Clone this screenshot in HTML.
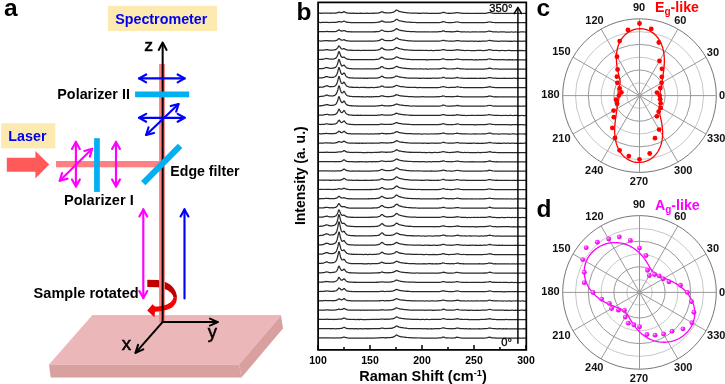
<!DOCTYPE html>
<html><head><meta charset="utf-8"><title>Polarized Raman</title>
<style>html,body{margin:0;padding:0;background:#fff;} svg{display:block;}</style></head>
<body><svg width="725" height="384" viewBox="0 0 725 384" font-family="'Liberation Sans', Arial, sans-serif">
<rect width="725" height="384" fill="#fff"/>
<text x="4" y="16.2" font-size="24.5" font-weight="bold" fill="#000" text-anchor="start" >a</text>
<rect x="107.8" y="5.8" width="109.3" height="25.2" fill="#FDEAB0"/>
<text x="115.2" y="24.1" font-size="14.3" font-weight="bold" fill="#0000F0" text-anchor="start" >Spectrometer</text>
<rect x="1.2" y="123.3" width="54.1" height="25.1" fill="#FDEAB0"/>
<text x="8.3" y="141.2" font-size="14.3" font-weight="bold" fill="#0000F0" text-anchor="start" >Laser</text>
<polygon points="92,315.5 281,315.5 239,364.5 49,364.5" fill="#ECB7B8"/>
<polygon points="49,364.5 239,364.5 241.5,377.6 50.6,377.6" fill="#D9A0A0"/>
<polygon points="281,315.5 283,328.4 241.5,377.6 239,364.5" fill="#D9A0A0"/>
<line x1="92" y1="315.8" x2="281" y2="315.8" stroke="#E3A6A8" stroke-width="0.8"/>
<polygon points="6.8,157.8 35.4,157.8 35.4,151 49.2,164.6 35.4,178.5 35.4,171.8 6.8,171.8" fill="#FF5A5A"/>
<rect x="56" y="161" width="105" height="6.3" fill="#FF8080"/>
<path d="M147.3,279.8 L157.9,280.1 C161,280.5 164,281.5 166.3,282.6 C169,283.9 171.2,285.4 172.7,287.1 C174.6,289.2 175.9,291.8 176.5,294.2 C176.8,295.3 176.9,296.2 176.9,297.3 L173.4,297.2 C173.0,295.5 172.2,294 170.6,292.6 C169,291.1 167.2,290 165.2,289.3 C162.8,288.3 160.2,287.6 157.9,287.3 L147.3,287.0 Z" fill="#C00000"/>
<rect x="159.1" y="64" width="5.8" height="258.2" fill="#FF8080"/>
<path d="M176.9,297 C176.9,299 176.7,300.8 176.0,302.6 C175.0,304.6 173.8,306 172.3,307.2 C170.2,308.6 167.8,309.6 165.2,310.2 C162.6,310.9 160.2,311.2 157.9,311.4 L155.0,311.8 L154.4,317.2 L147.2,310.6 L152.6,304.2 L154.9,306.6 L157.9,306.4 C160.5,306.2 163,305.7 165.2,305 C167.6,304.2 169.6,303 171.3,301.4 C172.5,300.1 173.2,298.8 173.4,297.2 Z" fill="#F50000"/>
<line x1="162.65" y1="322.20" x2="162.65" y2="43.00" stroke="#000" stroke-width="2.0" stroke-linecap="butt" />
<polyline points="166.59,49.92 162.65,42.50 158.71,49.92" fill="none" stroke="#000" stroke-width="2.0" stroke-linecap="round" stroke-linejoin="round"/>
<text x="144.6" y="50.9" font-size="13.4" font-weight="bold" fill="#000" text-anchor="start" stroke="#000" stroke-width="0.35">Z</text>
<rect x="135.1" y="91.5" width="54.1" height="5.8" fill="#00B0F0"/>
<text transform="translate(57.3,98.6) scale(1.0261,1)" font-size="14" font-weight="bold" fill="#000" text-anchor="start" >Polarizer II</text>
<line x1="139.10" y1="78.40" x2="184.70" y2="78.40" stroke="#0000FF" stroke-width="2.15" stroke-linecap="round" />
<polyline points="177.62,82.33 184.70,78.40 177.62,74.47" fill="none" stroke="#0000FF" stroke-width="2.15" stroke-linecap="round" stroke-linejoin="round"/>
<polyline points="146.18,74.47 139.10,78.40 146.18,82.33" fill="none" stroke="#0000FF" stroke-width="2.15" stroke-linecap="round" stroke-linejoin="round"/>
<line x1="139.10" y1="117.80" x2="184.70" y2="117.80" stroke="#0000FF" stroke-width="2.15" stroke-linecap="round" />
<polyline points="177.62,121.73 184.70,117.80 177.62,113.87" fill="none" stroke="#0000FF" stroke-width="2.15" stroke-linecap="round" stroke-linejoin="round"/>
<polyline points="146.18,113.87 139.10,117.80 146.18,121.73" fill="none" stroke="#0000FF" stroke-width="2.15" stroke-linecap="round" stroke-linejoin="round"/>
<line x1="146.15" y1="134.98" x2="178.55" y2="104.02" stroke="#0000FF" stroke-width="2.15" stroke-linecap="round" />
<polyline points="176.14,111.76 178.55,104.02 170.71,106.08" fill="none" stroke="#0000FF" stroke-width="2.15" stroke-linecap="round" stroke-linejoin="round"/>
<polyline points="148.56,127.24 146.15,134.98 153.99,132.92" fill="none" stroke="#0000FF" stroke-width="2.15" stroke-linecap="round" stroke-linejoin="round"/>
<rect x="94.1" y="138.2" width="5.7" height="53.7" fill="#00B0F0"/>
<text transform="translate(63.9,205.1) scale(1.0437,1)" font-size="14" font-weight="bold" fill="#000" text-anchor="start" >Polarizer I</text>
<line x1="75.90" y1="141.90" x2="75.90" y2="186.50" stroke="#FF00FF" stroke-width="2.15" stroke-linecap="round" />
<polyline points="71.97,179.42 75.90,186.50 79.83,179.42" fill="none" stroke="#FF00FF" stroke-width="2.15" stroke-linecap="round" stroke-linejoin="round"/>
<polyline points="79.83,148.98 75.90,141.90 71.97,148.98" fill="none" stroke="#FF00FF" stroke-width="2.15" stroke-linecap="round" stroke-linejoin="round"/>
<line x1="116.00" y1="141.90" x2="116.00" y2="186.50" stroke="#FF00FF" stroke-width="2.15" stroke-linecap="round" />
<polyline points="112.07,179.42 116.00,186.50 119.93,179.42" fill="none" stroke="#FF00FF" stroke-width="2.15" stroke-linecap="round" stroke-linejoin="round"/>
<polyline points="119.93,148.98 116.00,141.90 112.07,148.98" fill="none" stroke="#FF00FF" stroke-width="2.15" stroke-linecap="round" stroke-linejoin="round"/>
<line x1="59.74" y1="180.77" x2="92.16" y2="148.83" stroke="#FF00FF" stroke-width="2.15" stroke-linecap="round" />
<polyline points="89.87,156.60 92.16,148.83 84.36,151.01" fill="none" stroke="#FF00FF" stroke-width="2.15" stroke-linecap="round" stroke-linejoin="round"/>
<polyline points="62.03,173.00 59.74,180.77 67.54,178.59" fill="none" stroke="#FF00FF" stroke-width="2.15" stroke-linecap="round" stroke-linejoin="round"/>
<line x1="143.25" y1="183.15" x2="180.10" y2="145.85" stroke="#00B0F0" stroke-width="6.2" stroke-linecap="butt" />
<text transform="translate(170.3,176.3) scale(1.0119,1)" font-size="14" font-weight="bold" fill="#000" text-anchor="start" >Edge filter</text>
<line x1="143.30" y1="298.10" x2="143.30" y2="209.40" stroke="#FF00FF" stroke-width="2.15" stroke-linecap="round" />
<polyline points="147.23,216.48 143.30,209.40 139.37,216.48" fill="none" stroke="#FF00FF" stroke-width="2.15" stroke-linecap="round" stroke-linejoin="round"/>
<polyline points="139.37,291.02 143.30,298.10 147.23,291.02" fill="none" stroke="#FF00FF" stroke-width="2.15" stroke-linecap="round" stroke-linejoin="round"/>
<line x1="184.50" y1="298.40" x2="184.50" y2="209.40" stroke="#0000FF" stroke-width="2.15" stroke-linecap="round" />
<polyline points="188.43,216.48 184.50,209.40 180.57,216.48" fill="none" stroke="#0000FF" stroke-width="2.15" stroke-linecap="round" stroke-linejoin="round"/>
<text transform="translate(33.6,297.6) scale(1.0404,1)" font-size="14" font-weight="bold" fill="#000" text-anchor="start" >Sample rotated</text>
<line x1="162.50" y1="322.10" x2="217.60" y2="322.10" stroke="#000" stroke-width="2.0" stroke-linecap="round" />
<polyline points="209.94,325.60 217.80,322.10 209.94,318.60" fill="none" stroke="#000" stroke-width="2.0" stroke-linecap="round" stroke-linejoin="round"/>
<line x1="162.50" y1="322.10" x2="135.50" y2="352.90" stroke="#000" stroke-width="2.0" stroke-linecap="round" />
<polyline points="138.05,344.69 135.50,352.90 143.31,349.30" fill="none" stroke="#000" stroke-width="2.0" stroke-linecap="round" stroke-linejoin="round"/>
<text x="121.7" y="350.3" font-size="18.8" font-weight="normal" fill="#000" text-anchor="start" stroke="#000" stroke-width="0.5">x</text>
<text x="207.8" y="337.5" font-size="18.5" font-weight="normal" fill="#000" text-anchor="start" stroke="#000" stroke-width="0.5">y</text>
<text x="296.5" y="19.6" font-size="24.5" font-weight="bold" fill="#000" text-anchor="start" >b</text>
<g fill="none" stroke="#2a2a2a" stroke-width="1.25" stroke-linejoin="round"><polyline points="318.0,13.2 318.5,13.2 319.0,13.2 319.6,13.2 320.1,13.2 320.6,13.3 321.1,13.3 321.6,13.1 322.2,13.2 322.7,13.2 323.2,13.1 323.7,13.1 324.2,13.1 324.8,13.1 325.3,13.0 325.8,13.1 326.3,13.0 326.8,13.0 327.4,13.0 327.9,13.0 328.4,13.1 328.9,13.2 329.4,13.1 330.0,13.2 330.5,13.2 331.0,13.3 331.5,13.1 332.0,13.2 332.6,13.2 333.1,13.1 333.6,13.1 334.1,13.1 334.6,13.2 335.2,13.1 335.7,13.1 336.2,12.9 336.7,12.9 337.2,12.9 337.8,12.7 338.3,12.4 338.8,12.1 339.3,12.2 339.8,12.3 340.4,12.6 340.9,12.6 341.4,12.7 341.9,12.6 342.4,12.4 343.0,12.2 343.5,11.9 344.0,11.7 344.5,11.8 345.0,12.1 345.6,12.4 346.1,12.7 346.6,12.9 347.1,12.9 347.6,13.0 348.2,13.0 348.7,13.1 349.2,13.2 349.7,13.3 350.2,13.2 350.8,13.2 351.3,13.3 351.8,13.3 352.3,13.2 352.8,13.2 353.4,13.4 353.9,13.2 354.4,13.3 354.9,13.4 355.4,13.3 356.0,13.3 356.5,13.2 357.0,13.4 357.5,13.3 358.0,13.4 358.6,13.3 359.1,13.3 359.6,13.3 360.1,13.2 360.6,13.3 361.2,13.2 361.7,13.4 362.2,13.4 362.7,13.3 363.2,13.4 363.8,13.4 364.3,13.3 364.8,13.3 365.3,13.4 365.8,13.4 366.4,13.2 366.9,13.3 367.4,13.2 367.9,13.2 368.4,13.3 369.0,13.3 369.5,13.3 370.0,13.3 370.5,13.3 371.0,13.3 371.6,13.2 372.1,13.2 372.6,13.3 373.1,13.3 373.6,13.2 374.2,13.3 374.7,13.2 375.2,13.1 375.7,13.2 376.2,13.1 376.8,13.2 377.3,13.1 377.8,13.0 378.3,13.0 378.8,12.9 379.4,12.7 379.9,12.7 380.4,12.3 380.9,12.1 381.4,11.8 382.0,11.8 382.5,11.8 383.0,12.0 383.5,12.4 384.0,12.6 384.6,12.6 385.1,12.7 385.6,12.9 386.1,12.9 386.6,12.9 387.2,12.9 387.7,12.9 388.2,12.9 388.7,12.9 389.2,12.8 389.8,12.8 390.3,12.8 390.8,12.7 391.3,12.7 391.8,12.5 392.4,12.4 392.9,12.3 393.4,12.2 393.9,11.8 394.4,11.6 395.0,11.2 395.5,10.7 396.0,10.2 396.5,10.1 397.0,10.2 397.6,10.5 398.1,10.7 398.6,11.1 399.1,11.3 399.6,11.6 400.2,11.7 400.7,11.7 401.2,11.8 401.7,12.0 402.2,12.1 402.8,12.2 403.3,12.3 403.8,12.4 404.3,12.4 404.8,12.5 405.4,12.6 405.9,12.7 406.4,12.7 407.4,12.8 408.5,12.8 409.5,13.0 410.6,13.1 411.6,13.1 412.6,13.1 413.7,13.2 414.7,13.2 415.8,13.2 416.8,13.2 417.8,13.3 418.9,13.2 419.9,13.3 421.0,13.4 422.0,13.2 423.0,13.2 424.1,13.2 425.1,13.3 426.2,13.2 427.2,13.2 428.2,13.4 429.3,13.3 430.3,13.3 431.4,13.3 432.4,13.3 433.4,13.4 434.5,13.3 435.5,13.4 436.6,13.4 437.6,13.3 438.6,13.3 439.7,13.1 440.7,13.1 441.8,12.8 442.8,12.4 443.8,12.4 444.9,12.7 445.9,13.0 447.0,13.2 448.0,13.3 449.0,13.2 450.1,13.3 451.1,13.3 452.2,13.2 453.2,13.2 454.2,13.2 455.3,12.9 456.3,12.7 457.4,12.6 458.4,12.8 459.4,12.9 460.5,13.2 461.5,13.2 462.6,13.3 463.6,13.4 464.6,13.3 465.7,13.3 466.7,13.4 467.8,13.3 468.8,13.3 469.8,13.3 470.9,13.3 471.9,13.5 473.0,13.3 474.0,13.3 475.0,13.4 476.1,13.4 477.1,13.4 478.2,13.4 479.2,13.4 480.2,13.4 481.3,13.3 482.3,13.4 483.4,13.4 484.4,13.4 485.4,13.3 486.5,13.2 487.5,12.9 488.6,12.6 489.6,12.6 490.6,12.7 491.7,13.0 492.7,13.2 493.8,13.3 494.8,13.3 495.8,13.3 496.9,13.4 497.9,13.4 499.0,13.4 500.0,13.4 501.0,13.4 502.1,13.3 503.1,13.4 504.2,13.5 505.2,13.4 506.2,13.4 507.3,13.4 508.3,13.3 509.4,13.4 510.4,13.3 511.4,13.4 512.5,13.4 513.5,13.4 514.6,13.4 515.6,13.4 516.6,13.4 517.7,13.4 518.7,13.4 519.8,13.4 520.8,13.4 521.8,13.4 522.9,13.5 523.9,13.4 525.0,13.4 526.0,13.3"/><polyline points="318.0,22.4 318.5,22.5 319.0,22.4 319.6,22.4 320.1,22.5 320.6,22.5 321.1,22.5 321.6,22.4 322.2,22.4 322.7,22.4 323.2,22.4 323.7,22.4 324.2,22.4 324.8,22.4 325.3,22.4 325.8,22.3 326.3,22.4 326.8,22.4 327.4,22.3 327.9,22.4 328.4,22.5 328.9,22.5 329.4,22.4 330.0,22.5 330.5,22.5 331.0,22.4 331.5,22.5 332.0,22.4 332.6,22.4 333.1,22.4 333.6,22.4 334.1,22.4 334.6,22.4 335.2,22.5 335.7,22.3 336.2,22.3 336.7,22.2 337.2,22.2 337.8,21.9 338.3,21.6 338.8,21.6 339.3,21.5 339.8,21.6 340.4,21.8 340.9,22.0 341.4,22.0 341.9,21.9 342.4,21.7 343.0,21.5 343.5,21.2 344.0,21.1 344.5,21.2 345.0,21.5 345.6,21.8 346.1,22.1 346.6,22.2 347.1,22.2 347.6,22.4 348.2,22.4 348.7,22.5 349.2,22.4 349.7,22.4 350.2,22.5 350.8,22.5 351.3,22.5 351.8,22.5 352.3,22.5 352.8,22.6 353.4,22.6 353.9,22.5 354.4,22.5 354.9,22.6 355.4,22.6 356.0,22.5 356.5,22.6 357.0,22.6 357.5,22.6 358.0,22.6 358.6,22.6 359.1,22.6 359.6,22.6 360.1,22.5 360.6,22.6 361.2,22.6 361.7,22.6 362.2,22.5 362.7,22.6 363.2,22.6 363.8,22.6 364.3,22.7 364.8,22.6 365.3,22.6 365.8,22.6 366.4,22.6 366.9,22.6 367.4,22.5 367.9,22.6 368.4,22.5 369.0,22.6 369.5,22.5 370.0,22.6 370.5,22.5 371.0,22.5 371.6,22.5 372.1,22.5 372.6,22.5 373.1,22.5 373.6,22.5 374.2,22.5 374.7,22.4 375.2,22.5 375.7,22.5 376.2,22.5 376.8,22.4 377.3,22.3 377.8,22.2 378.3,22.2 378.8,22.2 379.4,22.1 379.9,21.9 380.4,21.7 380.9,21.3 381.4,21.1 382.0,20.9 382.5,21.1 383.0,21.3 383.5,21.6 384.0,21.8 384.6,21.9 385.1,22.1 385.6,22.2 386.1,22.1 386.6,22.2 387.2,22.2 387.7,22.2 388.2,22.1 388.7,22.2 389.2,22.2 389.8,22.1 390.3,22.0 390.8,22.0 391.3,21.9 391.8,21.7 392.4,21.7 392.9,21.6 393.4,21.5 393.9,21.2 394.4,20.8 395.0,20.5 395.5,19.9 396.0,19.5 396.5,19.4 397.0,19.3 397.6,19.8 398.1,20.0 398.6,20.3 399.1,20.7 399.6,20.8 400.2,20.9 400.7,21.0 401.2,21.2 401.7,21.2 402.2,21.3 402.8,21.4 403.3,21.5 403.8,21.7 404.3,21.7 404.8,21.8 405.4,21.8 405.9,21.9 406.4,22.0 407.4,22.2 408.5,22.2 409.5,22.2 410.6,22.4 411.6,22.3 412.6,22.4 413.7,22.5 414.7,22.4 415.8,22.5 416.8,22.5 417.8,22.5 418.9,22.5 419.9,22.5 421.0,22.5 422.0,22.6 423.0,22.6 424.1,22.6 425.1,22.7 426.2,22.5 427.2,22.5 428.2,22.6 429.3,22.6 430.3,22.6 431.4,22.6 432.4,22.6 433.4,22.5 434.5,22.7 435.5,22.6 436.6,22.6 437.6,22.5 438.6,22.5 439.7,22.5 440.7,22.4 441.8,22.1 442.8,21.7 443.8,21.7 444.9,22.0 445.9,22.4 447.0,22.5 448.0,22.6 449.0,22.6 450.1,22.5 451.1,22.5 452.2,22.6 453.2,22.5 454.2,22.4 455.3,22.2 456.3,22.0 457.4,21.8 458.4,22.0 459.4,22.4 460.5,22.5 461.5,22.6 462.6,22.6 463.6,22.6 464.6,22.7 465.7,22.7 466.7,22.6 467.8,22.7 468.8,22.6 469.8,22.6 470.9,22.6 471.9,22.7 473.0,22.6 474.0,22.6 475.0,22.6 476.1,22.6 477.1,22.6 478.2,22.7 479.2,22.6 480.2,22.6 481.3,22.6 482.3,22.6 483.4,22.7 484.4,22.5 485.4,22.5 486.5,22.4 487.5,22.3 488.6,22.0 489.6,21.8 490.6,22.0 491.7,22.3 492.7,22.4 493.8,22.5 494.8,22.6 495.8,22.6 496.9,22.5 497.9,22.6 499.0,22.7 500.0,22.6 501.0,22.6 502.1,22.7 503.1,22.7 504.2,22.7 505.2,22.7 506.2,22.7 507.3,22.6 508.3,22.7 509.4,22.6 510.4,22.6 511.4,22.7 512.5,22.6 513.5,22.6 514.6,22.6 515.6,22.6 516.6,22.6 517.7,22.7 518.7,22.6 519.8,22.6 520.8,22.6 521.8,22.7 522.9,22.6 523.9,22.7 525.0,22.7 526.0,22.8"/><polyline points="318.0,31.8 318.5,31.8 319.0,31.8 319.6,31.7 320.1,31.7 320.6,31.7 321.1,31.7 321.6,31.7 322.2,31.7 322.7,31.7 323.2,31.6 323.7,31.7 324.2,31.7 324.8,31.5 325.3,31.5 325.8,31.5 326.3,31.5 326.8,31.4 327.4,31.4 327.9,31.6 328.4,31.6 328.9,31.7 329.4,31.6 330.0,31.7 330.5,31.7 331.0,31.7 331.5,31.7 332.0,31.7 332.6,31.7 333.1,31.7 333.6,31.7 334.1,31.7 334.6,31.6 335.2,31.5 335.7,31.5 336.2,31.4 336.7,31.2 337.2,30.9 337.8,30.5 338.3,30.2 338.8,29.8 339.3,29.9 339.8,30.3 340.4,30.5 340.9,30.9 341.4,31.1 341.9,31.0 342.4,31.0 343.0,30.8 343.5,30.7 344.0,30.6 344.5,30.7 345.0,30.8 345.6,31.2 346.1,31.3 346.6,31.5 347.1,31.5 347.6,31.7 348.2,31.7 348.7,31.8 349.2,31.7 349.7,31.7 350.2,31.8 350.8,31.9 351.3,31.8 351.8,31.7 352.3,31.8 352.8,31.9 353.4,31.9 353.9,31.9 354.4,31.9 354.9,31.9 355.4,31.9 356.0,31.8 356.5,31.8 357.0,31.9 357.5,31.8 358.0,31.9 358.6,31.8 359.1,31.8 359.6,31.8 360.1,32.0 360.6,31.9 361.2,31.9 361.7,31.8 362.2,31.9 362.7,31.9 363.2,31.8 363.8,31.9 364.3,31.9 364.8,31.9 365.3,31.8 365.8,31.8 366.4,31.9 366.9,31.8 367.4,31.8 367.9,31.8 368.4,31.8 369.0,31.8 369.5,31.9 370.0,31.9 370.5,31.9 371.0,31.8 371.6,31.8 372.1,31.9 372.6,31.9 373.1,31.8 373.6,31.8 374.2,31.7 374.7,31.8 375.2,31.7 375.7,31.8 376.2,31.7 376.8,31.7 377.3,31.6 377.8,31.5 378.3,31.5 378.8,31.5 379.4,31.3 379.9,31.0 380.4,30.8 380.9,30.5 381.4,30.2 382.0,30.2 382.5,30.2 383.0,30.5 383.5,30.8 384.0,31.0 384.6,31.3 385.1,31.3 385.6,31.3 386.1,31.5 386.6,31.4 387.2,31.5 387.7,31.5 388.2,31.4 388.7,31.5 389.2,31.5 389.8,31.4 390.3,31.3 390.8,31.3 391.3,31.3 391.8,31.2 392.4,30.9 392.9,30.9 393.4,30.7 393.9,30.5 394.4,30.1 395.0,29.8 395.5,29.3 396.0,28.9 396.5,28.7 397.0,28.8 397.6,29.2 398.1,29.4 398.6,29.8 399.1,30.0 399.6,30.0 400.2,30.3 400.7,30.3 401.2,30.6 401.7,30.6 402.2,30.7 402.8,30.7 403.3,30.8 403.8,30.9 404.3,31.0 404.8,31.0 405.4,31.2 405.9,31.2 406.4,31.3 407.4,31.5 408.5,31.4 409.5,31.5 410.6,31.5 411.6,31.7 412.6,31.7 413.7,31.7 414.7,31.7 415.8,31.8 416.8,31.8 417.8,31.8 418.9,31.9 419.9,31.8 421.0,31.8 422.0,31.9 423.0,31.8 424.1,31.8 425.1,31.9 426.2,31.9 427.2,31.8 428.2,31.9 429.3,31.9 430.3,32.0 431.4,31.9 432.4,31.9 433.4,31.8 434.5,31.8 435.5,31.8 436.6,31.8 437.6,31.8 438.6,31.7 439.7,31.7 440.7,31.6 441.8,31.3 442.8,30.9 443.8,30.9 444.9,31.4 445.9,31.6 447.0,31.7 448.0,31.7 449.0,31.7 450.1,31.9 451.1,31.7 452.2,31.9 453.2,31.8 454.2,31.7 455.3,31.6 456.3,31.3 457.4,31.1 458.4,31.4 459.4,31.5 460.5,31.8 461.5,31.8 462.6,31.9 463.6,31.8 464.6,31.8 465.7,31.9 466.7,32.0 467.8,31.9 468.8,31.9 469.8,32.0 470.9,32.0 471.9,31.9 473.0,31.9 474.0,31.8 475.0,31.8 476.1,31.8 477.1,31.9 478.2,32.0 479.2,31.9 480.2,31.9 481.3,31.9 482.3,31.9 483.4,31.9 484.4,31.8 485.4,31.8 486.5,31.7 487.5,31.5 488.6,31.2 489.6,31.1 490.6,31.3 491.7,31.5 492.7,31.8 493.8,31.9 494.8,31.8 495.8,31.9 496.9,31.9 497.9,32.0 499.0,32.0 500.0,31.9 501.0,31.9 502.1,31.8 503.1,31.9 504.2,31.8 505.2,32.0 506.2,32.0 507.3,32.0 508.3,32.0 509.4,32.0 510.4,32.0 511.4,31.9 512.5,32.0 513.5,32.0 514.6,32.0 515.6,31.9 516.6,32.0 517.7,32.0 518.7,32.0 519.8,32.0 520.8,31.9 521.8,31.9 522.9,31.9 523.9,31.9 525.0,32.0 526.0,32.0"/><polyline points="318.0,40.9 318.5,40.9 319.0,41.0 319.6,40.9 320.1,41.0 320.6,41.0 321.1,41.0 321.6,41.0 322.2,40.9 322.7,40.9 323.2,40.8 323.7,40.9 324.2,40.8 324.8,40.7 325.3,40.7 325.8,40.7 326.3,40.7 326.8,40.6 327.4,40.7 327.9,40.8 328.4,40.8 328.9,40.7 329.4,40.9 330.0,40.9 330.5,40.9 331.0,40.9 331.5,40.9 332.0,40.9 332.6,40.8 333.1,41.0 333.6,40.9 334.1,40.8 334.6,40.8 335.2,40.7 335.7,40.6 336.2,40.4 336.7,40.3 337.2,40.1 337.8,39.5 338.3,39.0 338.8,38.6 339.3,38.7 339.8,39.0 340.4,39.5 340.9,40.0 341.4,40.1 341.9,40.2 342.4,40.2 343.0,40.0 343.5,39.8 344.0,39.7 344.5,39.9 345.0,40.1 345.6,40.4 346.1,40.6 346.6,40.7 347.1,40.9 347.6,40.9 348.2,40.9 348.7,40.9 349.2,41.0 349.7,41.1 350.2,41.1 350.8,41.1 351.3,41.1 351.8,41.0 352.3,41.2 352.8,41.2 353.4,41.2 353.9,41.2 354.4,41.1 354.9,41.1 355.4,41.1 356.0,41.1 356.5,41.1 357.0,41.2 357.5,41.2 358.0,41.1 358.6,41.2 359.1,41.2 359.6,41.1 360.1,41.2 360.6,41.1 361.2,41.2 361.7,41.2 362.2,41.1 362.7,41.2 363.2,41.1 363.8,41.2 364.3,41.1 364.8,41.1 365.3,41.1 365.8,41.2 366.4,41.2 366.9,41.1 367.4,41.2 367.9,41.2 368.4,41.1 369.0,41.0 369.5,41.2 370.0,41.0 370.5,41.1 371.0,41.1 371.6,41.2 372.1,41.1 372.6,41.0 373.1,41.1 373.6,41.1 374.2,41.1 374.7,41.1 375.2,41.0 375.7,40.9 376.2,41.0 376.8,40.9 377.3,40.8 377.8,40.7 378.3,40.6 378.8,40.6 379.4,40.4 379.9,40.1 380.4,39.9 380.9,39.5 381.4,39.2 382.0,39.2 382.5,39.2 383.0,39.5 383.5,39.8 384.0,40.1 384.6,40.3 385.1,40.5 385.6,40.6 386.1,40.6 386.6,40.6 387.2,40.7 387.7,40.7 388.2,40.6 388.7,40.6 389.2,40.7 389.8,40.6 390.3,40.5 390.8,40.6 391.3,40.5 391.8,40.5 392.4,40.4 392.9,40.1 393.4,40.0 393.9,39.7 394.4,39.6 395.0,39.2 395.5,38.6 396.0,38.2 396.5,38.0 397.0,38.1 397.6,38.4 398.1,38.7 398.6,39.1 399.1,39.3 399.6,39.5 400.2,39.7 400.7,39.7 401.2,39.8 401.7,39.9 402.2,40.0 402.8,40.1 403.3,40.2 403.8,40.2 404.3,40.2 404.8,40.3 405.4,40.4 405.9,40.5 406.4,40.6 407.4,40.6 408.5,40.8 409.5,40.9 410.6,40.9 411.6,40.9 412.6,41.0 413.7,41.0 414.7,41.1 415.8,41.0 416.8,41.1 417.8,41.1 418.9,41.1 419.9,41.0 421.0,41.0 422.0,41.1 423.0,41.1 424.1,41.1 425.1,41.2 426.2,41.2 427.2,41.1 428.2,41.1 429.3,41.2 430.3,41.1 431.4,41.2 432.4,41.1 433.4,41.2 434.5,41.2 435.5,41.1 436.6,41.1 437.6,41.1 438.6,41.0 439.7,41.0 440.7,40.9 441.8,40.7 442.8,40.3 443.8,40.3 444.9,40.7 445.9,40.9 447.0,40.9 448.0,41.0 449.0,41.2 450.1,41.2 451.1,41.1 452.2,41.1 453.2,41.1 454.2,41.1 455.3,40.9 456.3,40.6 457.4,40.5 458.4,40.6 459.4,40.8 460.5,41.0 461.5,41.0 462.6,41.1 463.6,41.1 464.6,41.1 465.7,41.2 466.7,41.1 467.8,41.3 468.8,41.1 469.8,41.2 470.9,41.2 471.9,41.1 473.0,41.2 474.0,41.3 475.0,41.1 476.1,41.2 477.1,41.3 478.2,41.3 479.2,41.2 480.2,41.3 481.3,41.1 482.3,41.2 483.4,41.2 484.4,41.1 485.4,41.1 486.5,41.0 487.5,40.8 488.6,40.5 489.6,40.3 490.6,40.6 491.7,40.7 492.7,40.9 493.8,41.1 494.8,41.1 495.8,41.1 496.9,41.1 497.9,41.3 499.0,41.3 500.0,41.2 501.0,41.2 502.1,41.1 503.1,41.1 504.2,41.2 505.2,41.2 506.2,41.2 507.3,41.1 508.3,41.3 509.4,41.2 510.4,41.3 511.4,41.2 512.5,41.3 513.5,41.1 514.6,41.2 515.6,41.2 516.6,41.3 517.7,41.3 518.7,41.2 519.8,41.2 520.8,41.2 521.8,41.3 522.9,41.1 523.9,41.2 525.0,41.2 526.0,41.3"/><polyline points="318.0,50.3 318.5,50.2 319.0,50.3 319.6,50.2 320.1,50.2 320.6,50.2 321.1,50.1 321.6,50.1 322.2,50.1 322.7,50.1 323.2,50.1 323.7,50.1 324.2,50.0 324.8,49.9 325.3,49.9 325.8,49.6 326.3,49.7 326.8,49.6 327.4,49.6 327.9,49.8 328.4,49.8 328.9,50.0 329.4,50.0 330.0,50.1 330.5,50.1 331.0,50.1 331.5,50.1 332.0,50.0 332.6,50.0 333.1,50.1 333.6,50.0 334.1,49.9 334.6,49.9 335.2,49.7 335.7,49.6 336.2,49.2 336.7,48.9 337.2,48.4 337.8,47.6 338.3,46.6 338.8,45.9 339.3,46.0 339.8,46.7 340.4,47.7 340.9,48.3 341.4,48.7 341.9,49.0 342.4,49.0 343.0,48.9 343.5,48.7 344.0,48.6 344.5,48.8 345.0,49.1 345.6,49.5 346.1,49.6 346.6,49.8 347.1,50.0 347.6,50.1 348.2,50.2 348.7,50.1 349.2,50.2 349.7,50.3 350.2,50.2 350.8,50.2 351.3,50.3 351.8,50.2 352.3,50.3 352.8,50.4 353.4,50.3 353.9,50.4 354.4,50.3 354.9,50.4 355.4,50.5 356.0,50.4 356.5,50.3 357.0,50.4 357.5,50.4 358.0,50.3 358.6,50.4 359.1,50.4 359.6,50.4 360.1,50.3 360.6,50.5 361.2,50.5 361.7,50.4 362.2,50.4 362.7,50.4 363.2,50.3 363.8,50.3 364.3,50.4 364.8,50.3 365.3,50.3 365.8,50.4 366.4,50.4 366.9,50.5 367.4,50.4 367.9,50.3 368.4,50.4 369.0,50.4 369.5,50.4 370.0,50.4 370.5,50.3 371.0,50.3 371.6,50.4 372.1,50.4 372.6,50.3 373.1,50.3 373.6,50.3 374.2,50.3 374.7,50.3 375.2,50.3 375.7,50.2 376.2,50.2 376.8,50.2 377.3,50.1 377.8,50.0 378.3,49.9 378.8,49.7 379.4,49.6 379.9,49.4 380.4,48.9 380.9,48.4 381.4,48.1 382.0,47.9 382.5,48.1 383.0,48.6 383.5,48.9 384.0,49.3 384.6,49.4 385.1,49.7 385.6,49.7 386.1,49.8 386.6,49.9 387.2,50.0 387.7,49.9 388.2,50.0 388.7,49.9 389.2,49.9 389.8,50.0 390.3,49.9 390.8,49.7 391.3,49.7 391.8,49.7 392.4,49.5 392.9,49.5 393.4,49.3 393.9,49.0 394.4,48.9 395.0,48.5 395.5,47.9 396.0,47.7 396.5,47.4 397.0,47.6 397.6,47.8 398.1,48.2 398.6,48.4 399.1,48.6 399.6,48.7 400.2,48.9 400.7,49.0 401.2,49.1 401.7,49.2 402.2,49.2 402.8,49.4 403.3,49.5 403.8,49.5 404.3,49.6 404.8,49.8 405.4,49.8 405.9,49.8 406.4,49.9 407.4,49.9 408.5,50.0 409.5,50.0 410.6,50.1 411.6,50.2 412.6,50.3 413.7,50.4 414.7,50.3 415.8,50.3 416.8,50.3 417.8,50.4 418.9,50.4 419.9,50.3 421.0,50.3 422.0,50.4 423.0,50.4 424.1,50.5 425.1,50.4 426.2,50.4 427.2,50.4 428.2,50.5 429.3,50.5 430.3,50.4 431.4,50.4 432.4,50.5 433.4,50.5 434.5,50.5 435.5,50.4 436.6,50.4 437.6,50.4 438.6,50.3 439.7,50.3 440.7,50.2 441.8,49.9 442.8,49.6 443.8,49.6 444.9,49.9 445.9,50.2 447.0,50.4 448.0,50.3 449.0,50.4 450.1,50.3 451.1,50.4 452.2,50.3 453.2,50.3 454.2,50.2 455.3,50.1 456.3,49.8 457.4,49.7 458.4,49.9 459.4,50.1 460.5,50.2 461.5,50.4 462.6,50.4 463.6,50.4 464.6,50.5 465.7,50.5 466.7,50.4 467.8,50.5 468.8,50.4 469.8,50.5 470.9,50.6 471.9,50.6 473.0,50.5 474.0,50.5 475.0,50.5 476.1,50.5 477.1,50.4 478.2,50.4 479.2,50.4 480.2,50.4 481.3,50.4 482.3,50.5 483.4,50.5 484.4,50.5 485.4,50.3 486.5,50.3 487.5,50.2 488.6,49.7 489.6,49.6 490.6,49.8 491.7,50.1 492.7,50.3 493.8,50.3 494.8,50.5 495.8,50.4 496.9,50.4 497.9,50.5 499.0,50.5 500.0,50.5 501.0,50.5 502.1,50.4 503.1,50.5 504.2,50.6 505.2,50.5 506.2,50.6 507.3,50.5 508.3,50.4 509.4,50.4 510.4,50.6 511.4,50.5 512.5,50.5 513.5,50.5 514.6,50.5 515.6,50.5 516.6,50.6 517.7,50.5 518.7,50.6 519.8,50.4 520.8,50.6 521.8,50.4 522.9,50.6 523.9,50.6 525.0,50.5 526.0,50.5"/><polyline points="318.0,59.4 318.5,59.4 319.0,59.4 319.6,59.5 320.1,59.4 320.6,59.4 321.1,59.3 321.6,59.4 322.2,59.4 322.7,59.2 323.2,59.1 323.7,59.1 324.2,59.0 324.8,58.8 325.3,58.7 325.8,58.5 326.3,58.4 326.8,58.5 327.4,58.5 327.9,58.6 328.4,58.8 328.9,58.9 329.4,59.0 330.0,59.1 330.5,59.1 331.0,59.1 331.5,59.0 332.0,59.1 332.6,59.1 333.1,59.0 333.6,59.0 334.1,58.9 334.6,58.6 335.2,58.4 335.7,58.2 336.2,57.7 336.7,57.1 337.2,56.1 337.8,54.7 338.3,53.0 338.8,51.6 339.3,51.8 339.8,53.2 340.4,54.8 340.9,56.1 341.4,56.8 341.9,57.2 342.4,57.4 343.0,57.3 343.5,57.2 344.0,57.1 344.5,57.3 345.0,57.8 345.6,58.2 346.1,58.5 346.6,58.8 347.1,59.1 347.6,59.1 348.2,59.2 348.7,59.3 349.2,59.4 349.7,59.4 350.2,59.5 350.8,59.5 351.3,59.5 351.8,59.5 352.3,59.5 352.8,59.6 353.4,59.5 353.9,59.5 354.4,59.6 354.9,59.5 355.4,59.7 356.0,59.6 356.5,59.6 357.0,59.7 357.5,59.6 358.0,59.6 358.6,59.7 359.1,59.6 359.6,59.6 360.1,59.7 360.6,59.7 361.2,59.7 361.7,59.6 362.2,59.7 362.7,59.7 363.2,59.7 363.8,59.6 364.3,59.7 364.8,59.7 365.3,59.6 365.8,59.7 366.4,59.7 366.9,59.6 367.4,59.7 367.9,59.7 368.4,59.6 369.0,59.7 369.5,59.7 370.0,59.6 370.5,59.7 371.0,59.5 371.6,59.6 372.1,59.6 372.6,59.6 373.1,59.6 373.6,59.6 374.2,59.6 374.7,59.5 375.2,59.5 375.7,59.4 376.2,59.4 376.8,59.3 377.3,59.3 377.8,59.3 378.3,59.2 378.8,59.0 379.4,58.9 379.9,58.4 380.4,58.1 380.9,57.6 381.4,57.3 382.0,57.2 382.5,57.3 383.0,57.8 383.5,58.0 384.0,58.5 384.6,58.8 385.1,58.8 385.6,59.1 386.1,59.0 386.6,59.2 387.2,59.2 387.7,59.3 388.2,59.2 388.7,59.2 389.2,59.2 389.8,59.2 390.3,59.1 390.8,59.2 391.3,59.1 391.8,59.0 392.4,59.0 392.9,58.7 393.4,58.6 393.9,58.5 394.4,58.2 395.0,57.9 395.5,57.4 396.0,57.0 396.5,56.8 397.0,56.9 397.6,57.2 398.1,57.5 398.6,57.7 399.1,58.0 399.6,58.1 400.2,58.2 400.7,58.4 401.2,58.5 401.7,58.5 402.2,58.6 402.8,58.7 403.3,58.8 403.8,58.8 404.3,58.9 404.8,59.0 405.4,59.1 405.9,59.2 406.4,59.2 407.4,59.3 408.5,59.3 409.5,59.4 410.6,59.5 411.6,59.5 412.6,59.6 413.7,59.5 414.7,59.7 415.8,59.5 416.8,59.7 417.8,59.6 418.9,59.7 419.9,59.7 421.0,59.7 422.0,59.6 423.0,59.6 424.1,59.6 425.1,59.6 426.2,59.8 427.2,59.7 428.2,59.8 429.3,59.7 430.3,59.7 431.4,59.7 432.4,59.7 433.4,59.6 434.5,59.7 435.5,59.6 436.6,59.7 437.6,59.7 438.6,59.6 439.7,59.6 440.7,59.5 441.8,59.1 442.8,58.9 443.8,58.8 444.9,59.3 445.9,59.5 447.0,59.5 448.0,59.7 449.0,59.6 450.1,59.6 451.1,59.7 452.2,59.6 453.2,59.6 454.2,59.5 455.3,59.3 456.3,59.1 457.4,59.0 458.4,59.2 459.4,59.4 460.5,59.5 461.5,59.7 462.6,59.7 463.6,59.8 464.6,59.6 465.7,59.7 466.7,59.7 467.8,59.7 468.8,59.8 469.8,59.7 470.9,59.7 471.9,59.7 473.0,59.8 474.0,59.8 475.0,59.8 476.1,59.7 477.1,59.8 478.2,59.8 479.2,59.7 480.2,59.7 481.3,59.8 482.3,59.7 483.4,59.6 484.4,59.6 485.4,59.7 486.5,59.6 487.5,59.3 488.6,59.0 489.6,58.9 490.6,59.1 491.7,59.3 492.7,59.5 493.8,59.7 494.8,59.7 495.8,59.7 496.9,59.7 497.9,59.8 499.0,59.7 500.0,59.7 501.0,59.8 502.1,59.7 503.1,59.7 504.2,59.7 505.2,59.8 506.2,59.8 507.3,59.8 508.3,59.7 509.4,59.8 510.4,59.7 511.4,59.8 512.5,59.7 513.5,59.8 514.6,59.8 515.6,59.8 516.6,59.7 517.7,59.8 518.7,59.8 519.8,59.8 520.8,59.8 521.8,59.8 522.9,59.9 523.9,59.8 525.0,59.8 526.0,59.7"/><polyline points="318.0,68.7 318.5,68.7 319.0,68.7 319.6,68.6 320.1,68.6 320.6,68.6 321.1,68.7 321.6,68.6 322.2,68.5 322.7,68.6 323.2,68.3 323.7,68.3 324.2,68.2 324.8,68.0 325.3,67.8 325.8,67.6 326.3,67.4 326.8,67.5 327.4,67.6 327.9,67.8 328.4,67.9 328.9,68.1 329.4,68.2 330.0,68.3 330.5,68.4 331.0,68.4 331.5,68.4 332.0,68.3 332.6,68.2 333.1,68.2 333.6,68.1 334.1,67.9 334.6,67.7 335.2,67.6 335.7,67.1 336.2,66.7 336.7,65.8 337.2,64.8 337.8,63.1 338.3,61.1 338.8,59.5 339.3,59.7 339.8,61.3 340.4,63.3 340.9,64.6 341.4,65.4 341.9,66.0 342.4,65.9 343.0,65.7 343.5,65.3 344.0,65.1 344.5,65.5 345.0,66.1 345.6,66.9 346.1,67.4 346.6,67.8 347.1,68.1 347.6,68.2 348.2,68.4 348.7,68.4 349.2,68.5 349.7,68.5 350.2,68.6 350.8,68.6 351.3,68.7 351.8,68.8 352.3,68.8 352.8,68.8 353.4,68.8 353.9,68.8 354.4,68.8 354.9,68.8 355.4,68.8 356.0,68.8 356.5,68.9 357.0,68.9 357.5,68.8 358.0,68.8 358.6,68.9 359.1,68.9 359.6,68.9 360.1,69.0 360.6,68.9 361.2,69.0 361.7,68.9 362.2,68.9 362.7,69.0 363.2,68.9 363.8,68.9 364.3,68.8 364.8,68.9 365.3,68.9 365.8,68.9 366.4,68.9 366.9,69.0 367.4,68.9 367.9,68.9 368.4,68.8 369.0,68.9 369.5,68.9 370.0,69.0 370.5,68.9 371.0,69.0 371.6,68.8 372.1,68.9 372.6,68.8 373.1,68.9 373.6,68.9 374.2,68.8 374.7,68.8 375.2,68.8 375.7,68.7 376.2,68.7 376.8,68.6 377.3,68.6 377.8,68.6 378.3,68.4 378.8,68.2 379.4,68.1 379.9,67.9 380.4,67.6 380.9,67.0 381.4,66.6 382.0,66.5 382.5,66.7 383.0,67.0 383.5,67.5 384.0,67.8 384.6,68.0 385.1,68.2 385.6,68.3 386.1,68.4 386.6,68.4 387.2,68.6 387.7,68.5 388.2,68.5 388.7,68.5 389.2,68.5 389.8,68.5 390.3,68.6 390.8,68.4 391.3,68.4 391.8,68.3 392.4,68.3 392.9,68.1 393.4,68.1 393.9,67.8 394.4,67.6 395.0,67.2 395.5,66.8 396.0,66.6 396.5,66.3 397.0,66.5 397.6,66.7 398.1,67.1 398.6,67.2 399.1,67.4 399.6,67.5 400.2,67.7 400.7,67.7 401.2,67.9 401.7,67.9 402.2,68.0 402.8,68.2 403.3,68.2 403.8,68.1 404.3,68.3 404.8,68.4 405.4,68.3 405.9,68.5 406.4,68.4 407.4,68.6 408.5,68.7 409.5,68.6 410.6,68.8 411.6,68.8 412.6,68.8 413.7,68.9 414.7,68.9 415.8,68.8 416.8,68.9 417.8,69.0 418.9,68.9 419.9,68.9 421.0,68.9 422.0,68.9 423.0,69.0 424.1,69.0 425.1,68.9 426.2,68.9 427.2,69.1 428.2,69.0 429.3,69.0 430.3,68.9 431.4,69.0 432.4,69.0 433.4,68.9 434.5,69.0 435.5,68.9 436.6,69.0 437.6,68.9 438.6,68.8 439.7,68.9 440.7,68.7 441.8,68.5 442.8,68.2 443.8,68.2 444.9,68.4 445.9,68.7 447.0,68.9 448.0,68.8 449.0,69.0 450.1,68.9 451.1,69.0 452.2,68.9 453.2,68.8 454.2,68.8 455.3,68.7 456.3,68.5 457.4,68.2 458.4,68.5 459.4,68.6 460.5,68.9 461.5,68.8 462.6,68.9 463.6,68.9 464.6,69.0 465.7,69.1 466.7,69.1 467.8,69.0 468.8,69.1 469.8,69.1 470.9,69.0 471.9,69.0 473.0,69.0 474.0,69.0 475.0,69.0 476.1,69.0 477.1,69.0 478.2,69.0 479.2,69.0 480.2,69.1 481.3,69.1 482.3,69.0 483.4,69.0 484.4,69.0 485.4,68.8 486.5,68.8 487.5,68.6 488.6,68.3 489.6,68.2 490.6,68.3 491.7,68.6 492.7,68.9 493.8,69.0 494.8,68.9 495.8,68.9 496.9,68.9 497.9,69.0 499.0,69.0 500.0,69.1 501.0,69.1 502.1,69.0 503.1,69.0 504.2,69.1 505.2,69.0 506.2,69.1 507.3,69.0 508.3,69.1 509.4,69.0 510.4,69.0 511.4,69.0 512.5,69.1 513.5,69.0 514.6,69.1 515.6,69.0 516.6,69.1 517.7,69.0 518.7,69.0 519.8,69.1 520.8,69.0 521.8,69.1 522.9,69.1 523.9,69.1 525.0,69.1 526.0,69.1"/><polyline points="318.0,77.9 318.5,77.9 319.0,77.9 319.6,77.9 320.1,77.8 320.6,77.8 321.1,77.9 321.6,77.9 322.2,77.8 322.7,77.7 323.2,77.7 323.7,77.5 324.2,77.4 324.8,77.2 325.3,76.9 325.8,76.7 326.3,76.6 326.8,76.6 327.4,76.6 327.9,76.9 328.4,77.0 328.9,77.1 329.4,77.3 330.0,77.3 330.5,77.4 331.0,77.4 331.5,77.5 332.0,77.4 332.6,77.4 333.1,77.4 333.6,77.2 334.1,77.0 334.6,76.8 335.2,76.5 335.7,76.1 336.2,75.5 336.7,74.6 337.2,73.5 337.8,71.5 338.3,69.3 338.8,67.5 339.3,67.8 339.8,69.6 340.4,71.5 340.9,73.1 341.4,74.0 341.9,74.4 342.4,74.4 343.0,74.0 343.5,73.3 344.0,72.9 344.5,73.4 345.0,74.3 345.6,75.4 346.1,76.1 346.6,76.6 347.1,76.9 347.6,77.2 348.2,77.5 348.7,77.5 349.2,77.6 349.7,77.8 350.2,77.8 350.8,77.9 351.3,78.0 351.8,77.9 352.3,77.9 352.8,77.9 353.4,78.1 353.9,78.1 354.4,78.1 354.9,78.1 355.4,78.1 356.0,78.2 356.5,78.1 357.0,78.1 357.5,78.2 358.0,78.1 358.6,78.2 359.1,78.2 359.6,78.2 360.1,78.3 360.6,78.2 361.2,78.2 361.7,78.2 362.2,78.2 362.7,78.1 363.2,78.1 363.8,78.3 364.3,78.3 364.8,78.1 365.3,78.2 365.8,78.3 366.4,78.3 366.9,78.2 367.4,78.3 367.9,78.2 368.4,78.2 369.0,78.2 369.5,78.2 370.0,78.1 370.5,78.1 371.0,78.2 371.6,78.2 372.1,78.2 372.6,78.1 373.1,78.1 373.6,78.1 374.2,78.1 374.7,78.1 375.2,78.1 375.7,78.0 376.2,78.0 376.8,78.1 377.3,78.0 377.8,77.8 378.3,77.9 378.8,77.6 379.4,77.5 379.9,77.4 380.4,77.0 380.9,76.8 381.4,76.3 382.0,76.2 382.5,76.3 383.0,76.6 383.5,77.1 384.0,77.3 384.6,77.5 385.1,77.6 385.6,77.8 386.1,77.9 386.6,77.9 387.2,77.8 387.7,77.9 388.2,77.9 388.7,77.9 389.2,77.9 389.8,77.9 390.3,77.8 390.8,77.8 391.3,77.8 391.8,77.6 392.4,77.7 392.9,77.6 393.4,77.3 393.9,77.3 394.4,77.0 395.0,76.7 395.5,76.4 396.0,76.1 396.5,76.0 397.0,76.0 397.6,76.3 398.1,76.5 398.6,76.8 399.1,76.9 399.6,76.9 400.2,77.2 400.7,77.2 401.2,77.2 401.7,77.3 402.2,77.4 402.8,77.5 403.3,77.6 403.8,77.5 404.3,77.6 404.8,77.7 405.4,77.8 405.9,77.7 406.4,77.9 407.4,78.0 408.5,78.0 409.5,78.0 410.6,78.1 411.6,78.2 412.6,78.0 413.7,78.2 414.7,78.2 415.8,78.1 416.8,78.2 417.8,78.2 418.9,78.3 419.9,78.2 421.0,78.3 422.0,78.3 423.0,78.2 424.1,78.2 425.1,78.3 426.2,78.3 427.2,78.2 428.2,78.3 429.3,78.3 430.3,78.2 431.4,78.3 432.4,78.2 433.4,78.2 434.5,78.2 435.5,78.2 436.6,78.3 437.6,78.2 438.6,78.2 439.7,78.1 440.7,78.0 441.8,77.8 442.8,77.4 443.8,77.3 444.9,77.8 445.9,78.1 447.0,78.0 448.0,78.2 449.0,78.2 450.1,78.2 451.1,78.3 452.2,78.2 453.2,78.1 454.2,78.1 455.3,77.9 456.3,77.7 457.4,77.4 458.4,77.8 459.4,78.0 460.5,78.2 461.5,78.2 462.6,78.2 463.6,78.3 464.6,78.3 465.7,78.3 466.7,78.3 467.8,78.3 468.8,78.2 469.8,78.4 470.9,78.3 471.9,78.2 473.0,78.3 474.0,78.3 475.0,78.2 476.1,78.4 477.1,78.4 478.2,78.4 479.2,78.3 480.2,78.2 481.3,78.3 482.3,78.3 483.4,78.2 484.4,78.3 485.4,78.3 486.5,78.1 487.5,78.0 488.6,77.6 489.6,77.5 490.6,77.6 491.7,77.9 492.7,78.1 493.8,78.2 494.8,78.2 495.8,78.2 496.9,78.4 497.9,78.3 499.0,78.3 500.0,78.3 501.0,78.3 502.1,78.3 503.1,78.4 504.2,78.2 505.2,78.3 506.2,78.4 507.3,78.4 508.3,78.4 509.4,78.4 510.4,78.3 511.4,78.3 512.5,78.3 513.5,78.2 514.6,78.2 515.6,78.3 516.6,78.4 517.7,78.4 518.7,78.3 519.8,78.4 520.8,78.4 521.8,78.4 522.9,78.4 523.9,78.3 525.0,78.3 526.0,78.3"/><polyline points="318.0,87.2 318.5,87.2 319.0,87.2 319.6,87.3 320.1,87.1 320.6,87.2 321.1,87.1 321.6,87.0 322.2,87.0 322.7,87.0 323.2,87.0 323.7,86.8 324.2,86.6 324.8,86.4 325.3,86.3 325.8,86.0 326.3,85.9 326.8,85.7 327.4,85.9 327.9,86.1 328.4,86.2 328.9,86.5 329.4,86.7 330.0,86.7 330.5,86.8 331.0,86.7 331.5,86.7 332.0,86.6 332.6,86.6 333.1,86.6 333.6,86.5 334.1,86.4 334.6,86.1 335.2,85.8 335.7,85.4 336.2,84.7 336.7,83.9 337.2,82.5 337.8,80.6 338.3,78.3 338.8,76.5 339.3,76.7 339.8,78.6 340.4,80.7 340.9,82.3 341.4,83.2 341.9,83.6 342.4,83.6 343.0,83.2 343.5,82.4 344.0,82.1 344.5,82.6 345.0,83.6 345.6,84.6 346.1,85.3 346.6,85.9 347.1,86.2 347.6,86.5 348.2,86.7 348.7,86.8 349.2,87.0 349.7,87.0 350.2,87.1 350.8,87.0 351.3,87.1 351.8,87.3 352.3,87.2 352.8,87.3 353.4,87.4 353.9,87.3 354.4,87.3 354.9,87.3 355.4,87.4 356.0,87.3 356.5,87.4 357.0,87.4 357.5,87.4 358.0,87.4 358.6,87.4 359.1,87.5 359.6,87.5 360.1,87.5 360.6,87.4 361.2,87.5 361.7,87.4 362.2,87.4 362.7,87.4 363.2,87.5 363.8,87.4 364.3,87.5 364.8,87.4 365.3,87.6 365.8,87.4 366.4,87.5 366.9,87.5 367.4,87.5 367.9,87.5 368.4,87.5 369.0,87.5 369.5,87.6 370.0,87.4 370.5,87.5 371.0,87.5 371.6,87.4 372.1,87.4 372.6,87.5 373.1,87.5 373.6,87.5 374.2,87.5 374.7,87.5 375.2,87.4 375.7,87.5 376.2,87.4 376.8,87.3 377.3,87.3 377.8,87.2 378.3,87.2 378.8,87.1 379.4,87.0 379.9,86.8 380.4,86.7 380.9,86.3 381.4,86.1 382.0,86.0 382.5,86.1 383.0,86.3 383.5,86.6 384.0,86.8 384.6,87.0 385.1,87.0 385.6,87.1 386.1,87.2 386.6,87.1 387.2,87.1 387.7,87.3 388.2,87.3 388.7,87.1 389.2,87.1 389.8,87.2 390.3,87.1 390.8,87.0 391.3,87.1 391.8,87.0 392.4,87.0 392.9,86.8 393.4,86.7 393.9,86.6 394.4,86.4 395.0,86.1 395.5,85.7 396.0,85.5 396.5,85.4 397.0,85.5 397.6,85.7 398.1,85.8 398.6,86.0 399.1,86.2 399.6,86.3 400.2,86.5 400.7,86.5 401.2,86.5 401.7,86.6 402.2,86.6 402.8,86.7 403.3,86.8 403.8,86.9 404.3,86.9 404.8,87.0 405.4,87.1 405.9,87.1 406.4,87.2 407.4,87.3 408.5,87.3 409.5,87.4 410.6,87.4 411.6,87.5 412.6,87.4 413.7,87.4 414.7,87.4 415.8,87.4 416.8,87.6 417.8,87.5 418.9,87.6 419.9,87.4 421.0,87.5 422.0,87.5 423.0,87.5 424.1,87.6 425.1,87.5 426.2,87.6 427.2,87.5 428.2,87.6 429.3,87.5 430.3,87.6 431.4,87.6 432.4,87.6 433.4,87.5 434.5,87.5 435.5,87.6 436.6,87.5 437.6,87.5 438.6,87.5 439.7,87.4 440.7,87.2 441.8,87.0 442.8,86.6 443.8,86.7 444.9,87.0 445.9,87.2 447.0,87.4 448.0,87.5 449.0,87.6 450.1,87.4 451.1,87.4 452.2,87.4 453.2,87.4 454.2,87.4 455.3,87.3 456.3,87.0 457.4,86.7 458.4,87.0 459.4,87.2 460.5,87.3 461.5,87.4 462.6,87.5 463.6,87.6 464.6,87.5 465.7,87.5 466.7,87.5 467.8,87.6 468.8,87.5 469.8,87.5 470.9,87.6 471.9,87.5 473.0,87.6 474.0,87.6 475.0,87.7 476.1,87.5 477.1,87.5 478.2,87.7 479.2,87.7 480.2,87.6 481.3,87.6 482.3,87.5 483.4,87.6 484.4,87.5 485.4,87.4 486.5,87.4 487.5,87.1 488.6,86.9 489.6,86.7 490.6,86.9 491.7,87.2 492.7,87.4 493.8,87.4 494.8,87.5 495.8,87.5 496.9,87.6 497.9,87.5 499.0,87.6 500.0,87.7 501.0,87.6 502.1,87.5 503.1,87.7 504.2,87.5 505.2,87.6 506.2,87.5 507.3,87.6 508.3,87.6 509.4,87.7 510.4,87.5 511.4,87.5 512.5,87.5 513.5,87.6 514.6,87.6 515.6,87.6 516.6,87.5 517.7,87.5 518.7,87.6 519.8,87.5 520.8,87.5 521.8,87.6 522.9,87.7 523.9,87.7 525.0,87.6 526.0,87.6"/><polyline points="318.0,96.4 318.5,96.5 319.0,96.5 319.6,96.5 320.1,96.5 320.6,96.4 321.1,96.3 321.6,96.3 322.2,96.3 322.7,96.2 323.2,96.1 323.7,96.1 324.2,96.0 324.8,95.8 325.3,95.4 325.8,95.3 326.3,95.1 326.8,95.0 327.4,95.1 327.9,95.5 328.4,95.5 328.9,95.7 329.4,95.8 330.0,95.9 330.5,95.9 331.0,96.0 331.5,95.9 332.0,96.0 332.6,96.0 333.1,95.9 333.6,95.7 334.1,95.6 334.6,95.4 335.2,95.0 335.7,94.6 336.2,94.0 336.7,93.1 337.2,91.8 337.8,90.0 338.3,87.7 338.8,85.9 339.3,86.0 339.8,87.8 340.4,90.0 340.9,91.5 341.4,92.5 341.9,92.9 342.4,92.9 343.0,92.4 343.5,91.8 344.0,91.3 344.5,91.8 345.0,92.8 345.6,93.8 346.1,94.6 346.6,95.1 347.1,95.5 347.6,95.8 348.2,95.9 348.7,96.0 349.2,96.2 349.7,96.4 350.2,96.4 350.8,96.3 351.3,96.4 351.8,96.5 352.3,96.6 352.8,96.6 353.4,96.5 353.9,96.7 354.4,96.6 354.9,96.7 355.4,96.6 356.0,96.6 356.5,96.7 357.0,96.7 357.5,96.7 358.0,96.8 358.6,96.7 359.1,96.7 359.6,96.7 360.1,96.8 360.6,96.8 361.2,96.7 361.7,96.7 362.2,96.8 362.7,96.7 363.2,96.8 363.8,96.8 364.3,96.8 364.8,96.8 365.3,96.8 365.8,96.8 366.4,96.8 366.9,96.7 367.4,96.7 367.9,96.7 368.4,96.8 369.0,96.8 369.5,96.7 370.0,96.8 370.5,96.8 371.0,96.8 371.6,96.7 372.1,96.8 372.6,96.8 373.1,96.8 373.6,96.7 374.2,96.7 374.7,96.7 375.2,96.6 375.7,96.7 376.2,96.7 376.8,96.7 377.3,96.7 377.8,96.7 378.3,96.6 378.8,96.6 379.4,96.5 379.9,96.3 380.4,96.1 380.9,95.9 381.4,95.9 382.0,95.8 382.5,95.8 383.0,95.9 383.5,96.2 384.0,96.3 384.6,96.4 385.1,96.4 385.6,96.5 386.1,96.6 386.6,96.5 387.2,96.5 387.7,96.6 388.2,96.5 388.7,96.6 389.2,96.5 389.8,96.5 390.3,96.5 390.8,96.4 391.3,96.4 391.8,96.3 392.4,96.2 392.9,96.1 393.4,96.1 393.9,95.8 394.4,95.6 395.0,95.4 395.5,95.1 396.0,94.8 396.5,94.6 397.0,94.7 397.6,95.0 398.1,95.1 398.6,95.3 399.1,95.5 399.6,95.6 400.2,95.8 400.7,95.8 401.2,95.9 401.7,95.9 402.2,96.1 402.8,96.0 403.3,96.2 403.8,96.2 404.3,96.2 404.8,96.3 405.4,96.3 405.9,96.3 406.4,96.5 407.4,96.4 408.5,96.6 409.5,96.6 410.6,96.7 411.6,96.6 412.6,96.7 413.7,96.8 414.7,96.8 415.8,96.8 416.8,96.8 417.8,96.8 418.9,96.8 419.9,96.8 421.0,96.8 422.0,96.7 423.0,96.7 424.1,96.8 425.1,96.8 426.2,96.8 427.2,96.8 428.2,96.8 429.3,96.9 430.3,96.8 431.4,96.8 432.4,96.9 433.4,96.8 434.5,96.9 435.5,96.8 436.6,96.7 437.6,96.7 438.6,96.8 439.7,96.6 440.7,96.5 441.8,96.4 442.8,95.9 443.8,96.0 444.9,96.4 445.9,96.6 447.0,96.7 448.0,96.7 449.0,96.7 450.1,96.7 451.1,96.7 452.2,96.8 453.2,96.6 454.2,96.6 455.3,96.5 456.3,96.3 457.4,96.1 458.4,96.3 459.4,96.5 460.5,96.7 461.5,96.7 462.6,96.8 463.6,96.8 464.6,96.9 465.7,96.8 466.7,96.8 467.8,96.8 468.8,96.8 469.8,96.8 470.9,96.8 471.9,96.9 473.0,96.8 474.0,96.8 475.0,96.9 476.1,96.9 477.1,96.9 478.2,96.8 479.2,96.8 480.2,96.9 481.3,96.8 482.3,96.9 483.4,96.8 484.4,96.8 485.4,96.7 486.5,96.6 487.5,96.6 488.6,96.1 489.6,96.0 490.6,96.1 491.7,96.4 492.7,96.7 493.8,96.8 494.8,96.8 495.8,96.7 496.9,96.8 497.9,96.8 499.0,96.8 500.0,96.9 501.0,96.8 502.1,96.9 503.1,96.9 504.2,96.9 505.2,96.8 506.2,96.9 507.3,96.9 508.3,96.9 509.4,96.8 510.4,96.9 511.4,96.9 512.5,96.9 513.5,96.9 514.6,96.8 515.6,97.0 516.6,96.9 517.7,97.0 518.7,96.9 519.8,96.8 520.8,96.9 521.8,96.9 522.9,96.8 523.9,96.8 525.0,96.9 526.0,96.9"/><polyline points="318.0,105.8 318.5,105.9 319.0,105.8 319.6,105.9 320.1,105.8 320.6,105.7 321.1,105.8 321.6,105.7 322.2,105.6 322.7,105.6 323.2,105.4 323.7,105.4 324.2,105.2 324.8,105.1 325.3,104.9 325.8,104.8 326.3,104.7 326.8,104.5 327.4,104.7 327.9,104.9 328.4,104.9 328.9,105.1 329.4,105.2 330.0,105.3 330.5,105.3 331.0,105.4 331.5,105.4 332.0,105.3 332.6,105.3 333.1,105.3 333.6,105.2 334.1,105.0 334.6,104.9 335.2,104.5 335.7,104.2 336.2,103.8 336.7,102.9 337.2,101.8 337.8,100.3 338.3,98.2 338.8,96.6 339.3,96.8 339.8,98.4 340.4,100.2 340.9,101.4 341.4,102.2 341.9,102.6 342.4,102.6 343.0,102.1 343.5,101.5 344.0,101.0 344.5,101.5 345.0,102.4 345.6,103.3 346.1,104.1 346.6,104.6 347.1,104.9 347.6,105.2 348.2,105.3 348.7,105.3 349.2,105.5 349.7,105.5 350.2,105.7 350.8,105.7 351.3,105.8 351.8,105.7 352.3,105.8 352.8,105.8 353.4,105.8 353.9,106.0 354.4,106.0 354.9,105.9 355.4,105.9 356.0,106.0 356.5,106.1 357.0,106.1 357.5,105.9 358.0,106.0 358.6,106.0 359.1,106.0 359.6,106.0 360.1,106.1 360.6,106.0 361.2,106.0 361.7,106.0 362.2,106.0 362.7,106.1 363.2,106.0 363.8,106.1 364.3,106.0 364.8,106.0 365.3,106.1 365.8,106.1 366.4,106.1 366.9,106.1 367.4,106.0 367.9,106.1 368.4,106.0 369.0,106.1 369.5,106.1 370.0,106.1 370.5,106.1 371.0,106.0 371.6,106.1 372.1,106.1 372.6,106.0 373.1,106.1 373.6,106.0 374.2,106.0 374.7,106.0 375.2,106.0 375.7,106.0 376.2,106.0 376.8,105.9 377.3,105.9 377.8,105.9 378.3,105.9 378.8,105.9 379.4,105.7 379.9,105.7 380.4,105.6 380.9,105.5 381.4,105.3 382.0,105.2 382.5,105.3 383.0,105.5 383.5,105.5 384.0,105.6 384.6,105.8 385.1,105.9 385.6,105.8 386.1,105.8 386.6,105.9 387.2,105.9 387.7,105.9 388.2,105.9 388.7,105.8 389.2,105.8 389.8,105.7 390.3,105.8 390.8,105.8 391.3,105.7 391.8,105.6 392.4,105.5 392.9,105.4 393.4,105.3 393.9,105.1 394.4,105.0 395.0,104.6 395.5,104.4 396.0,104.1 396.5,104.0 397.0,104.0 397.6,104.2 398.1,104.5 398.6,104.7 399.1,104.9 399.6,104.9 400.2,105.0 400.7,105.1 401.2,105.2 401.7,105.2 402.2,105.2 402.8,105.4 403.3,105.3 403.8,105.4 404.3,105.5 404.8,105.6 405.4,105.5 405.9,105.7 406.4,105.7 407.4,105.7 408.5,105.8 409.5,105.9 410.6,106.0 411.6,106.0 412.6,106.0 413.7,105.9 414.7,106.0 415.8,106.0 416.8,106.1 417.8,106.1 418.9,106.1 419.9,106.0 421.0,106.1 422.0,106.0 423.0,106.0 424.1,106.0 425.1,106.1 426.2,106.2 427.2,106.1 428.2,106.0 429.3,106.1 430.3,106.1 431.4,106.2 432.4,106.0 433.4,106.1 434.5,106.1 435.5,106.0 436.6,106.1 437.6,106.1 438.6,106.0 439.7,106.0 440.7,105.9 441.8,105.6 442.8,105.2 443.8,105.2 444.9,105.5 445.9,105.8 447.0,106.0 448.0,106.0 449.0,106.0 450.1,106.1 451.1,106.0 452.2,106.1 453.2,105.9 454.2,105.9 455.3,105.8 456.3,105.6 457.4,105.3 458.4,105.6 459.4,105.9 460.5,105.9 461.5,106.1 462.6,106.1 463.6,106.0 464.6,106.1 465.7,106.1 466.7,106.2 467.8,106.1 468.8,106.2 469.8,106.2 470.9,106.1 471.9,106.1 473.0,106.2 474.0,106.1 475.0,106.1 476.1,106.1 477.1,106.2 478.2,106.2 479.2,106.2 480.2,106.0 481.3,106.1 482.3,106.2 483.4,106.1 484.4,106.1 485.4,106.0 486.5,105.9 487.5,105.7 488.6,105.5 489.6,105.3 490.6,105.5 491.7,105.7 492.7,106.0 493.8,106.1 494.8,106.1 495.8,106.0 496.9,106.0 497.9,106.1 499.0,106.1 500.0,106.1 501.0,106.2 502.1,106.2 503.1,106.1 504.2,106.2 505.2,106.1 506.2,106.1 507.3,106.2 508.3,106.2 509.4,106.2 510.4,106.1 511.4,106.1 512.5,106.2 513.5,106.2 514.6,106.2 515.6,106.2 516.6,106.1 517.7,106.1 518.7,106.2 519.8,106.2 520.8,106.2 521.8,106.2 522.9,106.2 523.9,106.2 525.0,106.1 526.0,106.2"/><polyline points="318.0,115.2 318.5,115.1 319.0,115.2 319.6,115.2 320.1,115.1 320.6,115.0 321.1,115.1 321.6,115.1 322.2,115.0 322.7,115.1 323.2,115.0 323.7,114.9 324.2,114.7 324.8,114.7 325.3,114.6 325.8,114.5 326.3,114.4 326.8,114.4 327.4,114.3 327.9,114.5 328.4,114.6 328.9,114.8 329.4,114.8 330.0,114.8 330.5,114.9 331.0,114.8 331.5,114.9 332.0,114.8 332.6,114.8 333.1,114.8 333.6,114.7 334.1,114.7 334.6,114.5 335.2,114.3 335.7,114.1 336.2,113.9 336.7,113.4 337.2,112.6 337.8,111.6 338.3,110.4 338.8,109.2 339.3,109.4 339.8,110.3 340.4,111.4 340.9,112.2 341.4,112.6 341.9,112.5 342.4,112.3 343.0,111.7 343.5,111.0 344.0,110.5 344.5,110.9 345.0,111.8 345.6,112.8 346.1,113.5 346.6,113.8 347.1,114.2 347.6,114.5 348.2,114.6 348.7,114.9 349.2,114.8 349.7,114.9 350.2,115.0 350.8,115.1 351.3,115.1 351.8,115.1 352.3,115.2 352.8,115.3 353.4,115.3 353.9,115.2 354.4,115.3 354.9,115.3 355.4,115.3 356.0,115.3 356.5,115.3 357.0,115.2 357.5,115.4 358.0,115.3 358.6,115.2 359.1,115.3 359.6,115.3 360.1,115.4 360.6,115.2 361.2,115.3 361.7,115.4 362.2,115.3 362.7,115.4 363.2,115.3 363.8,115.4 364.3,115.4 364.8,115.4 365.3,115.3 365.8,115.3 366.4,115.3 366.9,115.4 367.4,115.3 367.9,115.4 368.4,115.3 369.0,115.3 369.5,115.3 370.0,115.4 370.5,115.3 371.0,115.4 371.6,115.4 372.1,115.4 372.6,115.3 373.1,115.4 373.6,115.3 374.2,115.3 374.7,115.4 375.2,115.4 375.7,115.3 376.2,115.3 376.8,115.3 377.3,115.3 377.8,115.2 378.3,115.2 378.8,115.1 379.4,115.2 379.9,115.1 380.4,114.9 380.9,114.8 381.4,114.8 382.0,114.7 382.5,114.7 383.0,114.8 383.5,115.0 384.0,115.0 384.6,115.1 385.1,115.1 385.6,115.2 386.1,115.1 386.6,115.1 387.2,115.2 387.7,115.2 388.2,115.2 388.7,115.1 389.2,115.1 389.8,115.2 390.3,115.0 390.8,115.0 391.3,115.0 391.8,114.8 392.4,114.8 392.9,114.7 393.4,114.5 393.9,114.4 394.4,114.2 395.0,114.0 395.5,113.6 396.0,113.3 396.5,113.2 397.0,113.3 397.6,113.5 398.1,113.8 398.6,113.9 399.1,114.1 399.6,114.2 400.2,114.2 400.7,114.3 401.2,114.4 401.7,114.5 402.2,114.6 402.8,114.5 403.3,114.7 403.8,114.7 404.3,114.8 404.8,114.9 405.4,114.9 405.9,114.9 406.4,114.9 407.4,115.0 408.5,115.2 409.5,115.2 410.6,115.3 411.6,115.2 412.6,115.3 413.7,115.3 414.7,115.3 415.8,115.3 416.8,115.3 417.8,115.3 418.9,115.4 419.9,115.4 421.0,115.3 422.0,115.4 423.0,115.3 424.1,115.4 425.1,115.4 426.2,115.4 427.2,115.3 428.2,115.4 429.3,115.3 430.3,115.4 431.4,115.4 432.4,115.4 433.4,115.3 434.5,115.4 435.5,115.4 436.6,115.4 437.6,115.3 438.6,115.3 439.7,115.3 440.7,115.1 441.8,114.8 442.8,114.6 443.8,114.6 444.9,114.8 445.9,115.2 447.0,115.3 448.0,115.3 449.0,115.3 450.1,115.3 451.1,115.3 452.2,115.3 453.2,115.2 454.2,115.3 455.3,115.1 456.3,114.8 457.4,114.6 458.4,114.9 459.4,115.1 460.5,115.2 461.5,115.4 462.6,115.4 463.6,115.4 464.6,115.3 465.7,115.5 466.7,115.5 467.8,115.4 468.8,115.5 469.8,115.4 470.9,115.4 471.9,115.3 473.0,115.4 474.0,115.4 475.0,115.5 476.1,115.4 477.1,115.4 478.2,115.4 479.2,115.4 480.2,115.4 481.3,115.3 482.3,115.4 483.4,115.4 484.4,115.2 485.4,115.2 486.5,115.2 487.5,115.0 488.6,114.7 489.6,114.6 490.6,114.8 491.7,115.0 492.7,115.2 493.8,115.3 494.8,115.3 495.8,115.4 496.9,115.4 497.9,115.3 499.0,115.5 500.0,115.4 501.0,115.5 502.1,115.5 503.1,115.4 504.2,115.5 505.2,115.3 506.2,115.3 507.3,115.5 508.3,115.5 509.4,115.4 510.4,115.4 511.4,115.4 512.5,115.5 513.5,115.5 514.6,115.4 515.6,115.4 516.6,115.4 517.7,115.5 518.7,115.5 519.8,115.5 520.8,115.5 521.8,115.4 522.9,115.5 523.9,115.5 525.0,115.5 526.0,115.4"/><polyline points="318.0,124.4 318.5,124.5 319.0,124.4 319.6,124.4 320.1,124.5 320.6,124.5 321.1,124.4 321.6,124.5 322.2,124.4 322.7,124.4 323.2,124.3 323.7,124.3 324.2,124.3 324.8,124.2 325.3,124.0 325.8,123.9 326.3,123.9 326.8,123.8 327.4,123.9 327.9,124.0 328.4,124.1 328.9,124.2 329.4,124.3 330.0,124.2 330.5,124.3 331.0,124.3 331.5,124.2 332.0,124.3 332.6,124.3 333.1,124.2 333.6,124.2 334.1,124.2 334.6,124.0 335.2,123.9 335.7,123.8 336.2,123.4 336.7,123.1 337.2,122.6 337.8,121.9 338.3,120.9 338.8,120.3 339.3,120.2 339.8,120.9 340.4,121.8 340.9,122.2 341.4,122.5 341.9,122.6 342.4,122.2 343.0,121.8 343.5,121.3 344.0,120.9 344.5,121.1 345.0,121.9 345.6,122.6 346.1,123.2 346.6,123.5 347.1,123.8 347.6,123.9 348.2,124.0 348.7,124.1 349.2,124.3 349.7,124.3 350.2,124.4 350.8,124.4 351.3,124.4 351.8,124.5 352.3,124.5 352.8,124.4 353.4,124.6 353.9,124.6 354.4,124.6 354.9,124.6 355.4,124.6 356.0,124.5 356.5,124.7 357.0,124.6 357.5,124.6 358.0,124.6 358.6,124.6 359.1,124.6 359.6,124.6 360.1,124.5 360.6,124.6 361.2,124.6 361.7,124.7 362.2,124.6 362.7,124.7 363.2,124.7 363.8,124.6 364.3,124.7 364.8,124.7 365.3,124.7 365.8,124.6 366.4,124.7 366.9,124.6 367.4,124.7 367.9,124.6 368.4,124.6 369.0,124.6 369.5,124.6 370.0,124.6 370.5,124.7 371.0,124.6 371.6,124.7 372.1,124.5 372.6,124.7 373.1,124.7 373.6,124.6 374.2,124.7 374.7,124.7 375.2,124.6 375.7,124.6 376.2,124.6 376.8,124.6 377.3,124.6 377.8,124.6 378.3,124.6 378.8,124.5 379.4,124.5 379.9,124.4 380.4,124.2 380.9,124.2 381.4,124.2 382.0,124.1 382.5,124.2 383.0,124.3 383.5,124.3 384.0,124.3 384.6,124.5 385.1,124.4 385.6,124.4 386.1,124.5 386.6,124.4 387.2,124.5 387.7,124.4 388.2,124.4 388.7,124.3 389.2,124.3 389.8,124.4 390.3,124.3 390.8,124.3 391.3,124.3 391.8,124.2 392.4,124.1 392.9,124.0 393.4,123.9 393.9,123.6 394.4,123.5 395.0,123.2 395.5,123.0 396.0,122.6 396.5,122.5 397.0,122.6 397.6,122.8 398.1,123.1 398.6,123.3 399.1,123.4 399.6,123.5 400.2,123.5 400.7,123.6 401.2,123.7 401.7,123.7 402.2,123.9 402.8,124.0 403.3,124.0 403.8,124.0 404.3,124.1 404.8,124.0 405.4,124.2 405.9,124.2 406.4,124.2 407.4,124.3 408.5,124.4 409.5,124.4 410.6,124.5 411.6,124.6 412.6,124.5 413.7,124.5 414.7,124.6 415.8,124.7 416.8,124.5 417.8,124.6 418.9,124.6 419.9,124.6 421.0,124.7 422.0,124.6 423.0,124.7 424.1,124.6 425.1,124.7 426.2,124.7 427.2,124.7 428.2,124.7 429.3,124.6 430.3,124.7 431.4,124.7 432.4,124.7 433.4,124.7 434.5,124.6 435.5,124.7 436.6,124.6 437.6,124.6 438.6,124.6 439.7,124.4 440.7,124.3 441.8,124.2 442.8,123.7 443.8,123.7 444.9,124.2 445.9,124.3 447.0,124.6 448.0,124.5 449.0,124.5 450.1,124.6 451.1,124.6 452.2,124.6 453.2,124.6 454.2,124.5 455.3,124.4 456.3,124.1 457.4,123.8 458.4,124.0 459.4,124.3 460.5,124.5 461.5,124.5 462.6,124.5 463.6,124.7 464.6,124.6 465.7,124.7 466.7,124.7 467.8,124.7 468.8,124.6 469.8,124.7 470.9,124.7 471.9,124.7 473.0,124.7 474.0,124.8 475.0,124.7 476.1,124.8 477.1,124.7 478.2,124.6 479.2,124.7 480.2,124.6 481.3,124.6 482.3,124.6 483.4,124.6 484.4,124.7 485.4,124.6 486.5,124.4 487.5,124.3 488.6,124.0 489.6,123.9 490.6,124.0 491.7,124.3 492.7,124.4 493.8,124.5 494.8,124.6 495.8,124.6 496.9,124.7 497.9,124.6 499.0,124.6 500.0,124.7 501.0,124.7 502.1,124.7 503.1,124.7 504.2,124.7 505.2,124.7 506.2,124.6 507.3,124.6 508.3,124.7 509.4,124.8 510.4,124.7 511.4,124.8 512.5,124.7 513.5,124.6 514.6,124.7 515.6,124.7 516.6,124.7 517.7,124.8 518.7,124.8 519.8,124.6 520.8,124.6 521.8,124.7 522.9,124.7 523.9,124.8 525.0,124.8 526.0,124.8"/><polyline points="318.0,133.8 318.5,133.8 319.0,133.7 319.6,133.7 320.1,133.8 320.6,133.8 321.1,133.8 321.6,133.8 322.2,133.8 322.7,133.7 323.2,133.7 323.7,133.7 324.2,133.6 324.8,133.6 325.3,133.6 325.8,133.4 326.3,133.4 326.8,133.4 327.4,133.5 327.9,133.5 328.4,133.6 328.9,133.6 329.4,133.6 330.0,133.7 330.5,133.7 331.0,133.7 331.5,133.8 332.0,133.7 332.6,133.7 333.1,133.7 333.6,133.6 334.1,133.6 334.6,133.6 335.2,133.4 335.7,133.3 336.2,133.2 336.7,133.0 337.2,132.6 337.8,132.2 338.3,131.7 338.8,131.2 339.3,131.3 339.8,131.6 340.4,132.1 340.9,132.4 341.4,132.6 341.9,132.6 342.4,132.3 343.0,132.0 343.5,131.5 344.0,131.2 344.5,131.4 345.0,132.0 345.6,132.4 346.1,132.8 346.6,133.2 347.1,133.4 347.6,133.5 348.2,133.6 348.7,133.7 349.2,133.7 349.7,133.7 350.2,133.7 350.8,133.8 351.3,133.8 351.8,133.9 352.3,133.8 352.8,133.8 353.4,133.8 353.9,133.9 354.4,133.8 354.9,133.9 355.4,133.8 356.0,133.9 356.5,133.8 357.0,133.8 357.5,133.9 358.0,133.9 358.6,133.9 359.1,133.9 359.6,133.8 360.1,133.8 360.6,133.9 361.2,133.9 361.7,134.0 362.2,133.9 362.7,133.9 363.2,134.0 363.8,134.0 364.3,133.9 364.8,133.9 365.3,133.9 365.8,133.9 366.4,134.0 366.9,133.9 367.4,133.9 367.9,133.9 368.4,134.0 369.0,134.0 369.5,134.0 370.0,133.9 370.5,133.9 371.0,133.8 371.6,133.9 372.1,133.9 372.6,134.0 373.1,134.0 373.6,133.9 374.2,133.9 374.7,133.9 375.2,133.8 375.7,133.8 376.2,133.9 376.8,133.8 377.3,133.9 377.8,133.9 378.3,133.7 378.8,133.8 379.4,133.8 379.9,133.6 380.4,133.6 380.9,133.5 381.4,133.4 382.0,133.3 382.5,133.4 383.0,133.4 383.5,133.6 384.0,133.5 384.6,133.7 385.1,133.7 385.6,133.8 386.1,133.8 386.6,133.7 387.2,133.8 387.7,133.7 388.2,133.6 388.7,133.7 389.2,133.6 389.8,133.6 390.3,133.6 390.8,133.5 391.3,133.5 391.8,133.4 392.4,133.4 392.9,133.2 393.4,133.1 393.9,133.0 394.4,132.8 395.0,132.4 395.5,132.1 396.0,131.8 396.5,131.7 397.0,131.7 397.6,131.9 398.1,132.2 398.6,132.3 399.1,132.5 399.6,132.6 400.2,132.8 400.7,132.8 401.2,133.0 401.7,132.9 402.2,133.0 402.8,133.2 403.3,133.2 403.8,133.3 404.3,133.4 404.8,133.3 405.4,133.5 405.9,133.5 406.4,133.6 407.4,133.6 408.5,133.6 409.5,133.6 410.6,133.7 411.6,133.7 412.6,133.8 413.7,133.8 414.7,133.8 415.8,133.9 416.8,133.9 417.8,133.9 418.9,133.9 419.9,133.9 421.0,134.0 422.0,134.0 423.0,134.0 424.1,133.9 425.1,134.0 426.2,133.9 427.2,134.0 428.2,134.0 429.3,133.9 430.3,134.0 431.4,133.9 432.4,133.9 433.4,134.0 434.5,133.9 435.5,133.8 436.6,133.9 437.6,133.9 438.6,133.8 439.7,133.7 440.7,133.6 441.8,133.5 442.8,133.1 443.8,133.0 444.9,133.4 445.9,133.7 447.0,133.8 448.0,133.9 449.0,133.9 450.1,133.8 451.1,133.9 452.2,133.9 453.2,133.8 454.2,133.7 455.3,133.5 456.3,133.4 457.4,133.1 458.4,133.5 459.4,133.6 460.5,133.7 461.5,133.8 462.6,133.9 463.6,133.8 464.6,133.9 465.7,133.9 466.7,133.9 467.8,134.0 468.8,133.9 469.8,134.0 470.9,134.1 471.9,134.0 473.0,133.9 474.0,133.9 475.0,134.1 476.1,133.9 477.1,133.9 478.2,134.0 479.2,133.9 480.2,134.0 481.3,133.9 482.3,133.9 483.4,133.9 484.4,133.9 485.4,133.8 486.5,133.7 487.5,133.5 488.6,133.2 489.6,133.0 490.6,133.2 491.7,133.6 492.7,133.8 493.8,133.8 494.8,133.8 495.8,134.0 496.9,133.9 497.9,134.0 499.0,134.0 500.0,134.0 501.0,133.9 502.1,134.0 503.1,133.9 504.2,133.9 505.2,133.9 506.2,134.0 507.3,133.9 508.3,134.1 509.4,134.0 510.4,134.1 511.4,134.0 512.5,133.9 513.5,133.9 514.6,133.9 515.6,134.0 516.6,134.0 517.7,134.1 518.7,134.0 519.8,133.9 520.8,134.0 521.8,133.9 522.9,134.0 523.9,133.9 525.0,134.1 526.0,133.9"/><polyline points="318.0,143.1 318.5,143.1 319.0,143.0 319.6,143.0 320.1,143.0 320.6,143.1 321.1,143.0 321.6,143.1 322.2,143.1 322.7,143.1 323.2,143.1 323.7,143.1 324.2,143.0 324.8,142.9 325.3,142.9 325.8,142.9 326.3,142.8 326.8,142.9 327.4,142.8 327.9,143.0 328.4,142.9 328.9,142.9 329.4,143.0 330.0,143.0 330.5,142.9 331.0,143.1 331.5,143.1 332.0,143.0 332.6,143.0 333.1,143.0 333.6,143.0 334.1,143.0 334.6,143.0 335.2,142.8 335.7,142.9 336.2,142.7 336.7,142.7 337.2,142.4 337.8,142.2 338.3,141.8 338.8,141.6 339.3,141.5 339.8,141.8 340.4,142.0 340.9,142.2 341.4,142.3 341.9,142.2 342.4,142.1 343.0,141.6 343.5,141.4 344.0,141.2 344.5,141.3 345.0,141.6 345.6,142.0 346.1,142.4 346.6,142.5 347.1,142.8 347.6,142.8 348.2,142.9 348.7,143.0 349.2,143.1 349.7,143.1 350.2,143.1 350.8,143.1 351.3,143.1 351.8,143.2 352.3,143.2 352.8,143.2 353.4,143.2 353.9,143.2 354.4,143.2 354.9,143.2 355.4,143.2 356.0,143.1 356.5,143.3 357.0,143.1 357.5,143.2 358.0,143.2 358.6,143.3 359.1,143.1 359.6,143.3 360.1,143.2 360.6,143.2 361.2,143.2 361.7,143.3 362.2,143.2 362.7,143.3 363.2,143.2 363.8,143.1 364.3,143.2 364.8,143.3 365.3,143.3 365.8,143.2 366.4,143.1 366.9,143.2 367.4,143.2 367.9,143.2 368.4,143.2 369.0,143.2 369.5,143.2 370.0,143.1 370.5,143.2 371.0,143.2 371.6,143.2 372.1,143.2 372.6,143.3 373.1,143.2 373.6,143.1 374.2,143.2 374.7,143.2 375.2,143.2 375.7,143.1 376.2,143.2 376.8,143.1 377.3,143.1 377.8,143.2 378.3,143.1 378.8,143.0 379.4,143.1 379.9,142.9 380.4,142.9 380.9,142.8 381.4,142.7 382.0,142.6 382.5,142.8 383.0,142.8 383.5,142.8 384.0,142.8 384.6,142.9 385.1,142.9 385.6,143.0 386.1,142.9 386.6,143.1 387.2,142.9 387.7,143.0 388.2,143.0 388.7,142.9 389.2,142.9 389.8,142.8 390.3,142.7 390.8,142.7 391.3,142.8 391.8,142.7 392.4,142.6 392.9,142.5 393.4,142.4 393.9,142.2 394.4,141.9 395.0,141.6 395.5,141.3 396.0,140.9 396.5,140.7 397.0,140.7 397.6,141.0 398.1,141.2 398.6,141.5 399.1,141.8 399.6,141.9 400.2,142.0 400.7,142.0 401.2,142.0 401.7,142.3 402.2,142.2 402.8,142.3 403.3,142.5 403.8,142.4 404.3,142.5 404.8,142.7 405.4,142.6 405.9,142.7 406.4,142.7 407.4,142.9 408.5,142.9 409.5,143.0 410.6,143.1 411.6,143.0 412.6,143.1 413.7,143.1 414.7,143.2 415.8,143.0 416.8,143.2 417.8,143.2 418.9,143.2 419.9,143.1 421.0,143.2 422.0,143.1 423.0,143.3 424.1,143.1 425.1,143.2 426.2,143.2 427.2,143.3 428.2,143.2 429.3,143.3 430.3,143.2 431.4,143.2 432.4,143.1 433.4,143.1 434.5,143.1 435.5,143.3 436.6,143.1 437.6,143.2 438.6,143.1 439.7,143.0 440.7,143.0 441.8,142.8 442.8,142.3 443.8,142.4 444.9,142.7 445.9,142.9 447.0,143.0 448.0,143.1 449.0,143.1 450.1,143.1 451.1,143.1 452.2,143.2 453.2,143.0 454.2,143.0 455.3,142.8 456.3,142.7 457.4,142.5 458.4,142.7 459.4,143.0 460.5,143.0 461.5,143.1 462.6,143.1 463.6,143.2 464.6,143.2 465.7,143.2 466.7,143.3 467.8,143.3 468.8,143.2 469.8,143.3 470.9,143.2 471.9,143.3 473.0,143.2 474.0,143.2 475.0,143.2 476.1,143.3 477.1,143.3 478.2,143.2 479.2,143.3 480.2,143.3 481.3,143.3 482.3,143.2 483.4,143.3 484.4,143.2 485.4,143.0 486.5,143.1 487.5,142.8 488.6,142.7 489.6,142.4 490.6,142.7 491.7,142.8 492.7,143.0 493.8,143.1 494.8,143.1 495.8,143.2 496.9,143.3 497.9,143.2 499.0,143.3 500.0,143.2 501.0,143.3 502.1,143.3 503.1,143.2 504.2,143.2 505.2,143.2 506.2,143.3 507.3,143.2 508.3,143.2 509.4,143.3 510.4,143.3 511.4,143.2 512.5,143.2 513.5,143.2 514.6,143.3 515.6,143.3 516.6,143.2 517.7,143.3 518.7,143.3 519.8,143.3 520.8,143.2 521.8,143.3 522.9,143.3 523.9,143.2 525.0,143.2 526.0,143.2"/><polyline points="318.0,152.4 318.5,152.4 319.0,152.3 319.6,152.3 320.1,152.3 320.6,152.4 321.1,152.4 321.6,152.4 322.2,152.4 322.7,152.3 323.2,152.3 323.7,152.3 324.2,152.4 324.8,152.3 325.3,152.3 325.8,152.2 326.3,152.3 326.8,152.2 327.4,152.2 327.9,152.3 328.4,152.3 328.9,152.4 329.4,152.4 330.0,152.4 330.5,152.4 331.0,152.4 331.5,152.3 332.0,152.3 332.6,152.4 333.1,152.4 333.6,152.3 334.1,152.4 334.6,152.4 335.2,152.4 335.7,152.3 336.2,152.3 336.7,152.2 337.2,152.2 337.8,152.1 338.3,152.0 338.8,151.9 339.3,151.9 339.8,151.9 340.4,151.9 340.9,151.9 341.4,151.8 341.9,151.7 342.4,151.5 343.0,151.2 343.5,150.7 344.0,150.5 344.5,150.5 345.0,151.0 345.6,151.5 346.1,151.7 346.6,151.9 347.1,152.1 347.6,152.2 348.2,152.2 348.7,152.2 349.2,152.3 349.7,152.4 350.2,152.5 350.8,152.4 351.3,152.5 351.8,152.4 352.3,152.4 352.8,152.5 353.4,152.5 353.9,152.4 354.4,152.4 354.9,152.4 355.4,152.4 356.0,152.5 356.5,152.4 357.0,152.5 357.5,152.4 358.0,152.4 358.6,152.4 359.1,152.4 359.6,152.5 360.1,152.5 360.6,152.4 361.2,152.4 361.7,152.5 362.2,152.5 362.7,152.6 363.2,152.5 363.8,152.5 364.3,152.5 364.8,152.5 365.3,152.5 365.8,152.5 366.4,152.4 366.9,152.6 367.4,152.6 367.9,152.4 368.4,152.5 369.0,152.4 369.5,152.5 370.0,152.6 370.5,152.6 371.0,152.4 371.6,152.5 372.1,152.5 372.6,152.5 373.1,152.4 373.6,152.5 374.2,152.4 374.7,152.5 375.2,152.4 375.7,152.3 376.2,152.4 376.8,152.3 377.3,152.5 377.8,152.3 378.3,152.4 378.8,152.2 379.4,152.2 379.9,152.3 380.4,152.1 380.9,152.1 381.4,151.9 382.0,151.9 382.5,152.0 383.0,152.1 383.5,152.0 384.0,152.2 384.6,152.1 385.1,152.2 385.6,152.3 386.1,152.2 386.6,152.3 387.2,152.3 387.7,152.1 388.2,152.1 388.7,152.2 389.2,152.1 389.8,152.2 390.3,152.0 390.8,152.0 391.3,152.0 391.8,151.9 392.4,151.8 392.9,151.6 393.4,151.5 393.9,151.3 394.4,151.0 395.0,150.8 395.5,150.4 396.0,150.0 396.5,149.7 397.0,149.9 397.6,150.2 398.1,150.4 398.6,150.8 399.1,150.8 399.6,151.1 400.2,151.2 400.7,151.2 401.2,151.2 401.7,151.4 402.2,151.5 402.8,151.6 403.3,151.7 403.8,151.7 404.3,151.7 404.8,151.9 405.4,151.9 405.9,151.9 406.4,152.0 407.4,152.0 408.5,152.1 409.5,152.3 410.6,152.2 411.6,152.3 412.6,152.4 413.7,152.3 414.7,152.4 415.8,152.4 416.8,152.4 417.8,152.4 418.9,152.4 419.9,152.4 421.0,152.4 422.0,152.5 423.0,152.5 424.1,152.4 425.1,152.6 426.2,152.5 427.2,152.6 428.2,152.5 429.3,152.4 430.3,152.6 431.4,152.5 432.4,152.5 433.4,152.5 434.5,152.4 435.5,152.4 436.6,152.5 437.6,152.5 438.6,152.4 439.7,152.4 440.7,152.2 441.8,152.0 442.8,151.6 443.8,151.7 444.9,152.0 445.9,152.2 447.0,152.4 448.0,152.4 449.0,152.5 450.1,152.5 451.1,152.4 452.2,152.4 453.2,152.4 454.2,152.2 455.3,152.1 456.3,151.8 457.4,151.7 458.4,151.9 459.4,152.1 460.5,152.3 461.5,152.3 462.6,152.5 463.6,152.5 464.6,152.4 465.7,152.6 466.7,152.5 467.8,152.4 468.8,152.5 469.8,152.5 470.9,152.5 471.9,152.5 473.0,152.5 474.0,152.6 475.0,152.5 476.1,152.5 477.1,152.5 478.2,152.4 479.2,152.6 480.2,152.5 481.3,152.6 482.3,152.4 483.4,152.5 484.4,152.4 485.4,152.4 486.5,152.3 487.5,152.1 488.6,151.9 489.6,151.6 490.6,151.8 491.7,152.2 492.7,152.3 493.8,152.4 494.8,152.4 495.8,152.4 496.9,152.5 497.9,152.5 499.0,152.6 500.0,152.6 501.0,152.5 502.1,152.5 503.1,152.5 504.2,152.5 505.2,152.5 506.2,152.5 507.3,152.5 508.3,152.6 509.4,152.6 510.4,152.5 511.4,152.5 512.5,152.6 513.5,152.6 514.6,152.5 515.6,152.5 516.6,152.5 517.7,152.6 518.7,152.5 519.8,152.6 520.8,152.6 521.8,152.6 522.9,152.5 523.9,152.6 525.0,152.5 526.0,152.6"/><polyline points="318.0,161.7 318.5,161.6 319.0,161.6 319.6,161.6 320.1,161.5 320.6,161.6 321.1,161.6 321.6,161.6 322.2,161.7 322.7,161.7 323.2,161.6 323.7,161.7 324.2,161.5 324.8,161.7 325.3,161.6 325.8,161.6 326.3,161.5 326.8,161.6 327.4,161.6 327.9,161.7 328.4,161.6 328.9,161.7 329.4,161.6 330.0,161.7 330.5,161.6 331.0,161.6 331.5,161.7 332.0,161.7 332.6,161.7 333.1,161.7 333.6,161.7 334.1,161.6 334.6,161.7 335.2,161.7 335.7,161.8 336.2,161.7 336.7,161.6 337.2,161.7 337.8,161.6 338.3,161.7 338.8,161.6 339.3,161.6 339.8,161.5 340.4,161.5 340.9,161.5 341.4,161.3 341.9,161.1 342.4,160.8 343.0,160.5 343.5,160.1 344.0,159.7 344.5,160.0 345.0,160.3 345.6,160.8 346.1,161.1 346.6,161.3 347.1,161.3 347.6,161.5 348.2,161.5 348.7,161.6 349.2,161.7 349.7,161.6 350.2,161.6 350.8,161.7 351.3,161.7 351.8,161.6 352.3,161.7 352.8,161.7 353.4,161.8 353.9,161.7 354.4,161.8 354.9,161.8 355.4,161.8 356.0,161.8 356.5,161.7 357.0,161.8 357.5,161.8 358.0,161.7 358.6,161.8 359.1,161.7 359.6,161.8 360.1,161.7 360.6,161.7 361.2,161.8 361.7,161.7 362.2,161.7 362.7,161.7 363.2,161.8 363.8,161.8 364.3,161.8 364.8,161.8 365.3,161.8 365.8,161.7 366.4,161.8 366.9,161.7 367.4,161.8 367.9,161.8 368.4,161.8 369.0,161.7 369.5,161.7 370.0,161.7 370.5,161.7 371.0,161.7 371.6,161.8 372.1,161.6 372.6,161.7 373.1,161.8 373.6,161.7 374.2,161.7 374.7,161.7 375.2,161.7 375.7,161.8 376.2,161.7 376.8,161.7 377.3,161.6 377.8,161.7 378.3,161.5 378.8,161.6 379.4,161.5 379.9,161.4 380.4,161.2 380.9,161.0 381.4,161.0 382.0,160.8 382.5,160.9 383.0,161.0 383.5,161.2 384.0,161.3 384.6,161.4 385.1,161.4 385.6,161.5 386.1,161.5 386.6,161.4 387.2,161.4 387.7,161.4 388.2,161.4 388.7,161.5 389.2,161.3 389.8,161.3 390.3,161.4 390.8,161.3 391.3,161.2 391.8,161.1 392.4,161.0 392.9,161.0 393.4,160.7 393.9,160.6 394.4,160.3 395.0,160.0 395.5,159.5 396.0,159.2 396.5,159.0 397.0,159.1 397.6,159.3 398.1,159.7 398.6,159.9 399.1,160.1 399.6,160.2 400.2,160.3 400.7,160.5 401.2,160.5 401.7,160.7 402.2,160.7 402.8,160.8 403.3,160.8 403.8,161.0 404.3,161.0 404.8,161.0 405.4,161.2 405.9,161.2 406.4,161.2 407.4,161.4 408.5,161.4 409.5,161.5 410.6,161.4 411.6,161.5 412.6,161.7 413.7,161.6 414.7,161.7 415.8,161.7 416.8,161.7 417.8,161.6 418.9,161.6 419.9,161.8 421.0,161.7 422.0,161.7 423.0,161.7 424.1,161.7 425.1,161.8 426.2,161.8 427.2,161.8 428.2,161.7 429.3,161.7 430.3,161.8 431.4,161.8 432.4,161.7 433.4,161.7 434.5,161.7 435.5,161.7 436.6,161.7 437.6,161.7 438.6,161.6 439.7,161.7 440.7,161.4 441.8,161.3 442.8,160.9 443.8,160.8 444.9,161.3 445.9,161.5 447.0,161.6 448.0,161.7 449.0,161.6 450.1,161.7 451.1,161.8 452.2,161.7 453.2,161.7 454.2,161.5 455.3,161.4 456.3,161.2 457.4,161.1 458.4,161.1 459.4,161.5 460.5,161.6 461.5,161.6 462.6,161.7 463.6,161.8 464.6,161.8 465.7,161.8 466.7,161.8 467.8,161.8 468.8,161.8 469.8,161.8 470.9,161.7 471.9,161.8 473.0,161.7 474.0,161.9 475.0,161.8 476.1,161.8 477.1,161.8 478.2,161.8 479.2,161.8 480.2,161.8 481.3,161.8 482.3,161.8 483.4,161.8 484.4,161.7 485.4,161.8 486.5,161.6 487.5,161.5 488.6,161.1 489.6,160.9 490.6,161.1 491.7,161.4 492.7,161.6 493.8,161.7 494.8,161.8 495.8,161.8 496.9,161.7 497.9,161.8 499.0,161.8 500.0,161.8 501.0,161.8 502.1,161.9 503.1,161.8 504.2,161.8 505.2,161.8 506.2,161.9 507.3,161.9 508.3,161.9 509.4,161.8 510.4,161.8 511.4,161.8 512.5,161.8 513.5,161.8 514.6,161.8 515.6,161.8 516.6,161.8 517.7,161.9 518.7,161.8 519.8,161.8 520.8,161.9 521.8,161.8 522.9,161.9 523.9,161.9 525.0,161.9 526.0,161.8"/><polyline points="318.0,170.9 318.5,170.9 319.0,170.8 319.6,170.9 320.1,170.9 320.6,171.0 321.1,170.9 321.6,170.8 322.2,170.9 322.7,170.9 323.2,170.8 323.7,170.9 324.2,171.0 324.8,170.9 325.3,170.9 325.8,170.9 326.3,170.9 326.8,170.8 327.4,170.8 327.9,170.9 328.4,170.9 328.9,171.0 329.4,170.9 330.0,171.0 330.5,170.9 331.0,171.0 331.5,171.0 332.0,171.0 332.6,170.9 333.1,171.0 333.6,170.9 334.1,171.0 334.6,171.0 335.2,171.0 335.7,170.9 336.2,170.9 336.7,171.0 337.2,170.9 337.8,170.9 338.3,170.9 338.8,170.8 339.3,170.9 339.8,170.8 340.4,170.8 340.9,170.7 341.4,170.6 341.9,170.4 342.4,170.2 343.0,169.8 343.5,169.2 344.0,169.1 344.5,169.2 345.0,169.6 345.6,170.0 346.1,170.4 346.6,170.4 347.1,170.6 347.6,170.6 348.2,170.8 348.7,170.9 349.2,170.8 349.7,171.0 350.2,171.0 350.8,171.0 351.3,171.0 351.8,171.0 352.3,170.9 352.8,171.1 353.4,171.0 353.9,171.1 354.4,171.0 354.9,171.1 355.4,171.0 356.0,171.1 356.5,171.0 357.0,170.9 357.5,171.1 358.0,171.0 358.6,171.0 359.1,170.9 359.6,171.1 360.1,171.0 360.6,171.0 361.2,171.0 361.7,171.0 362.2,171.0 362.7,171.1 363.2,171.0 363.8,171.0 364.3,171.1 364.8,171.1 365.3,171.1 365.8,171.0 366.4,171.0 366.9,171.1 367.4,171.0 367.9,171.1 368.4,171.1 369.0,171.0 369.5,171.0 370.0,171.0 370.5,171.0 371.0,171.0 371.6,171.0 372.1,171.0 372.6,170.9 373.1,171.0 373.6,170.9 374.2,171.0 374.7,170.9 375.2,171.0 375.7,170.9 376.2,170.8 376.8,170.9 377.3,170.8 377.8,170.7 378.3,170.7 378.8,170.7 379.4,170.5 379.9,170.3 380.4,170.0 380.9,169.7 381.4,169.5 382.0,169.4 382.5,169.6 383.0,169.7 383.5,170.0 384.0,170.2 384.6,170.4 385.1,170.4 385.6,170.5 386.1,170.5 386.6,170.5 387.2,170.7 387.7,170.7 388.2,170.6 388.7,170.6 389.2,170.5 389.8,170.5 390.3,170.5 390.8,170.4 391.3,170.3 391.8,170.2 392.4,170.2 392.9,170.1 393.4,169.8 393.9,169.7 394.4,169.4 395.0,168.9 395.5,168.5 396.0,168.0 396.5,167.9 397.0,167.9 397.6,168.2 398.1,168.6 398.6,169.0 399.1,169.1 399.6,169.3 400.2,169.5 400.7,169.6 401.2,169.6 401.7,169.8 402.2,169.8 402.8,169.8 403.3,170.0 403.8,170.1 404.3,170.2 404.8,170.2 405.4,170.3 405.9,170.3 406.4,170.4 407.4,170.6 408.5,170.6 409.5,170.6 410.6,170.8 411.6,170.9 412.6,170.8 413.7,170.8 414.7,170.9 415.8,171.0 416.8,170.9 417.8,170.9 418.9,170.9 419.9,171.0 421.0,170.9 422.0,171.0 423.0,171.1 424.1,171.0 425.1,171.1 426.2,171.0 427.2,171.1 428.2,171.1 429.3,171.0 430.3,171.1 431.4,170.9 432.4,171.1 433.4,171.1 434.5,171.1 435.5,171.1 436.6,171.0 437.6,171.0 438.6,170.9 439.7,170.9 440.7,170.7 441.8,170.6 442.8,170.2 443.8,170.2 444.9,170.6 445.9,170.7 447.0,170.9 448.0,171.0 449.0,170.9 450.1,171.0 451.1,171.0 452.2,171.0 453.2,171.0 454.2,170.9 455.3,170.7 456.3,170.5 457.4,170.3 458.4,170.5 459.4,170.6 460.5,170.8 461.5,170.9 462.6,171.0 463.6,171.0 464.6,171.1 465.7,171.0 466.7,171.0 467.8,171.0 468.8,171.1 469.8,171.0 470.9,171.1 471.9,171.0 473.0,171.0 474.0,171.1 475.0,171.1 476.1,171.0 477.1,171.1 478.2,171.0 479.2,171.0 480.2,171.0 481.3,171.1 482.3,171.1 483.4,171.0 484.4,170.9 485.4,170.9 486.5,170.9 487.5,170.8 488.6,170.4 489.6,170.1 490.6,170.5 491.7,170.7 492.7,170.9 493.8,171.0 494.8,171.1 495.8,171.0 496.9,171.1 497.9,171.1 499.0,171.0 500.0,171.1 501.0,171.0 502.1,171.0 503.1,171.1 504.2,171.1 505.2,171.1 506.2,171.1 507.3,171.1 508.3,171.2 509.4,171.1 510.4,171.1 511.4,171.2 512.5,171.0 513.5,171.1 514.6,171.1 515.6,171.1 516.6,171.1 517.7,171.1 518.7,171.1 519.8,171.1 520.8,171.1 521.8,171.2 522.9,171.1 523.9,171.0 525.0,171.1 526.0,171.1"/><polyline points="318.0,180.1 318.5,180.1 319.0,180.2 319.6,180.2 320.1,180.1 320.6,180.2 321.1,180.2 321.6,180.1 322.2,180.2 322.7,180.2 323.2,180.3 323.7,180.2 324.2,180.2 324.8,180.1 325.3,180.2 325.8,180.2 326.3,180.2 326.8,180.2 327.4,180.1 327.9,180.2 328.4,180.1 328.9,180.1 329.4,180.3 330.0,180.1 330.5,180.3 331.0,180.3 331.5,180.3 332.0,180.2 332.6,180.2 333.1,180.3 333.6,180.2 334.1,180.2 334.6,180.2 335.2,180.3 335.7,180.2 336.2,180.2 336.7,180.2 337.2,180.2 337.8,180.2 338.3,180.3 338.8,180.2 339.3,180.1 339.8,180.2 340.4,180.1 340.9,179.9 341.4,179.9 341.9,179.7 342.4,179.3 343.0,179.1 343.5,178.6 344.0,178.3 344.5,178.5 345.0,178.8 345.6,179.3 346.1,179.6 346.6,179.8 347.1,179.9 347.6,180.0 348.2,180.1 348.7,180.1 349.2,180.2 349.7,180.2 350.2,180.3 350.8,180.2 351.3,180.2 351.8,180.2 352.3,180.3 352.8,180.3 353.4,180.3 353.9,180.3 354.4,180.3 354.9,180.3 355.4,180.3 356.0,180.2 356.5,180.2 357.0,180.3 357.5,180.3 358.0,180.2 358.6,180.3 359.1,180.3 359.6,180.3 360.1,180.3 360.6,180.4 361.2,180.3 361.7,180.4 362.2,180.3 362.7,180.4 363.2,180.3 363.8,180.4 364.3,180.3 364.8,180.2 365.3,180.3 365.8,180.3 366.4,180.2 366.9,180.3 367.4,180.3 367.9,180.3 368.4,180.3 369.0,180.3 369.5,180.3 370.0,180.3 370.5,180.3 371.0,180.3 371.6,180.2 372.1,180.3 372.6,180.2 373.1,180.2 373.6,180.3 374.2,180.2 374.7,180.1 375.2,180.1 375.7,180.1 376.2,180.1 376.8,180.1 377.3,180.1 377.8,179.9 378.3,180.0 378.8,179.9 379.4,179.8 379.9,179.6 380.4,179.3 380.9,179.0 381.4,178.9 382.0,178.6 382.5,178.9 383.0,179.1 383.5,179.3 384.0,179.6 384.6,179.6 385.1,179.7 385.6,179.7 386.1,179.8 386.6,179.9 387.2,179.9 387.7,179.9 388.2,179.8 388.7,179.8 389.2,179.9 389.8,179.8 390.3,179.7 390.8,179.7 391.3,179.5 391.8,179.5 392.4,179.4 392.9,179.3 393.4,178.9 393.9,178.9 394.4,178.5 395.0,178.0 395.5,177.5 396.0,177.1 396.5,176.8 397.0,176.9 397.6,177.3 398.1,177.7 398.6,178.0 399.1,178.2 399.6,178.4 400.2,178.5 400.7,178.7 401.2,178.7 401.7,178.9 402.2,179.0 402.8,179.0 403.3,179.2 403.8,179.2 404.3,179.4 404.8,179.5 405.4,179.5 405.9,179.6 406.4,179.7 407.4,179.7 408.5,179.8 409.5,179.9 410.6,180.1 411.6,180.1 412.6,180.1 413.7,180.2 414.7,180.2 415.8,180.2 416.8,180.2 417.8,180.2 418.9,180.2 419.9,180.3 421.0,180.3 422.0,180.2 423.0,180.3 424.1,180.3 425.1,180.2 426.2,180.2 427.2,180.2 428.2,180.2 429.3,180.3 430.3,180.2 431.4,180.3 432.4,180.3 433.4,180.3 434.5,180.3 435.5,180.3 436.6,180.3 437.6,180.2 438.6,180.3 439.7,180.2 440.7,180.0 441.8,179.8 442.8,179.3 443.8,179.4 444.9,179.8 445.9,180.1 447.0,180.2 448.0,180.2 449.0,180.3 450.1,180.2 451.1,180.3 452.2,180.2 453.2,180.1 454.2,180.2 455.3,180.0 456.3,179.7 457.4,179.5 458.4,179.8 459.4,180.0 460.5,180.1 461.5,180.3 462.6,180.2 463.6,180.2 464.6,180.2 465.7,180.4 466.7,180.3 467.8,180.3 468.8,180.3 469.8,180.3 470.9,180.4 471.9,180.3 473.0,180.4 474.0,180.4 475.0,180.3 476.1,180.4 477.1,180.4 478.2,180.4 479.2,180.4 480.2,180.4 481.3,180.3 482.3,180.3 483.4,180.4 484.4,180.3 485.4,180.3 486.5,180.2 487.5,180.0 488.6,179.6 489.6,179.5 490.6,179.6 491.7,180.0 492.7,180.1 493.8,180.2 494.8,180.3 495.8,180.3 496.9,180.2 497.9,180.4 499.0,180.4 500.0,180.4 501.0,180.4 502.1,180.3 503.1,180.3 504.2,180.4 505.2,180.3 506.2,180.3 507.3,180.3 508.3,180.4 509.4,180.3 510.4,180.5 511.4,180.4 512.5,180.4 513.5,180.4 514.6,180.3 515.6,180.4 516.6,180.3 517.7,180.4 518.7,180.4 519.8,180.4 520.8,180.4 521.8,180.4 522.9,180.3 523.9,180.4 525.0,180.4 526.0,180.3"/><polyline points="318.0,189.4 318.5,189.4 319.0,189.4 319.6,189.5 320.1,189.4 320.6,189.4 321.1,189.4 321.6,189.4 322.2,189.5 322.7,189.4 323.2,189.5 323.7,189.4 324.2,189.5 324.8,189.4 325.3,189.3 325.8,189.4 326.3,189.4 326.8,189.3 327.4,189.3 327.9,189.3 328.4,189.3 328.9,189.4 329.4,189.4 330.0,189.5 330.5,189.4 331.0,189.5 331.5,189.4 332.0,189.5 332.6,189.5 333.1,189.5 333.6,189.4 334.1,189.5 334.6,189.3 335.2,189.4 335.7,189.4 336.2,189.4 336.7,189.3 337.2,189.2 337.8,189.0 338.3,188.8 338.8,188.7 339.3,188.7 339.8,188.8 340.4,189.0 340.9,189.0 341.4,189.0 341.9,189.1 342.4,188.8 343.0,188.7 343.5,188.4 344.0,188.3 344.5,188.3 345.0,188.6 345.6,188.8 346.1,189.1 346.6,189.1 347.1,189.2 347.6,189.3 348.2,189.4 348.7,189.5 349.2,189.5 349.7,189.5 350.2,189.5 350.8,189.5 351.3,189.5 351.8,189.6 352.3,189.6 352.8,189.6 353.4,189.5 353.9,189.6 354.4,189.6 354.9,189.6 355.4,189.5 356.0,189.5 356.5,189.6 357.0,189.7 357.5,189.5 358.0,189.7 358.6,189.5 359.1,189.6 359.6,189.6 360.1,189.7 360.6,189.6 361.2,189.5 361.7,189.6 362.2,189.5 362.7,189.6 363.2,189.6 363.8,189.6 364.3,189.6 364.8,189.5 365.3,189.6 365.8,189.7 366.4,189.5 366.9,189.6 367.4,189.6 367.9,189.5 368.4,189.6 369.0,189.6 369.5,189.5 370.0,189.6 370.5,189.4 371.0,189.6 371.6,189.6 372.1,189.4 372.6,189.5 373.1,189.5 373.6,189.4 374.2,189.5 374.7,189.4 375.2,189.5 375.7,189.3 376.2,189.4 376.8,189.2 377.3,189.2 377.8,189.1 378.3,189.2 378.8,189.0 379.4,188.8 379.9,188.6 380.4,188.4 380.9,188.0 381.4,187.7 382.0,187.6 382.5,187.6 383.0,188.0 383.5,188.3 384.0,188.6 384.6,188.7 385.1,188.9 385.6,189.0 386.1,189.0 386.6,189.1 387.2,189.1 387.7,189.1 388.2,189.1 388.7,189.0 389.2,189.0 389.8,188.9 390.3,188.9 390.8,189.0 391.3,188.9 391.8,188.8 392.4,188.7 392.9,188.5 393.4,188.3 393.9,188.1 394.4,187.7 395.0,187.4 395.5,186.7 396.0,186.2 396.5,186.1 397.0,186.1 397.6,186.4 398.1,186.8 398.6,187.3 399.1,187.5 399.6,187.7 400.2,187.8 400.7,188.0 401.2,188.1 401.7,188.2 402.2,188.3 402.8,188.3 403.3,188.4 403.8,188.6 404.3,188.6 404.8,188.7 405.4,188.8 405.9,188.8 406.4,188.9 407.4,189.1 408.5,189.2 409.5,189.3 410.6,189.3 411.6,189.4 412.6,189.4 413.7,189.4 414.7,189.5 415.8,189.4 416.8,189.5 417.8,189.5 418.9,189.4 419.9,189.5 421.0,189.6 422.0,189.5 423.0,189.6 424.1,189.5 425.1,189.6 426.2,189.6 427.2,189.6 428.2,189.6 429.3,189.6 430.3,189.7 431.4,189.5 432.4,189.6 433.4,189.5 434.5,189.5 435.5,189.6 436.6,189.6 437.6,189.6 438.6,189.6 439.7,189.4 440.7,189.3 441.8,189.0 442.8,188.7 443.8,188.6 444.9,189.0 445.9,189.3 447.0,189.4 448.0,189.4 449.0,189.5 450.1,189.6 451.1,189.5 452.2,189.6 453.2,189.5 454.2,189.4 455.3,189.2 456.3,189.0 457.4,188.8 458.4,188.9 459.4,189.2 460.5,189.4 461.5,189.5 462.6,189.6 463.6,189.5 464.6,189.6 465.7,189.5 466.7,189.6 467.8,189.5 468.8,189.7 469.8,189.7 470.9,189.5 471.9,189.6 473.0,189.7 474.0,189.7 475.0,189.7 476.1,189.6 477.1,189.6 478.2,189.6 479.2,189.6 480.2,189.7 481.3,189.6 482.3,189.5 483.4,189.5 484.4,189.5 485.4,189.5 486.5,189.4 487.5,189.3 488.6,189.0 489.6,188.8 490.6,189.1 491.7,189.3 492.7,189.4 493.8,189.5 494.8,189.6 495.8,189.5 496.9,189.6 497.9,189.5 499.0,189.6 500.0,189.7 501.0,189.6 502.1,189.6 503.1,189.7 504.2,189.6 505.2,189.6 506.2,189.6 507.3,189.6 508.3,189.6 509.4,189.7 510.4,189.6 511.4,189.7 512.5,189.7 513.5,189.7 514.6,189.7 515.6,189.6 516.6,189.7 517.7,189.7 518.7,189.7 519.8,189.6 520.8,189.7 521.8,189.6 522.9,189.7 523.9,189.7 525.0,189.7 526.0,189.7"/><polyline points="318.0,198.6 318.5,198.7 319.0,198.8 319.6,198.7 320.1,198.8 320.6,198.7 321.1,198.6 321.6,198.7 322.2,198.6 322.7,198.6 323.2,198.6 323.7,198.5 324.2,198.6 324.8,198.5 325.3,198.4 325.8,198.4 326.3,198.4 326.8,198.3 327.4,198.4 327.9,198.5 328.4,198.4 328.9,198.6 329.4,198.5 330.0,198.7 330.5,198.6 331.0,198.6 331.5,198.7 332.0,198.6 332.6,198.5 333.1,198.6 333.6,198.6 334.1,198.5 334.6,198.6 335.2,198.4 335.7,198.3 336.2,198.2 336.7,198.1 337.2,197.7 337.8,197.3 338.3,196.7 338.8,196.4 339.3,196.3 339.8,196.7 340.4,197.4 340.9,197.6 341.4,197.9 341.9,198.0 342.4,198.0 343.0,197.9 343.5,197.7 344.0,197.6 344.5,197.8 345.0,198.0 345.6,198.2 346.1,198.4 346.6,198.5 347.1,198.6 347.6,198.6 348.2,198.6 348.7,198.7 349.2,198.8 349.7,198.8 350.2,198.8 350.8,198.7 351.3,198.7 351.8,198.8 352.3,198.8 352.8,198.8 353.4,198.8 353.9,198.8 354.4,198.8 354.9,198.8 355.4,198.9 356.0,198.9 356.5,198.8 357.0,198.8 357.5,198.9 358.0,198.8 358.6,198.9 359.1,198.9 359.6,198.9 360.1,198.8 360.6,198.9 361.2,198.9 361.7,198.8 362.2,198.8 362.7,198.8 363.2,198.8 363.8,198.8 364.3,198.8 364.8,198.8 365.3,198.8 365.8,198.8 366.4,198.8 366.9,198.9 367.4,198.8 367.9,198.8 368.4,198.7 369.0,198.9 369.5,198.8 370.0,198.7 370.5,198.7 371.0,198.7 371.6,198.8 372.1,198.7 372.6,198.7 373.1,198.7 373.6,198.7 374.2,198.7 374.7,198.7 375.2,198.6 375.7,198.7 376.2,198.5 376.8,198.4 377.3,198.4 377.8,198.4 378.3,198.2 378.8,198.1 379.4,198.0 379.9,197.6 380.4,197.2 380.9,196.9 381.4,196.4 382.0,196.3 382.5,196.5 383.0,196.8 383.5,197.2 384.0,197.5 384.6,197.7 385.1,197.9 385.6,198.1 386.1,198.2 386.6,198.3 387.2,198.3 387.7,198.3 388.2,198.3 388.7,198.3 389.2,198.2 389.8,198.2 390.3,198.2 390.8,198.1 391.3,198.0 391.8,198.0 392.4,197.8 392.9,197.7 393.4,197.5 393.9,197.2 394.4,196.8 395.0,196.4 395.5,195.7 396.0,195.3 396.5,195.0 397.0,195.1 397.6,195.6 398.1,196.0 398.6,196.3 399.1,196.6 399.6,196.7 400.2,196.9 400.7,197.1 401.2,197.2 401.7,197.2 402.2,197.4 402.8,197.5 403.3,197.7 403.8,197.8 404.3,197.8 404.8,197.9 405.4,198.0 405.9,198.1 406.4,198.1 407.4,198.3 408.5,198.3 409.5,198.5 410.6,198.4 411.6,198.6 412.6,198.6 413.7,198.7 414.7,198.7 415.8,198.7 416.8,198.8 417.8,198.7 418.9,198.7 419.9,198.8 421.0,198.8 422.0,198.8 423.0,198.9 424.1,198.8 425.1,198.8 426.2,198.8 427.2,198.9 428.2,198.9 429.3,198.8 430.3,198.8 431.4,198.8 432.4,198.9 433.4,198.9 434.5,198.9 435.5,198.9 436.6,198.8 437.6,198.7 438.6,198.8 439.7,198.7 440.7,198.6 441.8,198.3 442.8,197.9 443.8,198.0 444.9,198.3 445.9,198.6 447.0,198.7 448.0,198.7 449.0,198.9 450.1,198.7 451.1,198.7 452.2,198.9 453.2,198.8 454.2,198.6 455.3,198.5 456.3,198.3 457.4,198.0 458.4,198.4 459.4,198.6 460.5,198.6 461.5,198.9 462.6,198.8 463.6,198.9 464.6,198.8 465.7,198.8 466.7,198.9 467.8,198.8 468.8,199.0 469.8,198.9 470.9,198.8 471.9,198.8 473.0,198.9 474.0,199.0 475.0,198.9 476.1,198.8 477.1,199.0 478.2,198.9 479.2,198.9 480.2,198.9 481.3,198.8 482.3,198.9 483.4,198.8 484.4,198.8 485.4,198.7 486.5,198.7 487.5,198.5 488.6,198.3 489.6,198.0 490.6,198.3 491.7,198.5 492.7,198.7 493.8,198.7 494.8,198.8 495.8,198.9 496.9,198.8 497.9,198.8 499.0,198.9 500.0,198.9 501.0,198.8 502.1,198.9 503.1,198.8 504.2,198.8 505.2,199.0 506.2,198.9 507.3,198.8 508.3,198.9 509.4,199.0 510.4,198.9 511.4,198.9 512.5,199.0 513.5,199.0 514.6,198.9 515.6,198.9 516.6,198.9 517.7,198.9 518.7,198.9 519.8,198.9 520.8,198.9 521.8,199.0 522.9,198.9 523.9,198.8 525.0,198.8 526.0,199.0"/><polyline points="318.0,207.9 318.5,208.0 319.0,207.8 319.6,208.0 320.1,207.8 320.6,207.9 321.1,207.8 321.6,208.0 322.2,207.9 322.7,207.8 323.2,207.8 323.7,207.8 324.2,207.6 324.8,207.7 325.3,207.4 325.8,207.3 326.3,207.3 326.8,207.3 327.4,207.4 327.9,207.5 328.4,207.6 328.9,207.7 329.4,207.7 330.0,207.8 330.5,207.9 331.0,207.8 331.5,207.7 332.0,207.7 332.6,207.8 333.1,207.8 333.6,207.8 334.1,207.6 334.6,207.5 335.2,207.4 335.7,207.3 336.2,206.9 336.7,206.6 337.2,206.1 337.8,205.2 338.3,204.3 338.8,203.6 339.3,203.7 339.8,204.6 340.4,205.4 340.9,206.1 341.4,206.4 341.9,206.6 342.4,206.8 343.0,206.6 343.5,206.6 344.0,206.5 344.5,206.6 345.0,206.8 345.6,207.1 346.1,207.5 346.6,207.6 347.1,207.7 347.6,207.8 348.2,207.8 348.7,207.9 349.2,208.0 349.7,208.0 350.2,208.0 350.8,208.1 351.3,208.1 351.8,208.1 352.3,208.1 352.8,208.1 353.4,208.1 353.9,208.0 354.4,208.1 354.9,208.0 355.4,208.1 356.0,208.1 356.5,208.1 357.0,208.1 357.5,208.0 358.0,208.2 358.6,208.2 359.1,208.2 359.6,208.2 360.1,208.1 360.6,208.1 361.2,208.1 361.7,208.0 362.2,208.1 362.7,208.1 363.2,208.1 363.8,208.2 364.3,208.1 364.8,208.1 365.3,208.2 365.8,208.1 366.4,208.1 366.9,208.0 367.4,208.1 367.9,208.0 368.4,208.1 369.0,208.1 369.5,208.1 370.0,208.0 370.5,208.0 371.0,208.1 371.6,208.1 372.1,208.1 372.6,207.9 373.1,208.1 373.6,207.9 374.2,208.0 374.7,207.9 375.2,207.9 375.7,207.8 376.2,207.8 376.8,207.8 377.3,207.8 377.8,207.6 378.3,207.5 378.8,207.3 379.4,207.2 379.9,206.8 380.4,206.5 380.9,206.0 381.4,205.6 382.0,205.5 382.5,205.6 383.0,206.0 383.5,206.4 384.0,206.8 384.6,207.1 385.1,207.2 385.6,207.3 386.1,207.4 386.6,207.5 387.2,207.5 387.7,207.5 388.2,207.5 388.7,207.6 389.2,207.5 389.8,207.5 390.3,207.4 390.8,207.4 391.3,207.3 391.8,207.2 392.4,207.0 392.9,206.9 393.4,206.6 393.9,206.4 394.4,206.0 395.0,205.5 395.5,204.9 396.0,204.5 396.5,204.2 397.0,204.2 397.6,204.6 398.1,205.0 398.6,205.5 399.1,205.8 399.6,205.9 400.2,206.1 400.7,206.2 401.2,206.4 401.7,206.4 402.2,206.6 402.8,206.8 403.3,206.9 403.8,207.0 404.3,207.0 404.8,207.2 405.4,207.2 405.9,207.4 406.4,207.4 407.4,207.5 408.5,207.7 409.5,207.7 410.6,207.7 411.6,207.9 412.6,207.8 413.7,207.9 414.7,207.9 415.8,207.9 416.8,208.0 417.8,208.1 418.9,208.1 419.9,208.1 421.0,208.1 422.0,208.0 423.0,208.1 424.1,208.2 425.1,208.1 426.2,208.1 427.2,208.2 428.2,208.2 429.3,208.2 430.3,208.0 431.4,208.1 432.4,208.1 433.4,208.1 434.5,208.1 435.5,208.1 436.6,208.1 437.6,208.1 438.6,208.1 439.7,207.9 440.7,207.9 441.8,207.6 442.8,207.3 443.8,207.3 444.9,207.7 445.9,207.9 447.0,208.0 448.0,208.0 449.0,208.1 450.1,208.2 451.1,208.1 452.2,208.1 453.2,208.0 454.2,207.9 455.3,207.9 456.3,207.5 457.4,207.5 458.4,207.5 459.4,207.8 460.5,208.0 461.5,208.1 462.6,208.2 463.6,208.2 464.6,208.2 465.7,208.2 466.7,208.1 467.8,208.2 468.8,208.2 469.8,208.2 470.9,208.1 471.9,208.2 473.0,208.1 474.0,208.2 475.0,208.2 476.1,208.2 477.1,208.2 478.2,208.2 479.2,208.1 480.2,208.2 481.3,208.2 482.3,208.2 483.4,208.2 484.4,208.1 485.4,208.0 486.5,208.1 487.5,207.8 488.6,207.5 489.6,207.2 490.6,207.4 491.7,207.8 492.7,207.9 493.8,208.1 494.8,208.1 495.8,208.1 496.9,208.1 497.9,208.1 499.0,208.1 500.0,208.1 501.0,208.2 502.1,208.2 503.1,208.2 504.2,208.2 505.2,208.1 506.2,208.2 507.3,208.1 508.3,208.2 509.4,208.2 510.4,208.3 511.4,208.2 512.5,208.2 513.5,208.1 514.6,208.2 515.6,208.2 516.6,208.1 517.7,208.2 518.7,208.2 519.8,208.2 520.8,208.2 521.8,208.2 522.9,208.2 523.9,208.3 525.0,208.1 526.0,208.3"/><polyline points="318.0,217.1 318.5,217.2 319.0,217.2 319.6,217.2 320.1,217.1 320.6,217.2 321.1,217.1 321.6,217.0 322.2,217.0 322.7,217.1 323.2,216.9 323.7,216.8 324.2,216.7 324.8,216.5 325.3,216.4 325.8,216.3 326.3,216.3 326.8,216.2 327.4,216.2 327.9,216.4 328.4,216.5 328.9,216.6 329.4,216.8 330.0,216.8 330.5,216.9 331.0,216.8 331.5,216.9 332.0,216.8 332.6,216.8 333.1,216.8 333.6,216.7 334.1,216.6 334.6,216.4 335.2,216.2 335.7,216.0 336.2,215.5 336.7,214.9 337.2,214.0 337.8,212.7 338.3,211.1 338.8,209.9 339.3,210.0 339.8,211.4 340.4,212.8 340.9,214.0 341.4,214.8 341.9,215.2 342.4,215.3 343.0,215.4 343.5,215.2 344.0,215.2 344.5,215.3 345.0,215.7 345.6,216.2 346.1,216.4 346.6,216.7 347.1,216.9 347.6,216.8 348.2,217.1 348.7,217.1 349.2,217.0 349.7,217.1 350.2,217.2 350.8,217.1 351.3,217.3 351.8,217.3 352.3,217.2 352.8,217.3 353.4,217.3 353.9,217.3 354.4,217.3 354.9,217.3 355.4,217.4 356.0,217.3 356.5,217.3 357.0,217.3 357.5,217.4 358.0,217.4 358.6,217.3 359.1,217.3 359.6,217.3 360.1,217.3 360.6,217.4 361.2,217.4 361.7,217.3 362.2,217.4 362.7,217.4 363.2,217.3 363.8,217.4 364.3,217.3 364.8,217.3 365.3,217.4 365.8,217.3 366.4,217.3 366.9,217.4 367.4,217.4 367.9,217.4 368.4,217.3 369.0,217.3 369.5,217.2 370.0,217.3 370.5,217.3 371.0,217.2 371.6,217.2 372.1,217.3 372.6,217.2 373.1,217.2 373.6,217.2 374.2,217.2 374.7,217.2 375.2,217.1 375.7,217.1 376.2,217.0 376.8,217.0 377.3,217.0 377.8,216.8 378.3,216.7 378.8,216.5 379.4,216.3 379.9,216.1 380.4,215.7 380.9,215.2 381.4,214.6 382.0,214.6 382.5,214.7 383.0,215.1 383.5,215.6 384.0,215.9 384.6,216.3 385.1,216.4 385.6,216.5 386.1,216.8 386.6,216.8 387.2,216.8 387.7,216.8 388.2,216.8 388.7,216.7 389.2,216.7 389.8,216.7 390.3,216.7 390.8,216.6 391.3,216.6 391.8,216.4 392.4,216.3 392.9,216.1 393.4,215.9 393.9,215.6 394.4,215.2 395.0,214.7 395.5,214.2 396.0,213.7 396.5,213.4 397.0,213.5 397.6,214.0 398.1,214.3 398.6,214.7 399.1,215.0 399.6,215.1 400.2,215.3 400.7,215.5 401.2,215.7 401.7,215.7 402.2,215.9 402.8,216.0 403.3,216.1 403.8,216.2 404.3,216.3 404.8,216.3 405.4,216.6 405.9,216.5 406.4,216.7 407.4,216.8 408.5,216.9 409.5,217.0 410.6,217.0 411.6,217.0 412.6,217.2 413.7,217.2 414.7,217.2 415.8,217.2 416.8,217.3 417.8,217.4 418.9,217.4 419.9,217.4 421.0,217.3 422.0,217.3 423.0,217.4 424.1,217.3 425.1,217.4 426.2,217.4 427.2,217.3 428.2,217.4 429.3,217.3 430.3,217.4 431.4,217.4 432.4,217.4 433.4,217.4 434.5,217.3 435.5,217.4 436.6,217.3 437.6,217.4 438.6,217.4 439.7,217.3 440.7,217.2 441.8,217.0 442.8,216.6 443.8,216.5 444.9,216.9 445.9,217.1 447.0,217.3 448.0,217.4 449.0,217.3 450.1,217.3 451.1,217.3 452.2,217.4 453.2,217.3 454.2,217.2 455.3,217.2 456.3,216.8 457.4,216.7 458.4,216.9 459.4,217.0 460.5,217.2 461.5,217.3 462.6,217.4 463.6,217.4 464.6,217.3 465.7,217.4 466.7,217.5 467.8,217.5 468.8,217.4 469.8,217.5 470.9,217.5 471.9,217.4 473.0,217.5 474.0,217.4 475.0,217.4 476.1,217.5 477.1,217.4 478.2,217.4 479.2,217.5 480.2,217.4 481.3,217.4 482.3,217.4 483.4,217.4 484.4,217.3 485.4,217.3 486.5,217.3 487.5,217.0 488.6,216.8 489.6,216.6 490.6,216.8 491.7,217.1 492.7,217.3 493.8,217.3 494.8,217.3 495.8,217.5 496.9,217.5 497.9,217.5 499.0,217.5 500.0,217.5 501.0,217.5 502.1,217.4 503.1,217.5 504.2,217.5 505.2,217.6 506.2,217.5 507.3,217.4 508.3,217.5 509.4,217.4 510.4,217.5 511.4,217.6 512.5,217.4 513.5,217.5 514.6,217.6 515.6,217.4 516.6,217.5 517.7,217.6 518.7,217.5 519.8,217.5 520.8,217.5 521.8,217.5 522.9,217.4 523.9,217.5 525.0,217.5 526.0,217.4"/><polyline points="318.0,226.4 318.5,226.4 319.0,226.3 319.6,226.3 320.1,226.3 320.6,226.2 321.1,226.2 321.6,226.3 322.2,226.1 322.7,226.0 323.2,225.9 323.7,225.8 324.2,225.7 324.8,225.5 325.3,225.2 325.8,225.1 326.3,224.8 326.8,224.8 327.4,225.0 327.9,225.1 328.4,225.3 328.9,225.6 329.4,225.6 330.0,225.8 330.5,225.9 331.0,225.8 331.5,225.9 332.0,225.9 332.6,225.7 333.1,225.7 333.6,225.5 334.1,225.3 334.6,225.2 335.2,224.8 335.7,224.3 336.2,223.7 336.7,222.7 337.2,221.3 337.8,219.1 338.3,216.7 338.8,214.7 339.3,214.8 339.8,217.1 340.4,219.4 340.9,221.3 341.4,222.4 341.9,223.1 342.4,223.4 343.0,223.4 343.5,223.3 344.0,223.2 344.5,223.5 345.0,224.2 345.6,224.7 346.1,225.1 346.6,225.6 347.1,225.8 347.6,226.0 348.2,226.0 348.7,226.1 349.2,226.2 349.7,226.2 350.2,226.4 350.8,226.3 351.3,226.4 351.8,226.3 352.3,226.4 352.8,226.5 353.4,226.4 353.9,226.6 354.4,226.6 354.9,226.6 355.4,226.6 356.0,226.6 356.5,226.6 357.0,226.6 357.5,226.6 358.0,226.5 358.6,226.6 359.1,226.6 359.6,226.5 360.1,226.6 360.6,226.7 361.2,226.7 361.7,226.7 362.2,226.7 362.7,226.6 363.2,226.6 363.8,226.6 364.3,226.7 364.8,226.6 365.3,226.5 365.8,226.6 366.4,226.6 366.9,226.6 367.4,226.6 367.9,226.5 368.4,226.7 369.0,226.6 369.5,226.5 370.0,226.7 370.5,226.5 371.0,226.6 371.6,226.6 372.1,226.5 372.6,226.4 373.1,226.6 373.6,226.5 374.2,226.6 374.7,226.5 375.2,226.4 375.7,226.4 376.2,226.3 376.8,226.4 377.3,226.3 377.8,226.1 378.3,226.0 378.8,225.8 379.4,225.6 379.9,225.2 380.4,224.9 380.9,224.4 381.4,223.9 382.0,223.5 382.5,223.7 383.0,224.2 383.5,224.8 384.0,225.1 384.6,225.5 385.1,225.8 385.6,225.9 386.1,225.9 386.6,226.0 387.2,226.0 387.7,226.1 388.2,226.1 388.7,226.1 389.2,226.1 389.8,226.1 390.3,226.0 390.8,226.0 391.3,225.9 391.8,225.9 392.4,225.6 392.9,225.6 393.4,225.4 393.9,225.1 394.4,224.9 395.0,224.4 395.5,223.9 396.0,223.4 396.5,223.2 397.0,223.2 397.6,223.6 398.1,223.9 398.6,224.4 399.1,224.6 399.6,224.7 400.2,224.8 400.7,225.0 401.2,225.1 401.7,225.2 402.2,225.4 402.8,225.4 403.3,225.5 403.8,225.6 404.3,225.7 404.8,225.9 405.4,226.0 405.9,226.0 406.4,226.1 407.4,226.1 408.5,226.3 409.5,226.2 410.6,226.4 411.6,226.4 412.6,226.5 413.7,226.5 414.7,226.6 415.8,226.6 416.8,226.5 417.8,226.6 418.9,226.6 419.9,226.7 421.0,226.7 422.0,226.6 423.0,226.7 424.1,226.6 425.1,226.6 426.2,226.7 427.2,226.7 428.2,226.7 429.3,226.6 430.3,226.7 431.4,226.7 432.4,226.7 433.4,226.6 434.5,226.8 435.5,226.6 436.6,226.6 437.6,226.7 438.6,226.5 439.7,226.6 440.7,226.4 441.8,226.2 442.8,225.9 443.8,225.8 444.9,226.2 445.9,226.4 447.0,226.5 448.0,226.7 449.0,226.7 450.1,226.6 451.1,226.6 452.2,226.6 453.2,226.5 454.2,226.4 455.3,226.4 456.3,226.2 457.4,225.9 458.4,226.1 459.4,226.3 460.5,226.5 461.5,226.5 462.6,226.6 463.6,226.6 464.6,226.7 465.7,226.6 466.7,226.7 467.8,226.7 468.8,226.7 469.8,226.8 470.9,226.6 471.9,226.7 473.0,226.7 474.0,226.7 475.0,226.8 476.1,226.7 477.1,226.8 478.2,226.8 479.2,226.7 480.2,226.7 481.3,226.7 482.3,226.7 483.4,226.7 484.4,226.6 485.4,226.6 486.5,226.4 487.5,226.3 488.6,226.2 489.6,225.9 490.6,226.0 491.7,226.3 492.7,226.5 493.8,226.5 494.8,226.7 495.8,226.6 496.9,226.8 497.9,226.8 499.0,226.7 500.0,226.7 501.0,226.8 502.1,226.7 503.1,226.7 504.2,226.7 505.2,226.7 506.2,226.7 507.3,226.7 508.3,226.7 509.4,226.7 510.4,226.8 511.4,226.8 512.5,226.8 513.5,226.7 514.6,226.8 515.6,226.8 516.6,226.8 517.7,226.7 518.7,226.8 519.8,226.7 520.8,226.8 521.8,226.8 522.9,226.8 523.9,226.8 525.0,226.7 526.0,226.8"/><polyline points="318.0,235.6 318.5,235.6 319.0,235.7 319.6,235.5 320.1,235.5 320.6,235.4 321.1,235.5 321.6,235.4 322.2,235.3 322.7,235.2 323.2,235.2 323.7,234.9 324.2,234.7 324.8,234.5 325.3,234.2 325.8,234.1 326.3,233.8 326.8,233.7 327.4,234.0 327.9,234.1 328.4,234.5 328.9,234.6 329.4,234.8 330.0,235.0 330.5,235.0 331.0,234.9 331.5,235.0 332.0,234.9 332.6,234.9 333.1,234.8 333.6,234.6 334.1,234.4 334.6,234.1 335.2,233.8 335.7,233.3 336.2,232.4 336.7,231.2 337.2,229.7 337.8,227.2 338.3,224.1 338.8,221.9 339.3,222.2 339.8,224.6 340.4,227.3 340.9,229.5 341.4,231.0 341.9,231.7 342.4,231.8 343.0,231.8 343.5,231.4 344.0,231.2 344.5,231.6 345.0,232.6 345.6,233.3 346.1,234.0 346.6,234.4 347.1,234.8 347.6,235.0 348.2,235.2 348.7,235.3 349.2,235.3 349.7,235.4 350.2,235.5 350.8,235.5 351.3,235.6 351.8,235.6 352.3,235.6 352.8,235.7 353.4,235.6 353.9,235.8 354.4,235.8 354.9,235.7 355.4,235.8 356.0,235.8 356.5,235.8 357.0,235.9 357.5,235.9 358.0,235.9 358.6,235.9 359.1,235.9 359.6,235.9 360.1,235.9 360.6,235.8 361.2,235.9 361.7,235.9 362.2,235.8 362.7,235.9 363.2,235.8 363.8,235.8 364.3,235.9 364.8,235.9 365.3,235.8 365.8,235.9 366.4,236.0 366.9,235.9 367.4,235.8 367.9,235.8 368.4,235.8 369.0,235.9 369.5,235.8 370.0,235.8 370.5,235.9 371.0,235.8 371.6,235.9 372.1,235.9 372.6,235.8 373.1,235.7 373.6,235.7 374.2,235.7 374.7,235.7 375.2,235.7 375.7,235.6 376.2,235.6 376.8,235.6 377.3,235.5 377.8,235.4 378.3,235.3 378.8,235.1 379.4,234.9 379.9,234.5 380.4,234.1 380.9,233.6 381.4,233.1 382.0,232.8 382.5,233.0 383.0,233.5 383.5,234.0 384.0,234.6 384.6,234.8 385.1,235.0 385.6,235.1 386.1,235.3 386.6,235.3 387.2,235.3 387.7,235.4 388.2,235.5 388.7,235.4 389.2,235.4 389.8,235.3 390.3,235.5 390.8,235.3 391.3,235.2 391.8,235.1 392.4,235.2 392.9,235.0 393.4,234.7 393.9,234.6 394.4,234.3 395.0,234.0 395.5,233.5 396.0,233.2 396.5,233.0 397.0,233.0 397.6,233.3 398.1,233.7 398.6,233.9 399.1,234.1 399.6,234.4 400.2,234.5 400.7,234.5 401.2,234.7 401.7,234.7 402.2,234.8 402.8,234.9 403.3,234.9 403.8,235.0 404.3,235.2 404.8,235.2 405.4,235.4 405.9,235.3 406.4,235.5 407.4,235.5 408.5,235.5 409.5,235.6 410.6,235.7 411.6,235.8 412.6,235.7 413.7,235.8 414.7,235.9 415.8,235.8 416.8,235.8 417.8,235.9 418.9,235.9 419.9,235.9 421.0,236.0 422.0,236.0 423.0,235.9 424.1,236.0 425.1,236.0 426.2,236.0 427.2,236.0 428.2,235.9 429.3,236.0 430.3,235.9 431.4,236.0 432.4,236.0 433.4,236.0 434.5,235.9 435.5,235.9 436.6,235.9 437.6,235.9 438.6,235.9 439.7,235.8 440.7,235.6 441.8,235.5 442.8,235.1 443.8,235.1 444.9,235.4 445.9,235.8 447.0,235.8 448.0,235.8 449.0,236.0 450.1,235.9 451.1,236.0 452.2,236.0 453.2,235.9 454.2,235.8 455.3,235.6 456.3,235.5 457.4,235.1 458.4,235.4 459.4,235.7 460.5,235.8 461.5,235.8 462.6,235.9 463.6,236.0 464.6,235.9 465.7,235.9 466.7,236.1 467.8,236.0 468.8,235.9 469.8,235.9 470.9,236.1 471.9,235.9 473.0,236.0 474.0,235.9 475.0,236.0 476.1,235.9 477.1,236.0 478.2,236.1 479.2,236.0 480.2,236.1 481.3,235.9 482.3,236.0 483.4,236.0 484.4,235.9 485.4,235.8 486.5,235.8 487.5,235.6 488.6,235.4 489.6,235.1 490.6,235.4 491.7,235.5 492.7,235.8 493.8,235.8 494.8,236.0 495.8,236.0 496.9,236.0 497.9,235.9 499.0,236.1 500.0,236.1 501.0,236.0 502.1,236.0 503.1,236.0 504.2,236.0 505.2,236.1 506.2,236.1 507.3,236.0 508.3,236.1 509.4,236.1 510.4,236.0 511.4,236.0 512.5,236.1 513.5,236.1 514.6,236.0 515.6,236.1 516.6,236.0 517.7,236.0 518.7,236.1 519.8,236.1 520.8,236.0 521.8,236.1 522.9,236.0 523.9,236.0 525.0,236.0 526.0,236.0"/><polyline points="318.0,245.0 318.5,244.9 319.0,244.9 319.6,244.9 320.1,244.8 320.6,244.9 321.1,244.8 321.6,244.8 322.2,244.6 322.7,244.5 323.2,244.5 323.7,244.4 324.2,244.1 324.8,243.9 325.3,243.6 325.8,243.4 326.3,243.3 326.8,243.1 327.4,243.4 327.9,243.5 328.4,243.7 328.9,243.9 329.4,244.1 330.0,244.3 330.5,244.3 331.0,244.3 331.5,244.4 332.0,244.2 332.6,244.1 333.1,244.1 333.6,243.9 334.1,243.7 334.6,243.5 335.2,243.1 335.7,242.8 336.2,241.9 336.7,240.8 337.2,239.2 337.8,237.0 338.3,234.3 338.8,232.1 339.3,232.3 339.8,234.7 340.4,237.3 340.9,239.1 341.4,240.4 341.9,241.2 342.4,241.3 343.0,241.2 343.5,240.6 344.0,240.5 344.5,241.0 345.0,241.8 345.6,242.5 346.1,243.2 346.6,243.7 347.1,244.0 347.6,244.3 348.2,244.5 348.7,244.5 349.2,244.7 349.7,244.7 350.2,244.8 350.8,244.9 351.3,244.8 351.8,244.9 352.3,244.9 352.8,244.9 353.4,245.0 353.9,245.0 354.4,245.1 354.9,245.1 355.4,245.1 356.0,245.0 356.5,245.1 357.0,245.1 357.5,245.1 358.0,245.2 358.6,245.2 359.1,245.1 359.6,245.2 360.1,245.1 360.6,245.2 361.2,245.2 361.7,245.2 362.2,245.1 362.7,245.2 363.2,245.2 363.8,245.1 364.3,245.1 364.8,245.2 365.3,245.2 365.8,245.3 366.4,245.2 366.9,245.1 367.4,245.1 367.9,245.2 368.4,245.1 369.0,245.2 369.5,245.1 370.0,245.2 370.5,245.1 371.0,245.2 371.6,245.1 372.1,245.1 372.6,245.0 373.1,245.1 373.6,245.1 374.2,245.0 374.7,245.0 375.2,245.1 375.7,245.0 376.2,244.9 376.8,244.8 377.3,244.8 377.8,244.7 378.3,244.7 378.8,244.4 379.4,244.3 379.9,244.0 380.4,243.6 380.9,243.1 381.4,242.5 382.0,242.3 382.5,242.5 383.0,243.0 383.5,243.5 384.0,243.8 384.6,244.1 385.1,244.4 385.6,244.5 386.1,244.6 386.6,244.6 387.2,244.8 387.7,244.7 388.2,244.8 388.7,244.7 389.2,244.7 389.8,244.6 390.3,244.8 390.8,244.6 391.3,244.6 391.8,244.5 392.4,244.4 392.9,244.3 393.4,244.1 393.9,244.1 394.4,243.7 395.0,243.4 395.5,242.9 396.0,242.6 396.5,242.4 397.0,242.5 397.6,242.8 398.1,243.2 398.6,243.4 399.1,243.6 399.6,243.7 400.2,243.8 400.7,244.0 401.2,244.1 401.7,244.2 402.2,244.1 402.8,244.2 403.3,244.4 403.8,244.5 404.3,244.5 404.8,244.6 405.4,244.6 405.9,244.6 406.4,244.8 407.4,244.9 408.5,244.8 409.5,245.0 410.6,244.9 411.6,245.0 412.6,245.0 413.7,245.2 414.7,245.1 415.8,245.1 416.8,245.2 417.8,245.2 418.9,245.2 419.9,245.2 421.0,245.2 422.0,245.3 423.0,245.3 424.1,245.3 425.1,245.2 426.2,245.2 427.2,245.2 428.2,245.3 429.3,245.2 430.3,245.3 431.4,245.3 432.4,245.3 433.4,245.2 434.5,245.2 435.5,245.3 436.6,245.3 437.6,245.3 438.6,245.2 439.7,245.1 440.7,245.1 441.8,244.7 442.8,244.4 443.8,244.4 444.9,244.7 445.9,245.0 447.0,245.1 448.0,245.1 449.0,245.2 450.1,245.1 451.1,245.3 452.2,245.1 453.2,245.2 454.2,245.0 455.3,244.8 456.3,244.7 457.4,244.5 458.4,244.7 459.4,244.9 460.5,245.1 461.5,245.1 462.6,245.2 463.6,245.3 464.6,245.2 465.7,245.2 466.7,245.3 467.8,245.3 468.8,245.3 469.8,245.2 470.9,245.3 471.9,245.2 473.0,245.2 474.0,245.4 475.0,245.3 476.1,245.2 477.1,245.3 478.2,245.3 479.2,245.3 480.2,245.2 481.3,245.3 482.3,245.3 483.4,245.2 484.4,245.2 485.4,245.2 486.5,245.1 487.5,245.0 488.6,244.7 489.6,244.4 490.6,244.6 491.7,244.9 492.7,245.0 493.8,245.2 494.8,245.1 495.8,245.2 496.9,245.3 497.9,245.3 499.0,245.2 500.0,245.3 501.0,245.3 502.1,245.2 503.1,245.3 504.2,245.3 505.2,245.3 506.2,245.3 507.3,245.3 508.3,245.3 509.4,245.4 510.4,245.4 511.4,245.4 512.5,245.3 513.5,245.3 514.6,245.4 515.6,245.2 516.6,245.4 517.7,245.4 518.7,245.3 519.8,245.3 520.8,245.4 521.8,245.3 522.9,245.4 523.9,245.4 525.0,245.3 526.0,245.2"/><polyline points="318.0,254.2 318.5,254.2 319.0,254.2 319.6,254.2 320.1,254.1 320.6,254.1 321.1,254.0 321.6,254.0 322.2,254.0 322.7,253.9 323.2,253.7 323.7,253.6 324.2,253.4 324.8,253.2 325.3,253.1 325.8,252.7 326.3,252.6 326.8,252.5 327.4,252.7 327.9,252.9 328.4,253.1 328.9,253.3 329.4,253.4 330.0,253.5 330.5,253.7 331.0,253.6 331.5,253.6 332.0,253.6 332.6,253.5 333.1,253.5 333.6,253.4 334.1,253.2 334.6,252.9 335.2,252.6 335.7,252.1 336.2,251.5 336.7,250.4 337.2,249.0 337.8,246.9 338.3,244.3 338.8,242.4 339.3,242.7 339.8,244.8 340.4,247.1 340.9,248.9 341.4,250.0 341.9,250.5 342.4,250.7 343.0,250.6 343.5,250.1 344.0,249.9 344.5,250.3 345.0,251.2 345.6,252.0 346.1,252.5 346.6,253.0 347.1,253.4 347.6,253.5 348.2,253.8 348.7,253.9 349.2,253.9 349.7,254.0 350.2,254.1 350.8,254.2 351.3,254.1 351.8,254.3 352.3,254.3 352.8,254.3 353.4,254.2 353.9,254.4 354.4,254.3 354.9,254.3 355.4,254.4 356.0,254.4 356.5,254.4 357.0,254.3 357.5,254.4 358.0,254.4 358.6,254.5 359.1,254.4 359.6,254.4 360.1,254.4 360.6,254.5 361.2,254.4 361.7,254.5 362.2,254.4 362.7,254.5 363.2,254.5 363.8,254.5 364.3,254.4 364.8,254.4 365.3,254.4 365.8,254.4 366.4,254.4 366.9,254.5 367.4,254.5 367.9,254.5 368.4,254.5 369.0,254.4 369.5,254.4 370.0,254.4 370.5,254.3 371.0,254.4 371.6,254.5 372.1,254.4 372.6,254.5 373.1,254.5 373.6,254.4 374.2,254.3 374.7,254.4 375.2,254.3 375.7,254.3 376.2,254.3 376.8,254.2 377.3,254.2 377.8,254.2 378.3,254.0 378.8,253.9 379.4,253.8 379.9,253.5 380.4,253.1 380.9,252.8 381.4,252.4 382.0,252.2 382.5,252.4 383.0,252.7 383.5,253.1 384.0,253.4 384.6,253.7 385.1,253.7 385.6,253.9 386.1,253.9 386.6,254.0 387.2,254.1 387.7,254.0 388.2,254.1 388.7,254.2 389.2,254.0 389.8,254.1 390.3,254.1 390.8,254.0 391.3,253.9 391.8,253.8 392.4,253.7 392.9,253.6 393.4,253.5 393.9,253.2 394.4,253.1 395.0,252.7 395.5,252.2 396.0,251.8 396.5,251.7 397.0,251.7 397.6,252.0 398.1,252.4 398.6,252.7 399.1,252.8 399.6,253.1 400.2,253.1 400.7,253.3 401.2,253.2 401.7,253.5 402.2,253.4 402.8,253.5 403.3,253.7 403.8,253.7 404.3,253.8 404.8,253.9 405.4,254.0 405.9,254.0 406.4,254.1 407.4,254.1 408.5,254.1 409.5,254.2 410.6,254.2 411.6,254.3 412.6,254.3 413.7,254.4 414.7,254.4 415.8,254.4 416.8,254.4 417.8,254.4 418.9,254.5 419.9,254.4 421.0,254.5 422.0,254.4 423.0,254.6 424.1,254.5 425.1,254.5 426.2,254.4 427.2,254.5 428.2,254.6 429.3,254.5 430.3,254.5 431.4,254.6 432.4,254.6 433.4,254.4 434.5,254.6 435.5,254.5 436.6,254.6 437.6,254.5 438.6,254.5 439.7,254.4 440.7,254.3 441.8,254.1 442.8,253.6 443.8,253.7 444.9,254.1 445.9,254.3 447.0,254.4 448.0,254.5 449.0,254.5 450.1,254.5 451.1,254.4 452.2,254.5 453.2,254.4 454.2,254.4 455.3,254.2 456.3,253.9 457.4,253.8 458.4,253.9 459.4,254.2 460.5,254.4 461.5,254.5 462.6,254.5 463.6,254.4 464.6,254.5 465.7,254.6 466.7,254.5 467.8,254.5 468.8,254.5 469.8,254.6 470.9,254.6 471.9,254.5 473.0,254.5 474.0,254.5 475.0,254.6 476.1,254.6 477.1,254.6 478.2,254.6 479.2,254.6 480.2,254.6 481.3,254.5 482.3,254.5 483.4,254.5 484.4,254.4 485.4,254.5 486.5,254.3 487.5,254.2 488.6,254.0 489.6,253.7 490.6,253.8 491.7,254.1 492.7,254.4 493.8,254.5 494.8,254.5 495.8,254.6 496.9,254.5 497.9,254.6 499.0,254.5 500.0,254.6 501.0,254.6 502.1,254.6 503.1,254.6 504.2,254.5 505.2,254.5 506.2,254.6 507.3,254.7 508.3,254.6 509.4,254.6 510.4,254.7 511.4,254.5 512.5,254.6 513.5,254.6 514.6,254.5 515.6,254.6 516.6,254.6 517.7,254.6 518.7,254.5 519.8,254.5 520.8,254.7 521.8,254.6 522.9,254.6 523.9,254.5 525.0,254.5 526.0,254.7"/><polyline points="318.0,263.5 318.5,263.4 319.0,263.5 319.6,263.4 320.1,263.4 320.6,263.4 321.1,263.4 321.6,263.4 322.2,263.3 322.7,263.1 323.2,263.1 323.7,263.0 324.2,262.8 324.8,262.5 325.3,262.3 325.8,262.1 326.3,261.8 326.8,261.9 327.4,261.9 327.9,262.3 328.4,262.5 328.9,262.5 329.4,262.7 330.0,262.9 330.5,262.9 331.0,262.9 331.5,262.9 332.0,262.9 332.6,262.7 333.1,262.7 333.6,262.7 334.1,262.5 334.6,262.2 335.2,261.9 335.7,261.4 336.2,260.7 336.7,259.7 337.2,258.1 337.8,256.0 338.3,253.4 338.8,251.5 339.3,251.6 339.8,253.8 340.4,256.4 340.9,258.1 341.4,259.2 341.9,259.9 342.4,260.0 343.0,259.8 343.5,259.4 344.0,259.2 344.5,259.5 345.0,260.3 345.6,261.3 346.1,261.9 346.6,262.3 347.1,262.5 347.6,262.8 348.2,263.0 348.7,263.1 349.2,263.2 349.7,263.3 350.2,263.3 350.8,263.5 351.3,263.5 351.8,263.5 352.3,263.5 352.8,263.6 353.4,263.6 353.9,263.6 354.4,263.6 354.9,263.6 355.4,263.6 356.0,263.6 356.5,263.7 357.0,263.6 357.5,263.7 358.0,263.6 358.6,263.6 359.1,263.6 359.6,263.7 360.1,263.7 360.6,263.7 361.2,263.7 361.7,263.7 362.2,263.7 362.7,263.8 363.2,263.7 363.8,263.8 364.3,263.8 364.8,263.8 365.3,263.8 365.8,263.8 366.4,263.7 366.9,263.8 367.4,263.8 367.9,263.7 368.4,263.7 369.0,263.7 369.5,263.7 370.0,263.8 370.5,263.8 371.0,263.8 371.6,263.7 372.1,263.7 372.6,263.7 373.1,263.6 373.6,263.6 374.2,263.7 374.7,263.6 375.2,263.7 375.7,263.6 376.2,263.6 376.8,263.6 377.3,263.5 377.8,263.5 378.3,263.4 378.8,263.3 379.4,263.3 379.9,263.0 380.4,262.8 380.9,262.6 381.4,262.4 382.0,262.2 382.5,262.4 383.0,262.5 383.5,262.9 384.0,263.1 384.6,263.1 385.1,263.2 385.6,263.4 386.1,263.4 386.6,263.3 387.2,263.3 387.7,263.4 388.2,263.4 388.7,263.4 389.2,263.3 389.8,263.3 390.3,263.3 390.8,263.3 391.3,263.2 391.8,263.1 392.4,263.1 392.9,263.1 393.4,262.8 393.9,262.7 394.4,262.4 395.0,262.1 395.5,261.8 396.0,261.5 396.5,261.2 397.0,261.2 397.6,261.5 398.1,261.8 398.6,262.1 399.1,262.2 399.6,262.3 400.2,262.5 400.7,262.6 401.2,262.6 401.7,262.8 402.2,262.9 402.8,262.9 403.3,263.0 403.8,263.0 404.3,263.1 404.8,263.1 405.4,263.3 405.9,263.2 406.4,263.3 407.4,263.4 408.5,263.5 409.5,263.5 410.6,263.7 411.6,263.7 412.6,263.7 413.7,263.7 414.7,263.7 415.8,263.8 416.8,263.8 417.8,263.8 418.9,263.8 419.9,263.8 421.0,263.8 422.0,263.8 423.0,263.9 424.1,263.7 425.1,263.8 426.2,263.9 427.2,263.8 428.2,263.7 429.3,263.7 430.3,263.7 431.4,263.9 432.4,263.7 433.4,263.8 434.5,263.8 435.5,263.8 436.6,263.7 437.6,263.8 438.6,263.8 439.7,263.6 440.7,263.6 441.8,263.3 442.8,262.9 443.8,263.0 444.9,263.3 445.9,263.5 447.0,263.6 448.0,263.7 449.0,263.7 450.1,263.8 451.1,263.7 452.2,263.7 453.2,263.8 454.2,263.6 455.3,263.5 456.3,263.3 457.4,263.0 458.4,263.2 459.4,263.6 460.5,263.6 461.5,263.7 462.6,263.8 463.6,263.7 464.6,263.8 465.7,263.9 466.7,263.9 467.8,263.9 468.8,263.8 469.8,263.8 470.9,263.8 471.9,263.9 473.0,263.8 474.0,263.8 475.0,263.9 476.1,263.8 477.1,263.9 478.2,263.8 479.2,263.7 480.2,263.9 481.3,263.8 482.3,263.8 483.4,263.9 484.4,263.8 485.4,263.7 486.5,263.7 487.5,263.5 488.6,263.2 489.6,263.0 490.6,263.1 491.7,263.4 492.7,263.7 493.8,263.8 494.8,263.7 495.8,263.9 496.9,263.8 497.9,263.9 499.0,263.8 500.0,263.8 501.0,263.8 502.1,263.8 503.1,263.9 504.2,263.9 505.2,263.9 506.2,263.9 507.3,263.9 508.3,263.9 509.4,263.9 510.4,264.0 511.4,263.8 512.5,263.8 513.5,263.8 514.6,263.8 515.6,264.0 516.6,263.8 517.7,263.8 518.7,263.8 519.8,263.8 520.8,263.8 521.8,263.9 522.9,263.9 523.9,263.9 525.0,263.8 526.0,263.9"/><polyline points="318.0,272.8 318.5,272.9 319.0,272.9 319.6,272.8 320.1,272.8 320.6,272.8 321.1,272.8 321.6,272.8 322.2,272.7 322.7,272.6 323.2,272.7 323.7,272.6 324.2,272.5 324.8,272.3 325.3,272.3 325.8,272.0 326.3,271.9 326.8,271.9 327.4,272.0 327.9,272.2 328.4,272.2 328.9,272.5 329.4,272.5 330.0,272.5 330.5,272.6 331.0,272.6 331.5,272.6 332.0,272.5 332.6,272.4 333.1,272.4 333.6,272.5 334.1,272.2 334.6,272.1 335.2,272.0 335.7,271.8 336.2,271.4 336.7,270.8 337.2,270.0 337.8,268.7 338.3,267.3 338.8,266.2 339.3,266.3 339.8,267.5 340.4,268.7 340.9,269.7 341.4,270.2 341.9,270.5 342.4,270.4 343.0,270.0 343.5,269.4 344.0,269.1 344.5,269.5 345.0,270.1 345.6,270.9 346.1,271.5 346.6,271.9 347.1,272.2 347.6,272.2 348.2,272.5 348.7,272.6 349.2,272.7 349.7,272.8 350.2,272.7 350.8,272.8 351.3,272.9 351.8,272.8 352.3,273.0 352.8,272.9 353.4,272.8 353.9,272.9 354.4,273.0 354.9,272.9 355.4,272.9 356.0,273.0 356.5,273.1 357.0,272.9 357.5,273.0 358.0,273.0 358.6,273.0 359.1,273.1 359.6,273.1 360.1,273.0 360.6,273.0 361.2,273.1 361.7,273.0 362.2,273.1 362.7,273.0 363.2,273.1 363.8,273.1 364.3,273.1 364.8,273.1 365.3,273.0 365.8,273.0 366.4,273.0 366.9,273.1 367.4,273.0 367.9,273.0 368.4,273.0 369.0,273.0 369.5,273.1 370.0,273.0 370.5,273.1 371.0,273.1 371.6,273.1 372.1,273.1 372.6,272.9 373.1,273.0 373.6,272.9 374.2,273.0 374.7,273.0 375.2,272.9 375.7,272.9 376.2,272.9 376.8,272.9 377.3,272.8 377.8,272.8 378.3,272.8 378.8,272.7 379.4,272.8 379.9,272.6 380.4,272.5 380.9,272.3 381.4,272.0 382.0,271.9 382.5,272.1 383.0,272.3 383.5,272.5 384.0,272.6 384.6,272.7 385.1,272.7 385.6,272.7 386.1,272.8 386.6,272.8 387.2,272.8 387.7,272.7 388.2,272.7 388.7,272.8 389.2,272.7 389.8,272.7 390.3,272.7 390.8,272.6 391.3,272.6 391.8,272.5 392.4,272.4 392.9,272.4 393.4,272.2 393.9,271.9 394.4,271.7 395.0,271.4 395.5,271.1 396.0,270.7 396.5,270.5 397.0,270.7 397.6,270.9 398.1,271.2 398.6,271.4 399.1,271.5 399.6,271.7 400.2,271.9 400.7,272.0 401.2,272.1 401.7,272.1 402.2,272.2 402.8,272.3 403.3,272.3 403.8,272.3 404.3,272.3 404.8,272.5 405.4,272.5 405.9,272.6 406.4,272.7 407.4,272.7 408.5,272.8 409.5,272.8 410.6,272.8 411.6,273.0 412.6,273.0 413.7,273.0 414.7,273.0 415.8,273.0 416.8,272.9 417.8,273.0 418.9,273.0 419.9,273.0 421.0,273.1 422.0,273.0 423.0,273.0 424.1,273.0 425.1,273.1 426.2,273.1 427.2,273.1 428.2,273.0 429.3,273.1 430.3,273.1 431.4,273.1 432.4,273.1 433.4,273.0 434.5,273.0 435.5,273.1 436.6,273.0 437.6,273.0 438.6,273.1 439.7,272.9 440.7,272.8 441.8,272.6 442.8,272.3 443.8,272.2 444.9,272.6 445.9,272.7 447.0,273.0 448.0,273.0 449.0,273.0 450.1,273.0 451.1,273.0 452.2,273.0 453.2,273.0 454.2,272.9 455.3,272.7 456.3,272.4 457.4,272.3 458.4,272.5 459.4,272.8 460.5,272.9 461.5,272.9 462.6,273.1 463.6,273.1 464.6,273.0 465.7,273.2 466.7,273.0 467.8,273.1 468.8,273.1 469.8,273.2 470.9,273.1 471.9,273.1 473.0,273.2 474.0,273.0 475.0,273.1 476.1,273.1 477.1,273.1 478.2,273.0 479.2,273.2 480.2,273.2 481.3,273.1 482.3,273.1 483.4,273.1 484.4,272.9 485.4,273.1 486.5,272.9 487.5,272.8 488.6,272.5 489.6,272.2 490.6,272.4 491.7,272.7 492.7,272.9 493.8,273.0 494.8,273.1 495.8,273.1 496.9,273.2 497.9,273.1 499.0,273.1 500.0,273.1 501.0,273.1 502.1,273.1 503.1,273.2 504.2,273.1 505.2,273.1 506.2,273.1 507.3,273.1 508.3,273.1 509.4,273.1 510.4,273.2 511.4,273.1 512.5,273.1 513.5,273.2 514.6,273.2 515.6,273.2 516.6,273.1 517.7,273.2 518.7,273.1 519.8,273.2 520.8,273.2 521.8,273.1 522.9,273.2 523.9,273.2 525.0,273.1 526.0,273.2"/><polyline points="318.0,282.1 318.5,282.2 319.0,282.2 319.6,282.2 320.1,282.1 320.6,282.1 321.1,282.1 321.6,282.1 322.2,282.0 322.7,282.1 323.2,281.9 323.7,281.9 324.2,281.8 324.8,281.7 325.3,281.7 325.8,281.6 326.3,281.4 326.8,281.6 327.4,281.5 327.9,281.6 328.4,281.7 328.9,281.8 329.4,281.8 330.0,281.9 330.5,281.9 331.0,281.9 331.5,282.0 332.0,281.9 332.6,281.9 333.1,282.0 333.6,281.8 334.1,281.8 334.6,281.7 335.2,281.5 335.7,281.3 336.2,281.0 336.7,280.7 337.2,280.1 337.8,279.3 338.3,278.2 338.8,277.4 339.3,277.6 339.8,278.3 340.4,279.3 340.9,279.9 341.4,280.2 341.9,280.2 342.4,280.1 343.0,279.6 343.5,279.1 344.0,278.8 344.5,279.0 345.0,279.6 345.6,280.4 346.1,280.9 346.6,281.3 347.1,281.5 347.6,281.8 348.2,281.9 348.7,281.9 349.2,282.1 349.7,282.0 350.2,282.1 350.8,282.1 351.3,282.2 351.8,282.2 352.3,282.2 352.8,282.2 353.4,282.3 353.9,282.3 354.4,282.2 354.9,282.3 355.4,282.2 356.0,282.3 356.5,282.3 357.0,282.3 357.5,282.4 358.0,282.3 358.6,282.3 359.1,282.4 359.6,282.3 360.1,282.3 360.6,282.4 361.2,282.4 361.7,282.4 362.2,282.3 362.7,282.3 363.2,282.4 363.8,282.4 364.3,282.3 364.8,282.3 365.3,282.3 365.8,282.3 366.4,282.4 366.9,282.4 367.4,282.4 367.9,282.3 368.4,282.3 369.0,282.4 369.5,282.4 370.0,282.3 370.5,282.4 371.0,282.4 371.6,282.4 372.1,282.3 372.6,282.3 373.1,282.4 373.6,282.3 374.2,282.3 374.7,282.3 375.2,282.3 375.7,282.3 376.2,282.2 376.8,282.3 377.3,282.2 377.8,282.3 378.3,282.2 378.8,282.1 379.4,282.2 379.9,282.0 380.4,282.0 380.9,281.9 381.4,281.8 382.0,281.9 382.5,281.9 383.0,281.9 383.5,282.0 384.0,282.0 384.6,282.1 385.1,282.1 385.6,282.2 386.1,282.2 386.6,282.2 387.2,282.1 387.7,282.2 388.2,282.1 388.7,282.2 389.2,282.1 389.8,282.0 390.3,282.0 390.8,281.9 391.3,282.0 391.8,281.7 392.4,281.7 392.9,281.6 393.4,281.5 393.9,281.3 394.4,281.0 395.0,280.8 395.5,280.4 396.0,280.2 396.5,280.0 397.0,280.1 397.6,280.3 398.1,280.5 398.6,280.8 399.1,280.9 399.6,281.0 400.2,281.2 400.7,281.3 401.2,281.3 401.7,281.3 402.2,281.5 402.8,281.5 403.3,281.5 403.8,281.7 404.3,281.8 404.8,281.8 405.4,281.8 405.9,281.9 406.4,281.9 407.4,282.0 408.5,282.0 409.5,282.0 410.6,282.2 411.6,282.2 412.6,282.2 413.7,282.2 414.7,282.2 415.8,282.4 416.8,282.4 417.8,282.4 418.9,282.3 419.9,282.3 421.0,282.3 422.0,282.3 423.0,282.4 424.1,282.3 425.1,282.4 426.2,282.4 427.2,282.4 428.2,282.4 429.3,282.3 430.3,282.3 431.4,282.3 432.4,282.4 433.4,282.4 434.5,282.4 435.5,282.4 436.6,282.3 437.6,282.3 438.6,282.3 439.7,282.3 440.7,282.1 441.8,281.8 442.8,281.5 443.8,281.5 444.9,281.9 445.9,282.1 447.0,282.2 448.0,282.3 449.0,282.2 450.1,282.2 451.1,282.3 452.2,282.2 453.2,282.2 454.2,282.1 455.3,282.0 456.3,281.7 457.4,281.6 458.4,281.8 459.4,282.0 460.5,282.2 461.5,282.3 462.6,282.3 463.6,282.3 464.6,282.4 465.7,282.4 466.7,282.4 467.8,282.4 468.8,282.3 469.8,282.5 470.9,282.4 471.9,282.3 473.0,282.4 474.0,282.4 475.0,282.3 476.1,282.4 477.1,282.4 478.2,282.3 479.2,282.4 480.2,282.4 481.3,282.5 482.3,282.4 483.4,282.3 484.4,282.3 485.4,282.2 486.5,282.2 487.5,282.0 488.6,281.8 489.6,281.6 490.6,281.7 491.7,282.1 492.7,282.3 493.8,282.2 494.8,282.4 495.8,282.4 496.9,282.4 497.9,282.4 499.0,282.4 500.0,282.3 501.0,282.3 502.1,282.5 503.1,282.4 504.2,282.4 505.2,282.4 506.2,282.3 507.3,282.3 508.3,282.5 509.4,282.5 510.4,282.3 511.4,282.4 512.5,282.4 513.5,282.5 514.6,282.5 515.6,282.4 516.6,282.5 517.7,282.5 518.7,282.5 519.8,282.5 520.8,282.5 521.8,282.4 522.9,282.5 523.9,282.4 525.0,282.4 526.0,282.4"/><polyline points="318.0,291.4 318.5,291.4 319.0,291.4 319.6,291.5 320.1,291.5 320.6,291.4 321.1,291.3 321.6,291.3 322.2,291.5 322.7,291.4 323.2,291.4 323.7,291.3 324.2,291.3 324.8,291.2 325.3,291.2 325.8,291.1 326.3,290.9 326.8,290.9 327.4,291.0 327.9,291.1 328.4,291.2 328.9,291.2 329.4,291.2 330.0,291.3 330.5,291.4 331.0,291.3 331.5,291.3 332.0,291.3 332.6,291.3 333.1,291.2 333.6,291.3 334.1,291.1 334.6,291.1 335.2,291.0 335.7,290.9 336.2,290.7 336.7,290.4 337.2,289.9 337.8,289.4 338.3,288.6 338.8,288.0 339.3,288.0 339.8,288.6 340.4,289.1 340.9,289.7 341.4,289.9 341.9,289.9 342.4,289.7 343.0,289.4 343.5,288.9 344.0,288.5 344.5,288.7 345.0,289.3 345.6,289.9 346.1,290.4 346.6,290.8 347.1,290.9 347.6,291.2 348.2,291.2 348.7,291.2 349.2,291.3 349.7,291.5 350.2,291.4 350.8,291.5 351.3,291.6 351.8,291.4 352.3,291.5 352.8,291.6 353.4,291.6 353.9,291.5 354.4,291.5 354.9,291.6 355.4,291.5 356.0,291.7 356.5,291.7 357.0,291.7 357.5,291.6 358.0,291.6 358.6,291.6 359.1,291.7 359.6,291.6 360.1,291.6 360.6,291.6 361.2,291.6 361.7,291.6 362.2,291.7 362.7,291.7 363.2,291.7 363.8,291.6 364.3,291.7 364.8,291.6 365.3,291.6 365.8,291.6 366.4,291.7 366.9,291.7 367.4,291.6 367.9,291.6 368.4,291.6 369.0,291.7 369.5,291.5 370.0,291.7 370.5,291.6 371.0,291.7 371.6,291.7 372.1,291.6 372.6,291.6 373.1,291.7 373.6,291.5 374.2,291.6 374.7,291.6 375.2,291.6 375.7,291.6 376.2,291.5 376.8,291.7 377.3,291.6 377.8,291.6 378.3,291.5 378.8,291.5 379.4,291.5 379.9,291.4 380.4,291.4 380.9,291.3 381.4,291.3 382.0,291.2 382.5,291.1 383.0,291.3 383.5,291.3 384.0,291.4 384.6,291.5 385.1,291.5 385.6,291.5 386.1,291.4 386.6,291.5 387.2,291.4 387.7,291.3 388.2,291.5 388.7,291.3 389.2,291.3 389.8,291.4 390.3,291.3 390.8,291.3 391.3,291.2 391.8,291.2 392.4,291.0 392.9,291.0 393.4,290.8 393.9,290.7 394.4,290.4 395.0,290.2 395.5,289.9 396.0,289.6 396.5,289.3 397.0,289.5 397.6,289.7 398.1,289.9 398.6,290.2 399.1,290.3 399.6,290.3 400.2,290.6 400.7,290.5 401.2,290.6 401.7,290.7 402.2,290.8 402.8,290.9 403.3,290.8 403.8,291.0 404.3,291.0 404.8,291.1 405.4,291.1 405.9,291.1 406.4,291.3 407.4,291.2 408.5,291.4 409.5,291.4 410.6,291.5 411.6,291.5 412.6,291.5 413.7,291.6 414.7,291.6 415.8,291.5 416.8,291.6 417.8,291.5 418.9,291.6 419.9,291.6 421.0,291.6 422.0,291.6 423.0,291.6 424.1,291.7 425.1,291.6 426.2,291.7 427.2,291.7 428.2,291.6 429.3,291.7 430.3,291.6 431.4,291.6 432.4,291.7 433.4,291.7 434.5,291.6 435.5,291.6 436.6,291.6 437.6,291.5 438.6,291.5 439.7,291.5 440.7,291.3 441.8,291.2 442.8,290.7 443.8,290.8 444.9,291.2 445.9,291.4 447.0,291.4 448.0,291.5 449.0,291.6 450.1,291.7 451.1,291.7 452.2,291.6 453.2,291.6 454.2,291.5 455.3,291.2 456.3,291.1 457.4,290.9 458.4,291.0 459.4,291.4 460.5,291.5 461.5,291.6 462.6,291.6 463.6,291.6 464.6,291.6 465.7,291.6 466.7,291.6 467.8,291.6 468.8,291.6 469.8,291.7 470.9,291.7 471.9,291.7 473.0,291.6 474.0,291.7 475.0,291.7 476.1,291.7 477.1,291.7 478.2,291.7 479.2,291.7 480.2,291.7 481.3,291.7 482.3,291.7 483.4,291.6 484.4,291.7 485.4,291.6 486.5,291.5 487.5,291.4 488.6,291.1 489.6,290.8 490.6,291.0 491.7,291.3 492.7,291.5 493.8,291.5 494.8,291.7 495.8,291.6 496.9,291.7 497.9,291.6 499.0,291.7 500.0,291.7 501.0,291.6 502.1,291.7 503.1,291.8 504.2,291.7 505.2,291.8 506.2,291.7 507.3,291.7 508.3,291.7 509.4,291.6 510.4,291.6 511.4,291.7 512.5,291.7 513.5,291.7 514.6,291.6 515.6,291.7 516.6,291.6 517.7,291.6 518.7,291.7 519.8,291.7 520.8,291.6 521.8,291.6 522.9,291.7 523.9,291.7 525.0,291.6 526.0,291.7"/><polyline points="318.0,300.8 318.5,300.8 319.0,300.7 319.6,300.8 320.1,300.8 320.6,300.8 321.1,300.7 321.6,300.7 322.2,300.8 322.7,300.8 323.2,300.7 323.7,300.7 324.2,300.7 324.8,300.7 325.3,300.5 325.8,300.4 326.3,300.5 326.8,300.5 327.4,300.5 327.9,300.6 328.4,300.5 328.9,300.7 329.4,300.6 330.0,300.7 330.5,300.7 331.0,300.7 331.5,300.6 332.0,300.7 332.6,300.7 333.1,300.8 333.6,300.6 334.1,300.6 334.6,300.6 335.2,300.6 335.7,300.4 336.2,300.4 336.7,300.1 337.2,299.9 337.8,299.6 338.3,299.2 338.8,298.8 339.3,298.8 339.8,299.1 340.4,299.4 340.9,299.7 341.4,299.8 341.9,299.8 342.4,299.5 343.0,299.2 343.5,298.9 344.0,298.5 344.5,298.7 345.0,299.2 345.6,299.7 346.1,300.0 346.6,300.2 347.1,300.3 347.6,300.6 348.2,300.6 348.7,300.6 349.2,300.7 349.7,300.7 350.2,300.7 350.8,300.9 351.3,300.8 351.8,300.8 352.3,300.8 352.8,300.8 353.4,300.9 353.9,300.8 354.4,300.9 354.9,301.0 355.4,300.8 356.0,300.8 356.5,300.8 357.0,301.0 357.5,300.9 358.0,300.8 358.6,300.9 359.1,300.9 359.6,300.9 360.1,300.8 360.6,300.8 361.2,301.0 361.7,301.0 362.2,300.9 362.7,300.9 363.2,300.9 363.8,300.8 364.3,300.9 364.8,300.9 365.3,300.9 365.8,300.9 366.4,300.9 366.9,300.9 367.4,300.9 367.9,301.0 368.4,300.9 369.0,301.0 369.5,300.9 370.0,300.9 370.5,301.0 371.0,300.9 371.6,300.9 372.1,300.8 372.6,300.9 373.1,300.9 373.6,300.9 374.2,301.0 374.7,300.9 375.2,300.8 375.7,300.8 376.2,300.9 376.8,300.9 377.3,300.9 377.8,300.9 378.3,300.8 378.8,300.8 379.4,300.7 379.9,300.8 380.4,300.7 380.9,300.5 381.4,300.5 382.0,300.5 382.5,300.4 383.0,300.5 383.5,300.5 384.0,300.7 384.6,300.8 385.1,300.8 385.6,300.8 386.1,300.7 386.6,300.6 387.2,300.6 387.7,300.6 388.2,300.8 388.7,300.7 389.2,300.6 389.8,300.5 390.3,300.5 390.8,300.5 391.3,300.4 391.8,300.4 392.4,300.3 392.9,300.2 393.4,300.1 393.9,299.9 394.4,299.7 395.0,299.5 395.5,299.0 396.0,298.8 396.5,298.7 397.0,298.7 397.6,299.0 398.1,299.2 398.6,299.3 399.1,299.6 399.6,299.7 400.2,299.8 400.7,299.8 401.2,300.0 401.7,300.0 402.2,300.0 402.8,300.2 403.3,300.2 403.8,300.2 404.3,300.4 404.8,300.3 405.4,300.4 405.9,300.4 406.4,300.5 407.4,300.5 408.5,300.7 409.5,300.6 410.6,300.7 411.6,300.8 412.6,300.8 413.7,300.9 414.7,300.8 415.8,300.8 416.8,300.8 417.8,301.0 418.9,300.8 419.9,300.8 421.0,301.0 422.0,300.9 423.0,300.9 424.1,301.0 425.1,301.0 426.2,300.8 427.2,300.9 428.2,301.0 429.3,301.0 430.3,300.9 431.4,300.9 432.4,300.9 433.4,300.9 434.5,301.0 435.5,301.0 436.6,300.8 437.6,300.9 438.6,300.8 439.7,300.7 440.7,300.6 441.8,300.4 442.8,300.1 443.8,300.1 444.9,300.5 445.9,300.6 447.0,300.8 448.0,300.8 449.0,300.9 450.1,300.9 451.1,300.8 452.2,300.8 453.2,300.9 454.2,300.7 455.3,300.6 456.3,300.3 457.4,300.2 458.4,300.4 459.4,300.6 460.5,300.8 461.5,300.8 462.6,300.8 463.6,300.8 464.6,300.8 465.7,301.0 466.7,301.0 467.8,300.9 468.8,300.9 469.8,301.0 470.9,300.9 471.9,300.9 473.0,301.0 474.0,301.0 475.0,300.9 476.1,300.9 477.1,300.9 478.2,300.9 479.2,301.0 480.2,300.9 481.3,300.8 482.3,300.8 483.4,300.9 484.4,300.8 485.4,300.9 486.5,300.8 487.5,300.6 488.6,300.3 489.6,300.0 490.6,300.3 491.7,300.6 492.7,300.7 493.8,300.8 494.8,300.9 495.8,300.9 496.9,300.9 497.9,300.9 499.0,301.0 500.0,300.9 501.0,301.0 502.1,300.9 503.1,301.1 504.2,301.0 505.2,300.9 506.2,301.0 507.3,301.0 508.3,300.9 509.4,300.9 510.4,301.1 511.4,301.0 512.5,301.0 513.5,300.9 514.6,301.0 515.6,300.9 516.6,300.9 517.7,301.0 518.7,300.9 519.8,301.0 520.8,301.0 521.8,300.9 522.9,300.9 523.9,301.1 525.0,301.0 526.0,301.0"/><polyline points="318.0,310.1 318.5,309.9 319.0,310.0 319.6,310.1 320.1,310.1 320.6,310.0 321.1,310.0 321.6,310.1 322.2,310.0 322.7,310.0 323.2,310.0 323.7,310.0 324.2,310.0 324.8,310.0 325.3,310.0 325.8,309.8 326.3,309.9 326.8,309.9 327.4,309.9 327.9,310.0 328.4,309.9 328.9,310.1 329.4,310.0 330.0,310.1 330.5,310.1 331.0,310.1 331.5,310.1 332.0,310.0 332.6,310.0 333.1,310.1 333.6,310.1 334.1,310.0 334.6,310.0 335.2,310.0 335.7,309.9 336.2,309.8 336.7,309.7 337.2,309.7 337.8,309.5 338.3,309.3 338.8,309.0 339.3,309.1 339.8,309.3 340.4,309.5 340.9,309.5 341.4,309.4 341.9,309.4 342.4,309.3 343.0,309.1 343.5,308.5 344.0,308.4 344.5,308.5 345.0,308.9 345.6,309.2 346.1,309.4 346.6,309.7 347.1,309.8 347.6,309.8 348.2,310.0 348.7,310.0 349.2,310.0 349.7,310.1 350.2,310.1 350.8,310.0 351.3,310.1 351.8,310.1 352.3,310.2 352.8,310.2 353.4,310.1 353.9,310.1 354.4,310.2 354.9,310.2 355.4,310.1 356.0,310.2 356.5,310.2 357.0,310.2 357.5,310.1 358.0,310.2 358.6,310.2 359.1,310.2 359.6,310.2 360.1,310.1 360.6,310.3 361.2,310.2 361.7,310.1 362.2,310.1 362.7,310.2 363.2,310.1 363.8,310.2 364.3,310.3 364.8,310.2 365.3,310.2 365.8,310.1 366.4,310.2 366.9,310.3 367.4,310.2 367.9,310.2 368.4,310.1 369.0,310.2 369.5,310.2 370.0,310.2 370.5,310.2 371.0,310.3 371.6,310.2 372.1,310.2 372.6,310.2 373.1,310.1 373.6,310.2 374.2,310.2 374.7,310.2 375.2,310.1 375.7,310.1 376.2,310.2 376.8,310.2 377.3,310.1 377.8,310.2 378.3,310.0 378.8,310.0 379.4,310.0 379.9,310.0 380.4,310.0 380.9,309.8 381.4,309.8 382.0,309.7 382.5,309.8 383.0,309.8 383.5,309.8 384.0,309.9 384.6,310.0 385.1,310.0 385.6,310.1 386.1,310.0 386.6,309.9 387.2,310.0 387.7,310.0 388.2,310.0 388.7,309.8 389.2,309.8 389.8,309.9 390.3,309.9 390.8,309.8 391.3,309.8 391.8,309.7 392.4,309.6 392.9,309.4 393.4,309.3 393.9,309.2 394.4,308.9 395.0,308.6 395.5,308.3 396.0,307.8 396.5,307.8 397.0,307.9 397.6,308.0 398.1,308.3 398.6,308.5 399.1,308.8 399.6,308.8 400.2,309.0 400.7,309.0 401.2,309.0 401.7,309.2 402.2,309.2 402.8,309.4 403.3,309.4 403.8,309.5 404.3,309.6 404.8,309.7 405.4,309.7 405.9,309.7 406.4,309.7 407.4,309.8 408.5,309.9 409.5,310.0 410.6,310.0 411.6,310.0 412.6,310.0 413.7,310.2 414.7,310.0 415.8,310.1 416.8,310.2 417.8,310.1 418.9,310.1 419.9,310.1 421.0,310.1 422.0,310.2 423.0,310.1 424.1,310.1 425.1,310.3 426.2,310.2 427.2,310.2 428.2,310.2 429.3,310.1 430.3,310.1 431.4,310.2 432.4,310.3 433.4,310.2 434.5,310.3 435.5,310.1 436.6,310.2 437.6,310.2 438.6,310.1 439.7,310.1 440.7,310.0 441.8,309.8 442.8,309.4 443.8,309.2 444.9,309.6 445.9,310.0 447.0,310.1 448.0,310.1 449.0,310.2 450.1,310.1 451.1,310.2 452.2,310.0 453.2,310.0 454.2,310.0 455.3,309.9 456.3,309.5 457.4,309.4 458.4,309.7 459.4,309.9 460.5,310.0 461.5,310.1 462.6,310.1 463.6,310.2 464.6,310.2 465.7,310.1 466.7,310.1 467.8,310.3 468.8,310.2 469.8,310.3 470.9,310.2 471.9,310.2 473.0,310.3 474.0,310.3 475.0,310.3 476.1,310.3 477.1,310.2 478.2,310.3 479.2,310.3 480.2,310.3 481.3,310.2 482.3,310.2 483.4,310.2 484.4,310.2 485.4,310.0 486.5,310.0 487.5,309.9 488.6,309.5 489.6,309.4 490.6,309.5 491.7,309.8 492.7,310.0 493.8,310.2 494.8,310.2 495.8,310.2 496.9,310.2 497.9,310.2 499.0,310.1 500.0,310.2 501.0,310.2 502.1,310.2 503.1,310.2 504.2,310.3 505.2,310.2 506.2,310.3 507.3,310.2 508.3,310.3 509.4,310.3 510.4,310.3 511.4,310.2 512.5,310.2 513.5,310.3 514.6,310.3 515.6,310.2 516.6,310.3 517.7,310.2 518.7,310.3 519.8,310.3 520.8,310.2 521.8,310.2 522.9,310.2 523.9,310.3 525.0,310.2 526.0,310.3"/><polyline points="318.0,319.4 318.5,319.3 319.0,319.3 319.6,319.3 320.1,319.3 320.6,319.3 321.1,319.3 321.6,319.3 322.2,319.4 322.7,319.4 323.2,319.3 323.7,319.3 324.2,319.3 324.8,319.3 325.3,319.3 325.8,319.3 326.3,319.2 326.8,319.3 327.4,319.2 327.9,319.2 328.4,319.3 328.9,319.4 329.4,319.3 330.0,319.5 330.5,319.3 331.0,319.4 331.5,319.5 332.0,319.4 332.6,319.4 333.1,319.4 333.6,319.5 334.1,319.5 334.6,319.3 335.2,319.4 335.7,319.4 336.2,319.4 336.7,319.3 337.2,319.3 337.8,319.2 338.3,319.1 338.8,319.1 339.3,319.0 339.8,319.0 340.4,319.1 340.9,319.1 341.4,319.1 341.9,318.9 342.4,318.7 343.0,318.4 343.5,318.1 344.0,318.0 344.5,318.0 345.0,318.3 345.6,318.7 346.1,318.9 346.6,319.1 347.1,319.1 347.6,319.2 348.2,319.3 348.7,319.3 349.2,319.3 349.7,319.4 350.2,319.5 350.8,319.4 351.3,319.5 351.8,319.4 352.3,319.4 352.8,319.5 353.4,319.4 353.9,319.5 354.4,319.4 354.9,319.5 355.4,319.5 356.0,319.5 356.5,319.5 357.0,319.4 357.5,319.5 358.0,319.4 358.6,319.6 359.1,319.4 359.6,319.6 360.1,319.5 360.6,319.4 361.2,319.4 361.7,319.4 362.2,319.5 362.7,319.5 363.2,319.5 363.8,319.6 364.3,319.5 364.8,319.5 365.3,319.6 365.8,319.5 366.4,319.5 366.9,319.4 367.4,319.5 367.9,319.5 368.4,319.5 369.0,319.4 369.5,319.5 370.0,319.5 370.5,319.4 371.0,319.5 371.6,319.4 372.1,319.5 372.6,319.4 373.1,319.4 373.6,319.4 374.2,319.4 374.7,319.5 375.2,319.4 375.7,319.5 376.2,319.3 376.8,319.4 377.3,319.4 377.8,319.3 378.3,319.3 378.8,319.3 379.4,319.3 379.9,319.3 380.4,319.2 380.9,319.1 381.4,319.1 382.0,319.0 382.5,319.0 383.0,319.0 383.5,319.1 384.0,319.1 384.6,319.3 385.1,319.3 385.6,319.2 386.1,319.2 386.6,319.3 387.2,319.1 387.7,319.2 388.2,319.3 388.7,319.1 389.2,319.2 389.8,319.1 390.3,319.1 390.8,319.0 391.3,318.9 391.8,318.9 392.4,318.8 392.9,318.7 393.4,318.6 393.9,318.4 394.4,318.1 395.0,317.8 395.5,317.5 396.0,317.1 396.5,316.9 397.0,317.0 397.6,317.2 398.1,317.5 398.6,317.8 399.1,318.0 399.6,318.0 400.2,318.2 400.7,318.2 401.2,318.4 401.7,318.4 402.2,318.5 402.8,318.6 403.3,318.6 403.8,318.7 404.3,318.7 404.8,318.9 405.4,318.9 405.9,319.0 406.4,318.9 407.4,319.1 408.5,319.1 409.5,319.2 410.6,319.2 411.6,319.3 412.6,319.3 413.7,319.4 414.7,319.4 415.8,319.3 416.8,319.4 417.8,319.3 418.9,319.4 419.9,319.5 421.0,319.5 422.0,319.4 423.0,319.4 424.1,319.5 425.1,319.5 426.2,319.4 427.2,319.4 428.2,319.5 429.3,319.6 430.3,319.5 431.4,319.4 432.4,319.4 433.4,319.4 434.5,319.4 435.5,319.4 436.6,319.4 437.6,319.4 438.6,319.4 439.7,319.3 440.7,319.3 441.8,319.0 442.8,318.5 443.8,318.5 444.9,319.0 445.9,319.2 447.0,319.3 448.0,319.4 449.0,319.4 450.1,319.4 451.1,319.4 452.2,319.5 453.2,319.3 454.2,319.2 455.3,319.1 456.3,318.9 457.4,318.7 458.4,318.9 459.4,319.2 460.5,319.3 461.5,319.4 462.6,319.4 463.6,319.5 464.6,319.4 465.7,319.5 466.7,319.4 467.8,319.4 468.8,319.6 469.8,319.5 470.9,319.5 471.9,319.6 473.0,319.5 474.0,319.5 475.0,319.5 476.1,319.5 477.1,319.5 478.2,319.5 479.2,319.5 480.2,319.5 481.3,319.4 482.3,319.4 483.4,319.5 484.4,319.4 485.4,319.4 486.5,319.2 487.5,319.1 488.6,318.8 489.6,318.7 490.6,318.9 491.7,319.2 492.7,319.4 493.8,319.4 494.8,319.4 495.8,319.5 496.9,319.6 497.9,319.6 499.0,319.5 500.0,319.5 501.0,319.5 502.1,319.5 503.1,319.5 504.2,319.6 505.2,319.6 506.2,319.4 507.3,319.5 508.3,319.5 509.4,319.6 510.4,319.5 511.4,319.5 512.5,319.6 513.5,319.6 514.6,319.5 515.6,319.6 516.6,319.5 517.7,319.6 518.7,319.6 519.8,319.5 520.8,319.6 521.8,319.5 522.9,319.5 523.9,319.6 525.0,319.6 526.0,319.6"/><polyline points="318.0,328.5 318.5,328.6 319.0,328.5 319.6,328.5 320.1,328.7 320.6,328.6 321.1,328.6 321.6,328.6 322.2,328.7 322.7,328.7 323.2,328.6 323.7,328.7 324.2,328.7 324.8,328.5 325.3,328.6 325.8,328.6 326.3,328.7 326.8,328.6 327.4,328.6 327.9,328.5 328.4,328.7 328.9,328.6 329.4,328.7 330.0,328.6 330.5,328.7 331.0,328.8 331.5,328.6 332.0,328.7 332.6,328.6 333.1,328.6 333.6,328.7 334.1,328.6 334.6,328.7 335.2,328.8 335.7,328.8 336.2,328.8 336.7,328.7 337.2,328.6 337.8,328.6 338.3,328.7 338.8,328.6 339.3,328.6 339.8,328.6 340.4,328.5 340.9,328.4 341.4,328.4 341.9,328.2 342.4,328.1 343.0,327.8 343.5,327.5 344.0,327.3 344.5,327.4 345.0,327.6 345.6,328.0 346.1,328.3 346.6,328.4 347.1,328.5 347.6,328.5 348.2,328.7 348.7,328.5 349.2,328.6 349.7,328.6 350.2,328.6 350.8,328.8 351.3,328.7 351.8,328.6 352.3,328.6 352.8,328.7 353.4,328.7 353.9,328.8 354.4,328.8 354.9,328.7 355.4,328.8 356.0,328.7 356.5,328.7 357.0,328.8 357.5,328.7 358.0,328.8 358.6,328.8 359.1,328.8 359.6,328.7 360.1,328.7 360.6,328.7 361.2,328.8 361.7,328.7 362.2,328.8 362.7,328.8 363.2,328.8 363.8,328.7 364.3,328.7 364.8,328.8 365.3,328.7 365.8,328.7 366.4,328.7 366.9,328.8 367.4,328.7 367.9,328.8 368.4,328.7 369.0,328.8 369.5,328.7 370.0,328.7 370.5,328.7 371.0,328.8 371.6,328.7 372.1,328.7 372.6,328.7 373.1,328.7 373.6,328.6 374.2,328.7 374.7,328.7 375.2,328.6 375.7,328.6 376.2,328.7 376.8,328.7 377.3,328.7 377.8,328.7 378.3,328.6 378.8,328.5 379.4,328.5 379.9,328.5 380.4,328.5 380.9,328.2 381.4,328.1 382.0,328.2 382.5,328.2 383.0,328.2 383.5,328.3 384.0,328.5 384.6,328.5 385.1,328.4 385.6,328.5 386.1,328.5 386.6,328.4 387.2,328.5 387.7,328.5 388.2,328.4 388.7,328.4 389.2,328.4 389.8,328.3 390.3,328.4 390.8,328.3 391.3,328.3 391.8,328.1 392.4,328.1 392.9,327.9 393.4,327.7 393.9,327.5 394.4,327.3 395.0,326.9 395.5,326.6 396.0,326.2 396.5,326.0 397.0,326.1 397.6,326.4 398.1,326.6 398.6,326.9 399.1,327.1 399.6,327.2 400.2,327.3 400.7,327.4 401.2,327.6 401.7,327.7 402.2,327.7 402.8,327.7 403.3,327.8 403.8,327.9 404.3,328.0 404.8,328.1 405.4,328.1 405.9,328.1 406.4,328.2 407.4,328.4 408.5,328.5 409.5,328.5 410.6,328.5 411.6,328.5 412.6,328.6 413.7,328.5 414.7,328.6 415.8,328.6 416.8,328.7 417.8,328.7 418.9,328.7 419.9,328.6 421.0,328.7 422.0,328.7 423.0,328.8 424.1,328.7 425.1,328.7 426.2,328.8 427.2,328.7 428.2,328.8 429.3,328.8 430.3,328.8 431.4,328.7 432.4,328.8 433.4,328.8 434.5,328.7 435.5,328.7 436.6,328.7 437.6,328.6 438.6,328.7 439.7,328.6 440.7,328.5 441.8,328.2 442.8,327.9 443.8,327.9 444.9,328.2 445.9,328.4 447.0,328.5 448.0,328.7 449.0,328.7 450.1,328.6 451.1,328.8 452.2,328.6 453.2,328.6 454.2,328.5 455.3,328.5 456.3,328.2 457.4,328.0 458.4,328.2 459.4,328.4 460.5,328.6 461.5,328.7 462.6,328.7 463.6,328.7 464.6,328.8 465.7,328.7 466.7,328.7 467.8,328.8 468.8,328.8 469.8,328.7 470.9,328.8 471.9,328.8 473.0,328.9 474.0,328.8 475.0,328.8 476.1,328.8 477.1,328.9 478.2,328.8 479.2,328.7 480.2,328.8 481.3,328.8 482.3,328.8 483.4,328.7 484.4,328.6 485.4,328.7 486.5,328.7 487.5,328.5 488.6,328.1 489.6,328.0 490.6,328.2 491.7,328.4 492.7,328.5 493.8,328.6 494.8,328.7 495.8,328.7 496.9,328.8 497.9,328.8 499.0,328.7 500.0,328.7 501.0,328.8 502.1,328.8 503.1,328.7 504.2,328.8 505.2,328.8 506.2,328.7 507.3,328.8 508.3,328.9 509.4,328.8 510.4,328.9 511.4,328.8 512.5,328.8 513.5,328.9 514.6,328.8 515.6,328.9 516.6,328.8 517.7,328.9 518.7,328.9 519.8,328.9 520.8,328.8 521.8,328.8 522.9,328.8 523.9,328.7 525.0,328.9 526.0,328.8"/><polyline points="318.0,337.8 318.5,337.8 319.0,337.9 319.6,337.8 320.1,338.0 320.6,337.9 321.1,337.9 321.6,337.8 322.2,338.0 322.7,337.8 323.2,337.8 323.7,338.0 324.2,337.9 324.8,337.9 325.3,337.8 325.8,337.9 326.3,337.8 326.8,337.9 327.4,337.9 327.9,337.9 328.4,337.8 328.9,337.9 329.4,337.9 330.0,338.0 330.5,337.9 331.0,338.0 331.5,337.9 332.0,337.9 332.6,337.9 333.1,338.0 333.6,338.1 334.1,337.9 334.6,338.0 335.2,338.0 335.7,337.9 336.2,337.9 336.7,337.9 337.2,337.9 337.8,338.0 338.3,337.9 338.8,338.0 339.3,337.9 339.8,337.9 340.4,337.8 340.9,337.9 341.4,337.8 341.9,337.6 342.4,337.5 343.0,337.2 343.5,337.2 344.0,337.0 344.5,337.0 345.0,337.3 345.6,337.5 346.1,337.6 346.6,337.7 347.1,337.8 347.6,337.9 348.2,338.0 348.7,338.0 349.2,338.0 349.7,338.0 350.2,338.1 350.8,338.1 351.3,338.0 351.8,338.0 352.3,338.1 352.8,338.1 353.4,338.0 353.9,338.1 354.4,338.0 354.9,338.1 355.4,338.0 356.0,338.0 356.5,338.0 357.0,338.1 357.5,338.0 358.0,338.1 358.6,338.1 359.1,338.0 359.6,338.0 360.1,338.1 360.6,338.1 361.2,338.0 361.7,338.0 362.2,338.1 362.7,338.1 363.2,338.1 363.8,338.0 364.3,338.0 364.8,338.1 365.3,338.1 365.8,338.0 366.4,338.0 366.9,338.1 367.4,338.1 367.9,337.9 368.4,338.0 369.0,338.0 369.5,338.0 370.0,338.0 370.5,338.1 371.0,338.0 371.6,338.1 372.1,338.0 372.6,338.0 373.1,338.0 373.6,338.0 374.2,338.0 374.7,337.9 375.2,338.0 375.7,338.0 376.2,338.0 376.8,337.9 377.3,337.9 377.8,338.0 378.3,337.9 378.8,337.8 379.4,337.8 379.9,337.8 380.4,337.6 380.9,337.5 381.4,337.5 382.0,337.5 382.5,337.5 383.0,337.6 383.5,337.6 384.0,337.7 384.6,337.8 385.1,337.7 385.6,337.8 386.1,337.7 386.6,337.8 387.2,337.7 387.7,337.7 388.2,337.6 388.7,337.6 389.2,337.6 389.8,337.6 390.3,337.6 390.8,337.5 391.3,337.4 391.8,337.3 392.4,337.3 392.9,337.1 393.4,336.9 393.9,336.8 394.4,336.4 395.0,336.1 395.5,335.7 396.0,335.3 396.5,335.0 397.0,335.2 397.6,335.4 398.1,335.8 398.6,336.0 399.1,336.3 399.6,336.3 400.2,336.6 400.7,336.7 401.2,336.8 401.7,336.8 402.2,337.0 402.8,336.9 403.3,337.0 403.8,337.2 404.3,337.2 404.8,337.2 405.4,337.3 405.9,337.5 406.4,337.4 407.4,337.5 408.5,337.7 409.5,337.7 410.6,337.7 411.6,337.8 412.6,337.9 413.7,337.8 414.7,337.8 415.8,337.9 416.8,337.9 417.8,338.0 418.9,337.9 419.9,338.0 421.0,337.9 422.0,338.1 423.0,338.0 424.1,338.0 425.1,338.1 426.2,338.0 427.2,338.1 428.2,338.0 429.3,338.0 430.3,338.1 431.4,338.1 432.4,338.0 433.4,338.0 434.5,338.0 435.5,338.0 436.6,338.0 437.6,338.0 438.6,337.9 439.7,337.9 440.7,337.8 441.8,337.6 442.8,337.1 443.8,337.1 444.9,337.6 445.9,337.8 447.0,337.8 448.0,337.9 449.0,338.0 450.1,337.9 451.1,338.0 452.2,338.0 453.2,338.0 454.2,337.9 455.3,337.8 456.3,337.4 457.4,337.2 458.4,337.5 459.4,337.7 460.5,337.8 461.5,338.0 462.6,338.0 463.6,338.0 464.6,338.0 465.7,338.0 466.7,338.0 467.8,338.0 468.8,338.1 469.8,338.0 470.9,338.1 471.9,338.0 473.0,338.0 474.0,338.0 475.0,338.1 476.1,338.0 477.1,338.1 478.2,338.0 479.2,338.1 480.2,338.0 481.3,338.1 482.3,338.1 483.4,338.1 484.4,338.1 485.4,338.0 486.5,337.8 487.5,337.7 488.6,337.4 489.6,337.2 490.6,337.4 491.7,337.8 492.7,337.9 493.8,337.9 494.8,337.9 495.8,338.1 496.9,338.0 497.9,338.1 499.0,338.1 500.0,338.0 501.0,338.1 502.1,338.0 503.1,338.0 504.2,338.1 505.2,338.0 506.2,338.1 507.3,338.0 508.3,338.0 509.4,338.0 510.4,338.1 511.4,338.0 512.5,338.2 513.5,338.1 514.6,338.1 515.6,338.1 516.6,338.1 517.7,338.1 518.7,338.1 519.8,338.0 520.8,338.0 521.8,338.1 522.9,338.0 523.9,338.1 525.0,338.0 526.0,338.2"/></g>
<line x1="517.90" y1="343.80" x2="517.90" y2="8.00" stroke="#000" stroke-width="1.45" stroke-linecap="butt" />
<polyline points="521.60,13.71 517.90,7.30 514.20,13.71" fill="none" stroke="#000" stroke-width="1.45" stroke-linecap="round" stroke-linejoin="round"/>
<text x="489.3" y="12.3" font-size="11.2" font-weight="normal" fill="#000" text-anchor="start" stroke="#000" stroke-width="0.3">350°</text>
<text x="501.3" y="346.3" font-size="11.2" font-weight="normal" fill="#000" text-anchor="start" stroke="#000" stroke-width="0.3">0°</text>
<rect x="318.1" y="2.4" width="208.2" height="347.5" fill="none" stroke="#000" stroke-width="1.75"/>
<line x1="318.00" y1="350.00" x2="318.00" y2="345.00" stroke="#000" stroke-width="1.5" stroke-linecap="butt" />
<line x1="344.00" y1="350.00" x2="344.00" y2="347.00" stroke="#000" stroke-width="1.5" stroke-linecap="butt" />
<line x1="370.00" y1="350.00" x2="370.00" y2="345.00" stroke="#000" stroke-width="1.5" stroke-linecap="butt" />
<line x1="396.00" y1="350.00" x2="396.00" y2="347.00" stroke="#000" stroke-width="1.5" stroke-linecap="butt" />
<line x1="422.00" y1="350.00" x2="422.00" y2="345.00" stroke="#000" stroke-width="1.5" stroke-linecap="butt" />
<line x1="448.00" y1="350.00" x2="448.00" y2="347.00" stroke="#000" stroke-width="1.5" stroke-linecap="butt" />
<line x1="474.00" y1="350.00" x2="474.00" y2="345.00" stroke="#000" stroke-width="1.5" stroke-linecap="butt" />
<line x1="500.00" y1="350.00" x2="500.00" y2="347.00" stroke="#000" stroke-width="1.5" stroke-linecap="butt" />
<line x1="526.00" y1="350.00" x2="526.00" y2="345.00" stroke="#000" stroke-width="1.5" stroke-linecap="butt" />
<text x="318.0" y="363.7" font-size="10.5" font-weight="bold" fill="#000" text-anchor="middle" >100</text>
<text x="370.0" y="363.7" font-size="10.5" font-weight="bold" fill="#000" text-anchor="middle" >150</text>
<text x="422.0" y="363.7" font-size="10.5" font-weight="bold" fill="#000" text-anchor="middle" >200</text>
<text x="474.0" y="363.7" font-size="10.5" font-weight="bold" fill="#000" text-anchor="middle" >250</text>
<text x="526.0" y="363.7" font-size="10.5" font-weight="bold" fill="#000" text-anchor="middle" >300</text>
<text transform="translate(359.2,381.0) scale(1.0369,1)" font-size="14" font-weight="bold">Raman Shift (cm<tspan font-size="9" dy="-5.5">-1</tspan><tspan dy="5.5">)</tspan></text>
<text transform="translate(305.3,175.7) rotate(-90)" font-size="14" font-weight="bold" text-anchor="middle">Intensity (a. u.)</text>
<text x="536.5" y="16.3" font-size="24.5" font-weight="bold" fill="#000" text-anchor="start" >c</text>
<circle cx="639.5" cy="95.6" r="12.80" fill="none" stroke="#c8c8c8" stroke-width="1"/>
<circle cx="639.5" cy="95.6" r="25.60" fill="none" stroke="#999" stroke-width="1"/>
<circle cx="639.5" cy="95.6" r="38.40" fill="none" stroke="#c8c8c8" stroke-width="1"/>
<circle cx="639.5" cy="95.6" r="51.20" fill="none" stroke="#999" stroke-width="1"/>
<circle cx="639.5" cy="95.6" r="64.00" fill="none" stroke="#c8c8c8" stroke-width="1"/>
<circle cx="639.5" cy="95.6" r="76.80" fill="none" stroke="#777" stroke-width="1"/>
<line x1="716.30" y1="95.60" x2="562.70" y2="95.60" stroke="#999" stroke-width="1" stroke-linecap="butt" />
<line x1="706.01" y1="57.20" x2="572.99" y2="134.00" stroke="#999" stroke-width="1" stroke-linecap="butt" />
<line x1="677.90" y1="29.09" x2="601.10" y2="162.11" stroke="#999" stroke-width="1" stroke-linecap="butt" />
<line x1="639.50" y1="18.80" x2="639.50" y2="172.40" stroke="#999" stroke-width="1" stroke-linecap="butt" />
<line x1="601.10" y1="29.09" x2="677.90" y2="162.11" stroke="#999" stroke-width="1" stroke-linecap="butt" />
<line x1="572.99" y1="57.20" x2="706.01" y2="134.00" stroke="#999" stroke-width="1" stroke-linecap="butt" />
<text x="639.1" y="11.3" font-size="11" font-weight="bold" fill="#111" text-anchor="middle" >90</text>
<text x="594.5" y="23.6" font-size="11" font-weight="bold" fill="#111" text-anchor="middle" >120</text>
<text x="680.3" y="23.6" font-size="11" font-weight="bold" fill="#111" text-anchor="middle" >60</text>
<text x="561.4" y="55.3" font-size="11" font-weight="bold" fill="#111" text-anchor="middle" >150</text>
<text x="712.9" y="55.6" font-size="11" font-weight="bold" fill="#111" text-anchor="middle" >30</text>
<text x="550.5" y="98.4" font-size="11" font-weight="bold" fill="#111" text-anchor="middle" >180</text>
<text x="722" y="99.1" font-size="11" font-weight="bold" fill="#111" text-anchor="middle" >0</text>
<text x="561.4" y="142.4" font-size="11" font-weight="bold" fill="#111" text-anchor="middle" >210</text>
<text x="716.2" y="142.4" font-size="11" font-weight="bold" fill="#111" text-anchor="middle" >330</text>
<text x="594.3" y="174.3" font-size="11" font-weight="bold" fill="#111" text-anchor="middle" >240</text>
<text x="683.3" y="174.3" font-size="11" font-weight="bold" fill="#111" text-anchor="middle" >300</text>
<text x="639" y="185.1" font-size="11" font-weight="bold" fill="#111" text-anchor="middle" >270</text>
<path d="M660.23,95.60 L660.18,95.24 L660.14,94.88 L660.10,94.52 L660.08,94.16 L660.08,93.80 L660.08,93.44 L660.10,93.07 L660.13,92.70 L660.17,92.33 L660.22,91.95 L660.28,91.56 L660.35,91.17 L660.43,90.77 L660.51,90.36 L660.61,89.94 L660.70,89.52 L660.80,89.09 L660.90,88.65 L661.01,88.20 L661.11,87.74 L661.21,87.27 L661.31,86.79 L661.40,86.30 L661.50,85.81 L661.59,85.30 L661.68,84.78 L661.76,84.26 L661.85,83.72 L661.93,83.17 L662.01,82.61 L662.09,82.03 L662.17,81.43 L662.25,80.82 L662.34,80.20 L662.43,79.55 L662.52,78.88 L662.61,78.18 L662.71,77.46 L662.82,76.72 L662.93,75.94 L663.05,75.13 L663.17,74.29 L663.29,73.42 L663.41,72.51 L663.54,71.56 L663.66,70.58 L663.79,69.56 L663.90,68.50 L664.01,67.40 L664.11,66.27 L664.19,65.11 L664.26,63.91 L664.31,62.68 L664.34,61.42 L664.34,60.13 L664.31,58.82 L664.25,57.49 L664.15,56.15 L664.02,54.79 L663.85,53.43 L663.63,52.07 L663.37,50.70 L663.07,49.35 L662.71,48.00 L662.31,46.68 L661.86,45.37 L661.36,44.10 L660.81,42.85 L660.22,41.64 L659.57,40.46 L658.87,39.33 L658.13,38.25 L657.35,37.21 L656.52,36.23 L655.66,35.30 L654.75,34.43 L653.81,33.62 L652.83,32.87 L651.83,32.18 L650.79,31.55 L649.73,30.99 L648.65,30.49 L647.55,30.05 L646.43,29.68 L645.29,29.37 L644.15,29.12 L642.99,28.94 L641.83,28.82 L640.67,28.77 L639.50,28.77 L638.33,28.84 L637.17,28.97 L636.02,29.17 L634.87,29.42 L633.74,29.74 L632.62,30.12 L631.51,30.56 L630.43,31.06 L629.37,31.63 L628.33,32.26 L627.32,32.95 L626.34,33.70 L625.40,34.51 L624.49,35.38 L623.61,36.31 L622.78,37.30 L621.99,38.34 L621.25,39.44 L620.56,40.59 L619.91,41.79 L619.32,43.03 L618.78,44.32 L618.30,45.65 L617.87,47.01 L617.49,48.40 L617.17,49.82 L616.91,51.26 L616.70,52.72 L616.54,54.18 L616.44,55.65 L616.38,57.12 L616.37,58.58 L616.40,60.04 L616.48,61.47 L616.59,62.88 L616.73,64.26 L616.91,65.62 L617.10,66.93 L617.32,68.21 L617.55,69.44 L617.79,70.63 L618.04,71.76 L618.29,72.85 L618.53,73.89 L618.77,74.87 L619.00,75.80 L619.21,76.68 L619.40,77.50 L619.58,78.28 L619.73,79.01 L619.86,79.69 L619.96,80.33 L620.03,80.93 L620.08,81.49 L620.10,82.02 L620.10,82.51 L620.07,82.98 L620.02,83.43 L619.95,83.85 L619.86,84.26 L619.76,84.66 L619.64,85.04 L619.51,85.41 L619.37,85.78 L619.23,86.15 L619.09,86.51 L618.95,86.88 L618.82,87.24 L618.69,87.61 L618.57,87.98 L618.46,88.36 L618.37,88.73 L618.29,89.12 L618.23,89.50 L618.18,89.89 L618.15,90.28 L618.13,90.67 L618.13,91.06 L618.14,91.45 L618.17,91.84 L618.21,92.23 L618.26,92.61 L618.32,93.00 L618.38,93.38 L618.45,93.76 L618.52,94.13 L618.59,94.50 L618.65,94.87 L618.72,95.24 L618.77,95.60 L618.82,95.96 L618.86,96.32 L618.90,96.68 L618.92,97.04 L618.92,97.40 L618.92,97.76 L618.90,98.13 L618.87,98.50 L618.83,98.87 L618.78,99.25 L618.72,99.64 L618.65,100.03 L618.57,100.43 L618.49,100.84 L618.39,101.26 L618.30,101.68 L618.20,102.11 L618.10,102.55 L617.99,103.00 L617.89,103.46 L617.79,103.93 L617.69,104.41 L617.60,104.90 L617.50,105.39 L617.41,105.90 L617.32,106.42 L617.24,106.94 L617.15,107.48 L617.07,108.03 L616.99,108.59 L616.91,109.17 L616.83,109.77 L616.75,110.38 L616.66,111.00 L616.57,111.65 L616.48,112.32 L616.39,113.02 L616.29,113.74 L616.18,114.48 L616.07,115.26 L615.95,116.07 L615.83,116.91 L615.71,117.78 L615.59,118.69 L615.46,119.64 L615.34,120.62 L615.21,121.64 L615.10,122.70 L614.99,123.80 L614.89,124.93 L614.81,126.09 L614.74,127.29 L614.69,128.52 L614.66,129.78 L614.66,131.07 L614.69,132.38 L614.75,133.71 L614.85,135.05 L614.98,136.41 L615.15,137.77 L615.37,139.13 L615.63,140.50 L615.93,141.85 L616.29,143.20 L616.69,144.52 L617.14,145.83 L617.64,147.10 L618.19,148.35 L618.78,149.56 L619.43,150.74 L620.13,151.87 L620.87,152.95 L621.65,153.99 L622.48,154.97 L623.34,155.90 L624.25,156.77 L625.19,157.58 L626.17,158.33 L627.17,159.02 L628.21,159.65 L629.27,160.21 L630.35,160.71 L631.45,161.15 L632.57,161.52 L633.71,161.83 L634.85,162.08 L636.01,162.26 L637.17,162.38 L638.33,162.43 L639.50,162.43 L640.67,162.36 L641.83,162.23 L642.98,162.03 L644.13,161.78 L645.26,161.46 L646.38,161.08 L647.49,160.64 L648.57,160.14 L649.63,159.57 L650.67,158.94 L651.68,158.25 L652.66,157.50 L653.60,156.69 L654.51,155.82 L655.39,154.89 L656.22,153.90 L657.01,152.86 L657.75,151.76 L658.44,150.61 L659.09,149.41 L659.68,148.17 L660.22,146.88 L660.70,145.55 L661.13,144.19 L661.51,142.80 L661.83,141.38 L662.09,139.94 L662.30,138.48 L662.46,137.02 L662.56,135.55 L662.62,134.08 L662.63,132.62 L662.60,131.16 L662.52,129.73 L662.41,128.32 L662.27,126.94 L662.09,125.58 L661.90,124.27 L661.68,122.99 L661.45,121.76 L661.21,120.57 L660.96,119.44 L660.71,118.35 L660.47,117.31 L660.23,116.33 L660.00,115.40 L659.79,114.52 L659.60,113.70 L659.42,112.92 L659.27,112.19 L659.14,111.51 L659.04,110.87 L658.97,110.27 L658.92,109.71 L658.90,109.18 L658.90,108.69 L658.93,108.22 L658.98,107.77 L659.05,107.35 L659.14,106.94 L659.24,106.54 L659.36,106.16 L659.49,105.79 L659.63,105.42 L659.77,105.05 L659.91,104.69 L660.05,104.32 L660.18,103.96 L660.31,103.59 L660.43,103.22 L660.54,102.84 L660.63,102.47 L660.71,102.08 L660.77,101.70 L660.82,101.31 L660.85,100.92 L660.87,100.53 L660.87,100.14 L660.86,99.75 L660.83,99.36 L660.79,98.97 L660.74,98.59 L660.68,98.20 L660.62,97.82 L660.55,97.44 L660.48,97.07 L660.41,96.70 L660.35,96.33 L660.28,95.96 L660.23,95.60 Z" fill="none" stroke="#FF0000" stroke-width="1.3"/>
<circle cx="659.70" cy="95.60" r="2.4" fill="#FF0000"/>
<circle cx="656.93" cy="92.53" r="2.4" fill="#FF0000"/>
<circle cx="660.36" cy="88.01" r="2.4" fill="#FF0000"/>
<circle cx="661.58" cy="82.85" r="2.4" fill="#FF0000"/>
<circle cx="661.79" cy="76.89" r="2.4" fill="#FF0000"/>
<circle cx="661.93" cy="68.87" r="2.4" fill="#FF0000"/>
<circle cx="659.50" cy="60.96" r="2.4" fill="#FF0000"/>
<circle cx="658.82" cy="42.51" r="2.4" fill="#FF0000"/>
<circle cx="651.26" cy="28.93" r="2.4" fill="#FF0000"/>
<circle cx="639.50" cy="23.50" r="2.4" fill="#FF0000"/>
<circle cx="627.92" cy="29.91" r="2.4" fill="#FF0000"/>
<circle cx="619.66" cy="41.10" r="2.4" fill="#FF0000"/>
<circle cx="617.00" cy="56.63" r="2.4" fill="#FF0000"/>
<circle cx="617.58" cy="69.48" r="2.4" fill="#FF0000"/>
<circle cx="616.90" cy="76.64" r="2.4" fill="#FF0000"/>
<circle cx="617.33" cy="82.80" r="2.4" fill="#FF0000"/>
<circle cx="619.67" cy="88.38" r="2.4" fill="#FF0000"/>
<circle cx="621.38" cy="92.40" r="2.4" fill="#FF0000"/>
<circle cx="618.90" cy="95.60" r="2.4" fill="#FF0000"/>
<circle cx="616.06" cy="99.73" r="2.4" fill="#FF0000"/>
<circle cx="617.14" cy="103.74" r="2.4" fill="#FF0000"/>
<circle cx="613.61" cy="110.55" r="2.4" fill="#FF0000"/>
<circle cx="613.84" cy="117.13" r="2.4" fill="#FF0000"/>
<circle cx="612.37" cy="127.93" r="2.4" fill="#FF0000"/>
<circle cx="615.05" cy="137.95" r="2.4" fill="#FF0000"/>
<circle cx="619.59" cy="150.29" r="2.4" fill="#FF0000"/>
<circle cx="628.84" cy="156.07" r="2.4" fill="#FF0000"/>
<circle cx="639.50" cy="159.30" r="2.4" fill="#FF0000"/>
<circle cx="649.71" cy="153.51" r="2.4" fill="#FF0000"/>
<circle cx="654.99" cy="138.17" r="2.4" fill="#FF0000"/>
<circle cx="659.10" cy="129.55" r="2.4" fill="#FF0000"/>
<circle cx="656.86" cy="116.28" r="2.4" fill="#FF0000"/>
<circle cx="658.65" cy="111.67" r="2.4" fill="#FF0000"/>
<circle cx="660.80" cy="107.90" r="2.4" fill="#FF0000"/>
<circle cx="660.64" cy="103.30" r="2.4" fill="#FF0000"/>
<circle cx="660.18" cy="99.25" r="2.4" fill="#FF0000"/>
<text x="655.0" y="11.9" font-size="14.2" font-weight="bold" fill="#FF0000">E<tspan font-size="10" dy="3.2">g</tspan><tspan dy="-3.2">-like</tspan></text>
<text x="536.5" y="216.6" font-size="24.5" font-weight="bold" fill="#000" text-anchor="start" >d</text>
<circle cx="639.5" cy="292.4" r="12.80" fill="none" stroke="#c8c8c8" stroke-width="1"/>
<circle cx="639.5" cy="292.4" r="25.60" fill="none" stroke="#999" stroke-width="1"/>
<circle cx="639.5" cy="292.4" r="38.40" fill="none" stroke="#c8c8c8" stroke-width="1"/>
<circle cx="639.5" cy="292.4" r="51.20" fill="none" stroke="#999" stroke-width="1"/>
<circle cx="639.5" cy="292.4" r="64.00" fill="none" stroke="#c8c8c8" stroke-width="1"/>
<circle cx="639.5" cy="292.4" r="76.80" fill="none" stroke="#777" stroke-width="1"/>
<line x1="716.30" y1="292.40" x2="562.70" y2="292.40" stroke="#999" stroke-width="1" stroke-linecap="butt" />
<line x1="706.01" y1="254.00" x2="572.99" y2="330.80" stroke="#999" stroke-width="1" stroke-linecap="butt" />
<line x1="677.90" y1="225.89" x2="601.10" y2="358.91" stroke="#999" stroke-width="1" stroke-linecap="butt" />
<line x1="639.50" y1="215.60" x2="639.50" y2="369.20" stroke="#999" stroke-width="1" stroke-linecap="butt" />
<line x1="601.10" y1="225.89" x2="677.90" y2="358.91" stroke="#999" stroke-width="1" stroke-linecap="butt" />
<line x1="572.99" y1="254.00" x2="706.01" y2="330.80" stroke="#999" stroke-width="1" stroke-linecap="butt" />
<text x="639.1" y="208.10000000000002" font-size="11" font-weight="bold" fill="#111" text-anchor="middle" >90</text>
<text x="594.5" y="220.4" font-size="11" font-weight="bold" fill="#111" text-anchor="middle" >120</text>
<text x="680.3" y="220.4" font-size="11" font-weight="bold" fill="#111" text-anchor="middle" >60</text>
<text x="561.4" y="252.10000000000002" font-size="11" font-weight="bold" fill="#111" text-anchor="middle" >150</text>
<text x="712.9" y="252.4" font-size="11" font-weight="bold" fill="#111" text-anchor="middle" >30</text>
<text x="550.5" y="295.20000000000005" font-size="11" font-weight="bold" fill="#111" text-anchor="middle" >180</text>
<text x="722" y="295.9" font-size="11" font-weight="bold" fill="#111" text-anchor="middle" >0</text>
<text x="561.4" y="339.20000000000005" font-size="11" font-weight="bold" fill="#111" text-anchor="middle" >210</text>
<text x="716.2" y="339.20000000000005" font-size="11" font-weight="bold" fill="#111" text-anchor="middle" >330</text>
<text x="594.3" y="371.1" font-size="11" font-weight="bold" fill="#111" text-anchor="middle" >240</text>
<text x="683.3" y="371.1" font-size="11" font-weight="bold" fill="#111" text-anchor="middle" >300</text>
<text x="639" y="381.9" font-size="11" font-weight="bold" fill="#111" text-anchor="middle" >270</text>
<path d="M686.60,292.40 L685.87,291.59 L685.13,290.81 L684.38,290.05 L683.61,289.32 L682.83,288.61 L682.03,287.93 L681.24,287.28 L680.43,286.65 L679.62,286.05 L678.81,285.47 L678.00,284.92 L677.18,284.39 L676.38,283.89 L675.57,283.41 L674.77,282.95 L673.98,282.51 L673.19,282.10 L672.42,281.70 L671.65,281.33 L670.90,280.97 L670.16,280.63 L669.43,280.31 L668.71,280.00 L668.01,279.71 L667.32,279.43 L666.65,279.16 L665.99,278.90 L665.35,278.65 L664.73,278.42 L664.12,278.19 L663.53,277.96 L662.95,277.75 L662.39,277.54 L661.84,277.33 L661.31,277.13 L660.80,276.93 L660.30,276.73 L659.81,276.53 L659.34,276.33 L658.89,276.13 L658.45,275.93 L658.02,275.72 L657.61,275.52 L657.20,275.30 L656.81,275.09 L656.43,274.86 L656.07,274.63 L655.71,274.40 L655.36,274.15 L655.03,273.90 L654.70,273.63 L654.38,273.36 L654.06,273.07 L653.76,272.78 L653.46,272.47 L653.16,272.15 L652.87,271.81 L652.58,271.46 L652.30,271.10 L652.02,270.72 L651.74,270.33 L651.45,269.92 L651.17,269.49 L650.89,269.05 L650.60,268.59 L650.31,268.12 L650.02,267.62 L649.72,267.12 L649.41,266.59 L649.09,266.05 L648.76,265.50 L648.43,264.92 L648.08,264.34 L647.72,263.74 L647.34,263.12 L646.96,262.50 L646.55,261.86 L646.13,261.21 L645.69,260.55 L645.23,259.88 L644.76,259.20 L644.26,258.52 L643.74,257.83 L643.21,257.14 L642.65,256.45 L642.06,255.75 L641.46,255.06 L640.83,254.37 L640.18,253.68 L639.50,253.01 L638.80,252.34 L638.08,251.67 L637.33,251.02 L636.56,250.39 L635.77,249.77 L634.96,249.16 L634.12,248.57 L633.26,248.01 L632.38,247.46 L631.48,246.93 L630.57,246.43 L629.63,245.96 L628.68,245.51 L627.70,245.09 L626.72,244.70 L625.72,244.34 L624.71,244.01 L623.68,243.71 L622.64,243.45 L621.60,243.22 L620.54,243.02 L619.48,242.85 L618.41,242.73 L617.34,242.63 L616.27,242.58 L615.19,242.55 L614.11,242.57 L613.03,242.62 L611.96,242.71 L610.88,242.83 L609.81,242.99 L608.75,243.19 L607.69,243.42 L606.64,243.69 L605.60,243.99 L604.57,244.33 L603.56,244.70 L602.55,245.11 L601.56,245.55 L600.59,246.02 L599.63,246.53 L598.69,247.07 L597.76,247.64 L596.86,248.25 L595.98,248.88 L595.13,249.55 L594.29,250.24 L593.48,250.97 L592.70,251.72 L591.95,252.50 L591.22,253.30 L590.52,254.14 L589.86,254.99 L589.23,255.87 L588.63,256.78 L588.06,257.70 L587.53,258.65 L587.04,259.62 L586.58,260.60 L586.16,261.61 L585.78,262.62 L585.44,263.66 L585.15,264.71 L584.89,265.76 L584.67,266.83 L584.50,267.91 L584.37,269.00 L584.29,270.09 L584.24,271.19 L584.24,272.29 L584.28,273.39 L584.37,274.49 L584.50,275.58 L584.67,276.68 L584.88,277.77 L585.14,278.85 L585.43,279.92 L585.77,280.98 L586.14,282.03 L586.55,283.06 L587.00,284.08 L587.48,285.09 L587.99,286.08 L588.54,287.04 L589.12,287.99 L589.72,288.92 L590.36,289.82 L591.02,290.71 L591.70,291.57 L592.40,292.40 L593.13,293.21 L593.87,293.99 L594.62,294.75 L595.39,295.48 L596.17,296.19 L596.97,296.87 L597.76,297.52 L598.57,298.15 L599.38,298.75 L600.19,299.33 L601.00,299.88 L601.82,300.41 L602.62,300.91 L603.43,301.39 L604.23,301.85 L605.02,302.29 L605.81,302.70 L606.58,303.10 L607.35,303.47 L608.10,303.83 L608.84,304.17 L609.57,304.49 L610.29,304.80 L610.99,305.09 L611.68,305.37 L612.35,305.64 L613.01,305.90 L613.65,306.15 L614.27,306.38 L614.88,306.61 L615.47,306.84 L616.05,307.05 L616.61,307.26 L617.16,307.47 L617.69,307.67 L618.20,307.87 L618.70,308.07 L619.19,308.27 L619.66,308.47 L620.11,308.67 L620.55,308.87 L620.98,309.08 L621.39,309.28 L621.80,309.50 L622.19,309.71 L622.57,309.94 L622.93,310.17 L623.29,310.40 L623.64,310.65 L623.97,310.90 L624.30,311.17 L624.62,311.44 L624.94,311.73 L625.24,312.02 L625.54,312.33 L625.84,312.65 L626.13,312.99 L626.42,313.34 L626.70,313.70 L626.98,314.08 L627.26,314.47 L627.55,314.88 L627.83,315.31 L628.11,315.75 L628.40,316.21 L628.69,316.68 L628.98,317.18 L629.28,317.68 L629.59,318.21 L629.91,318.75 L630.24,319.30 L630.57,319.88 L630.92,320.46 L631.28,321.06 L631.66,321.68 L632.04,322.30 L632.45,322.94 L632.87,323.59 L633.31,324.25 L633.77,324.92 L634.24,325.60 L634.74,326.28 L635.26,326.97 L635.79,327.66 L636.35,328.35 L636.94,329.05 L637.54,329.74 L638.17,330.43 L638.82,331.12 L639.50,331.79 L640.20,332.46 L640.92,333.13 L641.67,333.78 L642.44,334.41 L643.23,335.03 L644.04,335.64 L644.88,336.23 L645.74,336.79 L646.62,337.34 L647.52,337.87 L648.43,338.37 L649.37,338.84 L650.32,339.29 L651.30,339.71 L652.28,340.10 L653.28,340.46 L654.29,340.79 L655.32,341.09 L656.36,341.35 L657.40,341.58 L658.46,341.78 L659.52,341.95 L660.59,342.07 L661.66,342.17 L662.73,342.22 L663.81,342.25 L664.89,342.23 L665.97,342.18 L667.04,342.09 L668.12,341.97 L669.19,341.81 L670.25,341.61 L671.31,341.38 L672.36,341.11 L673.40,340.81 L674.43,340.47 L675.44,340.10 L676.45,339.69 L677.44,339.25 L678.41,338.78 L679.37,338.27 L680.31,337.73 L681.24,337.16 L682.14,336.55 L683.02,335.92 L683.87,335.25 L684.71,334.56 L685.52,333.83 L686.30,333.08 L687.05,332.30 L687.78,331.50 L688.48,330.66 L689.14,329.81 L689.77,328.93 L690.37,328.02 L690.94,327.10 L691.47,326.15 L691.96,325.18 L692.42,324.20 L692.84,323.19 L693.22,322.18 L693.56,321.14 L693.85,320.09 L694.11,319.04 L694.33,317.97 L694.50,316.89 L694.63,315.80 L694.71,314.71 L694.76,313.61 L694.76,312.51 L694.72,311.41 L694.63,310.31 L694.50,309.22 L694.33,308.12 L694.12,307.03 L693.86,305.95 L693.57,304.88 L693.23,303.82 L692.86,302.77 L692.45,301.74 L692.00,300.72 L691.52,299.71 L691.01,298.72 L690.46,297.76 L689.88,296.81 L689.28,295.88 L688.64,294.98 L687.98,294.09 L687.30,293.23 L686.60,292.40 Z" fill="none" stroke="#FF00FF" stroke-width="1.3"/>
<defs><radialGradient id="sph" cx="0.38" cy="0.35" r="0.65"><stop offset="0" stop-color="#FFD0FF"/><stop offset="0.35" stop-color="#FF33FF"/><stop offset="1" stop-color="#E000E0"/></radialGradient></defs>
<circle cx="687.40" cy="292.40" r="2.45" fill="url(#sph)"/>
<circle cx="680.47" cy="285.18" r="2.45" fill="url(#sph)"/>
<circle cx="668.91" cy="281.69" r="2.45" fill="url(#sph)"/>
<circle cx="663.06" cy="278.80" r="2.45" fill="url(#sph)"/>
<circle cx="659.19" cy="275.88" r="2.45" fill="url(#sph)"/>
<circle cx="654.54" cy="274.47" r="2.45" fill="url(#sph)"/>
<circle cx="649.30" cy="275.43" r="2.45" fill="url(#sph)"/>
<circle cx="647.54" cy="270.32" r="2.45" fill="url(#sph)"/>
<circle cx="645.99" cy="255.57" r="2.45" fill="url(#sph)"/>
<circle cx="639.50" cy="248.10" r="2.45" fill="url(#sph)"/>
<circle cx="630.33" cy="240.40" r="2.45" fill="url(#sph)"/>
<circle cx="619.29" cy="236.86" r="2.45" fill="url(#sph)"/>
<circle cx="608.70" cy="239.05" r="2.45" fill="url(#sph)"/>
<circle cx="597.40" cy="242.22" r="2.45" fill="url(#sph)"/>
<circle cx="586.18" cy="247.66" r="2.45" fill="url(#sph)"/>
<circle cx="582.69" cy="259.60" r="2.45" fill="url(#sph)"/>
<circle cx="584.25" cy="272.29" r="2.45" fill="url(#sph)"/>
<circle cx="584.25" cy="282.66" r="2.45" fill="url(#sph)"/>
<circle cx="593.00" cy="292.40" r="2.45" fill="url(#sph)"/>
<circle cx="601.58" cy="299.09" r="2.45" fill="url(#sph)"/>
<circle cx="609.34" cy="303.38" r="2.45" fill="url(#sph)"/>
<circle cx="611.53" cy="308.55" r="2.45" fill="url(#sph)"/>
<circle cx="618.36" cy="310.14" r="2.45" fill="url(#sph)"/>
<circle cx="624.46" cy="310.33" r="2.45" fill="url(#sph)"/>
<circle cx="625.25" cy="317.08" r="2.45" fill="url(#sph)"/>
<circle cx="628.32" cy="323.13" r="2.45" fill="url(#sph)"/>
<circle cx="633.79" cy="324.80" r="2.45" fill="url(#sph)"/>
<circle cx="639.50" cy="326.70" r="2.45" fill="url(#sph)"/>
<circle cx="646.93" cy="334.55" r="2.45" fill="url(#sph)"/>
<circle cx="655.06" cy="335.16" r="2.45" fill="url(#sph)"/>
<circle cx="663.55" cy="334.06" r="2.45" fill="url(#sph)"/>
<circle cx="672.03" cy="331.16" r="2.45" fill="url(#sph)"/>
<circle cx="682.93" cy="328.85" r="2.45" fill="url(#sph)"/>
<circle cx="691.89" cy="322.65" r="2.45" fill="url(#sph)"/>
<circle cx="693.91" cy="312.20" r="2.45" fill="url(#sph)"/>
<circle cx="691.40" cy="301.55" r="2.45" fill="url(#sph)"/>
<text x="655.0" y="209.5" font-size="14.2" font-weight="bold" fill="#FF00FF">A<tspan font-size="10" dy="3.2">g</tspan><tspan dy="-3.2">-like</tspan></text>
</svg></body></html>
